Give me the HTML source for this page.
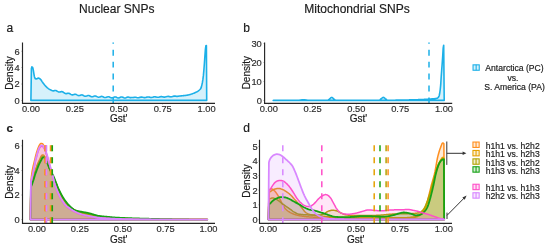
<!DOCTYPE html>
<html><head><meta charset="utf-8"><style>
html,body{margin:0;padding:0;background:#fff;}
svg{display:block;font-family:"Liberation Sans", sans-serif;will-change:transform;}
text{stroke:currentColor;stroke-width:0.18px;paint-order:stroke;}
</style></head><body>
<svg width="550" height="248" viewBox="0 0 550 248">
<rect width="550" height="248" fill="#fff"/>
<text x="116.80" y="13.10" font-size="12.00" text-anchor="middle" font-weight="normal" fill="#1a1a1a" style="color:#1a1a1a" >Nuclear SNPs</text>
<text x="357.00" y="13.10" font-size="12.00" text-anchor="middle" font-weight="normal" fill="#1a1a1a" style="color:#1a1a1a" >Mitochondrial SNPs</text>
<text x="6.40" y="31.80" font-size="12.00" text-anchor="start" font-weight="normal" fill="#1a1a1a" style="color:#1a1a1a" >a</text>
<text x="243.20" y="31.60" font-size="12.00" text-anchor="start" font-weight="normal" fill="#1a1a1a" style="color:#1a1a1a" >b</text>
<text x="6.40" y="131.60" font-size="11.50" text-anchor="start" font-weight="bold" fill="#1a1a1a" style="color:#1a1a1a" >c</text>
<text x="243.20" y="131.60" font-size="12.00" text-anchor="start" font-weight="normal" fill="#1a1a1a" style="color:#1a1a1a" >d</text>
<path d="M30.9,100.4 L30.9,100.40 31.4,68.47 31.9,66.85 32.4,67.11 32.9,68.20 33.4,70.61 33.9,73.87 34.4,76.68 34.9,78.00 35.4,78.81 35.9,78.90 36.4,78.90 36.9,78.83 37.4,78.54 37.9,78.21 38.4,78.10 38.9,78.22 39.4,78.46 39.9,78.77 40.4,79.15 40.9,79.76 41.4,80.51 41.9,81.32 42.4,82.07 42.9,82.73 43.4,83.40 43.9,84.06 44.4,84.70 44.9,85.32 45.4,85.89 45.9,86.40 46.4,86.90 46.9,87.37 47.4,87.82 47.9,88.23 48.4,88.61 48.9,88.94 49.4,89.23 49.9,89.50 50.4,89.74 50.9,89.99 51.4,90.26 51.9,90.50 52.4,90.71 52.9,90.83 53.4,90.84 53.9,90.75 54.4,90.60 54.9,90.50 55.4,90.48 55.9,90.57 56.4,90.76 56.9,91.03 57.4,91.34 57.9,91.63 58.4,91.86 58.9,92.00 59.4,92.03 59.9,91.97 60.4,91.85 60.9,91.73 61.4,91.64 61.9,91.64 62.4,91.75 62.9,91.97 63.4,92.28 63.9,92.64 64.4,93.00 64.9,93.30 65.4,93.50 65.9,93.60 66.4,93.59 66.9,93.50 67.4,93.39 67.9,93.29 68.4,93.27 68.9,93.34 69.4,93.52 69.9,93.78 70.4,94.10 70.9,94.41 71.4,94.67 71.9,94.83 72.4,94.89 72.9,94.84 73.4,94.70 73.9,94.53 74.4,94.37 74.9,94.27 75.4,94.27 75.9,94.38 76.4,94.59 76.9,94.86 77.4,95.14 77.9,95.39 78.4,95.56 78.9,95.62 79.4,95.57 79.9,95.43 80.4,95.24 80.9,95.07 81.4,94.94 81.9,94.91 82.4,94.99 82.9,95.17 83.4,95.43 83.9,95.71 84.4,95.96 84.9,96.15 85.4,96.22 85.9,96.19 86.4,96.06 86.9,95.88 87.4,95.68 87.9,95.54 88.4,95.48 88.9,95.53 89.4,95.69 89.9,95.93 90.4,96.20 90.9,96.46 91.4,96.65 91.9,96.74 92.4,96.72 92.9,96.60 93.4,96.42 93.9,96.22 94.4,96.06 94.9,95.98 95.4,96.00 95.9,96.13 96.4,96.35 96.9,96.62 97.4,96.88 97.9,97.08 98.4,97.19 98.9,97.19 99.4,97.09 99.9,96.91 100.4,96.71 100.9,96.53 101.4,96.42 101.9,96.41 102.4,96.52 102.9,96.71 103.4,96.97 103.9,97.22 104.4,97.43 104.9,97.56 105.4,97.57 105.9,97.48 106.4,97.31 106.9,97.10 107.4,96.90 107.9,96.77 108.4,96.74 108.9,96.82 109.4,97.00 109.9,97.24 110.4,97.49 110.9,97.71 111.4,97.84 111.9,97.86 112.4,97.78 112.9,97.60 113.4,97.38 113.9,97.16 114.4,96.99 114.9,96.92 115.4,96.96 115.9,97.10 116.4,97.31 116.9,97.55 117.4,97.77 117.9,97.91 118.4,97.95 118.9,97.87 119.4,97.71 119.9,97.48 120.4,97.26 120.9,97.08 121.4,96.98 121.9,96.99 122.4,97.12 122.9,97.32 123.4,97.55 123.9,97.78 124.4,97.93 124.9,97.99 125.4,97.94 125.9,97.78 126.4,97.57 126.9,97.33 127.4,97.14 127.9,97.02 128.4,97.06 128.9,97.19 129.4,97.36 129.9,97.51 130.4,97.60 130.9,97.61 131.4,97.57 131.9,97.51 132.4,97.51 132.9,97.51 133.4,97.46 133.9,97.39 134.4,97.31 134.9,97.26 135.4,97.25 135.9,97.32 136.4,97.44 136.9,97.57 137.4,97.68 137.9,97.73 138.4,97.71 138.9,97.64 139.4,97.51 139.9,97.36 140.4,97.22 140.9,97.12 141.4,97.07 141.9,97.10 142.4,97.18 142.9,97.30 143.4,97.43 143.9,97.54 144.4,97.60 144.9,97.60 145.4,97.53 145.9,97.41 146.4,97.26 146.9,97.11 147.4,97.00 147.9,96.94 148.4,96.95 148.9,97.03 149.4,97.14 149.9,97.27 150.4,97.39 150.9,97.46 151.4,97.47 151.9,97.41 152.4,97.30 152.9,97.15 153.4,97.00 153.9,96.88 154.4,96.81 154.9,96.80 155.4,96.86 155.9,96.97 156.4,97.10 156.9,97.22 157.4,97.30 157.9,97.32 158.4,97.27 158.9,97.16 159.4,97.02 159.9,96.86 160.4,96.73 160.9,96.64 161.4,96.62 161.9,96.66 162.4,96.76 162.9,96.88 163.4,97.00 163.9,97.09 164.4,97.11 164.9,97.08 165.4,96.98 165.9,96.83 166.4,96.67 166.9,96.53 167.4,96.43 167.9,96.39 168.4,96.41 168.9,96.50 169.4,96.61 169.9,96.73 170.4,96.82 170.9,96.85 171.4,96.82 171.9,96.73 172.4,96.58 172.9,96.42 173.4,96.26 173.9,96.14 174.4,96.08 174.9,96.08 175.4,96.14 175.9,96.24 176.4,96.34 176.9,96.38 177.4,96.36 177.9,96.30 178.4,96.20 178.9,96.10 179.4,96.02 179.9,95.98 180.4,95.94 180.9,95.90 181.4,95.85 181.9,95.81 182.4,95.76 182.9,95.71 183.4,95.66 183.9,95.60 184.4,95.54 184.9,95.48 185.4,95.42 185.9,95.34 186.4,95.27 186.9,95.19 187.4,95.11 187.9,95.02 188.4,94.92 188.9,94.81 189.4,94.69 189.9,94.55 190.4,94.41 190.9,94.25 191.4,94.10 191.9,93.93 192.4,93.76 192.9,93.58 193.4,93.38 193.9,93.17 194.4,92.96 194.9,92.74 195.4,92.53 195.9,92.31 196.4,92.08 196.9,91.82 197.4,91.54 197.9,91.22 198.4,90.85 198.9,90.44 199.4,90.00 199.9,89.52 200.4,88.96 200.9,88.20 201.4,86.86 201.9,84.87 202.4,82.50 202.9,79.41 203.4,75.40 203.9,69.81 204.4,63.27 204.9,56.00 205.4,49.27 205.9,45.70 206.4,45.50 206.7,100.40 206.7,100.4 Z" fill="#1cb0e8" fill-opacity="0.180" stroke="none"/>
<line x1="113.20" y1="103.30" x2="113.20" y2="42.50" stroke="#1cb0e8" stroke-width="1.50" stroke-dasharray="5.90 6.00"/>
<path d="M30.9,100.4 L30.9,100.40 31.4,68.47 31.9,66.85 32.4,67.11 32.9,68.20 33.4,70.61 33.9,73.87 34.4,76.68 34.9,78.00 35.4,78.81 35.9,78.90 36.4,78.90 36.9,78.83 37.4,78.54 37.9,78.21 38.4,78.10 38.9,78.22 39.4,78.46 39.9,78.77 40.4,79.15 40.9,79.76 41.4,80.51 41.9,81.32 42.4,82.07 42.9,82.73 43.4,83.40 43.9,84.06 44.4,84.70 44.9,85.32 45.4,85.89 45.9,86.40 46.4,86.90 46.9,87.37 47.4,87.82 47.9,88.23 48.4,88.61 48.9,88.94 49.4,89.23 49.9,89.50 50.4,89.74 50.9,89.99 51.4,90.26 51.9,90.50 52.4,90.71 52.9,90.83 53.4,90.84 53.9,90.75 54.4,90.60 54.9,90.50 55.4,90.48 55.9,90.57 56.4,90.76 56.9,91.03 57.4,91.34 57.9,91.63 58.4,91.86 58.9,92.00 59.4,92.03 59.9,91.97 60.4,91.85 60.9,91.73 61.4,91.64 61.9,91.64 62.4,91.75 62.9,91.97 63.4,92.28 63.9,92.64 64.4,93.00 64.9,93.30 65.4,93.50 65.9,93.60 66.4,93.59 66.9,93.50 67.4,93.39 67.9,93.29 68.4,93.27 68.9,93.34 69.4,93.52 69.9,93.78 70.4,94.10 70.9,94.41 71.4,94.67 71.9,94.83 72.4,94.89 72.9,94.84 73.4,94.70 73.9,94.53 74.4,94.37 74.9,94.27 75.4,94.27 75.9,94.38 76.4,94.59 76.9,94.86 77.4,95.14 77.9,95.39 78.4,95.56 78.9,95.62 79.4,95.57 79.9,95.43 80.4,95.24 80.9,95.07 81.4,94.94 81.9,94.91 82.4,94.99 82.9,95.17 83.4,95.43 83.9,95.71 84.4,95.96 84.9,96.15 85.4,96.22 85.9,96.19 86.4,96.06 86.9,95.88 87.4,95.68 87.9,95.54 88.4,95.48 88.9,95.53 89.4,95.69 89.9,95.93 90.4,96.20 90.9,96.46 91.4,96.65 91.9,96.74 92.4,96.72 92.9,96.60 93.4,96.42 93.9,96.22 94.4,96.06 94.9,95.98 95.4,96.00 95.9,96.13 96.4,96.35 96.9,96.62 97.4,96.88 97.9,97.08 98.4,97.19 98.9,97.19 99.4,97.09 99.9,96.91 100.4,96.71 100.9,96.53 101.4,96.42 101.9,96.41 102.4,96.52 102.9,96.71 103.4,96.97 103.9,97.22 104.4,97.43 104.9,97.56 105.4,97.57 105.9,97.48 106.4,97.31 106.9,97.10 107.4,96.90 107.9,96.77 108.4,96.74 108.9,96.82 109.4,97.00 109.9,97.24 110.4,97.49 110.9,97.71 111.4,97.84 111.9,97.86 112.4,97.78 112.9,97.60 113.4,97.38 113.9,97.16 114.4,96.99 114.9,96.92 115.4,96.96 115.9,97.10 116.4,97.31 116.9,97.55 117.4,97.77 117.9,97.91 118.4,97.95 118.9,97.87 119.4,97.71 119.9,97.48 120.4,97.26 120.9,97.08 121.4,96.98 121.9,96.99 122.4,97.12 122.9,97.32 123.4,97.55 123.9,97.78 124.4,97.93 124.9,97.99 125.4,97.94 125.9,97.78 126.4,97.57 126.9,97.33 127.4,97.14 127.9,97.02 128.4,97.06 128.9,97.19 129.4,97.36 129.9,97.51 130.4,97.60 130.9,97.61 131.4,97.57 131.9,97.51 132.4,97.51 132.9,97.51 133.4,97.46 133.9,97.39 134.4,97.31 134.9,97.26 135.4,97.25 135.9,97.32 136.4,97.44 136.9,97.57 137.4,97.68 137.9,97.73 138.4,97.71 138.9,97.64 139.4,97.51 139.9,97.36 140.4,97.22 140.9,97.12 141.4,97.07 141.9,97.10 142.4,97.18 142.9,97.30 143.4,97.43 143.9,97.54 144.4,97.60 144.9,97.60 145.4,97.53 145.9,97.41 146.4,97.26 146.9,97.11 147.4,97.00 147.9,96.94 148.4,96.95 148.9,97.03 149.4,97.14 149.9,97.27 150.4,97.39 150.9,97.46 151.4,97.47 151.9,97.41 152.4,97.30 152.9,97.15 153.4,97.00 153.9,96.88 154.4,96.81 154.9,96.80 155.4,96.86 155.9,96.97 156.4,97.10 156.9,97.22 157.4,97.30 157.9,97.32 158.4,97.27 158.9,97.16 159.4,97.02 159.9,96.86 160.4,96.73 160.9,96.64 161.4,96.62 161.9,96.66 162.4,96.76 162.9,96.88 163.4,97.00 163.9,97.09 164.4,97.11 164.9,97.08 165.4,96.98 165.9,96.83 166.4,96.67 166.9,96.53 167.4,96.43 167.9,96.39 168.4,96.41 168.9,96.50 169.4,96.61 169.9,96.73 170.4,96.82 170.9,96.85 171.4,96.82 171.9,96.73 172.4,96.58 172.9,96.42 173.4,96.26 173.9,96.14 174.4,96.08 174.9,96.08 175.4,96.14 175.9,96.24 176.4,96.34 176.9,96.38 177.4,96.36 177.9,96.30 178.4,96.20 178.9,96.10 179.4,96.02 179.9,95.98 180.4,95.94 180.9,95.90 181.4,95.85 181.9,95.81 182.4,95.76 182.9,95.71 183.4,95.66 183.9,95.60 184.4,95.54 184.9,95.48 185.4,95.42 185.9,95.34 186.4,95.27 186.9,95.19 187.4,95.11 187.9,95.02 188.4,94.92 188.9,94.81 189.4,94.69 189.9,94.55 190.4,94.41 190.9,94.25 191.4,94.10 191.9,93.93 192.4,93.76 192.9,93.58 193.4,93.38 193.9,93.17 194.4,92.96 194.9,92.74 195.4,92.53 195.9,92.31 196.4,92.08 196.9,91.82 197.4,91.54 197.9,91.22 198.4,90.85 198.9,90.44 199.4,90.00 199.9,89.52 200.4,88.96 200.9,88.20 201.4,86.86 201.9,84.87 202.4,82.50 202.9,79.41 203.4,75.40 203.9,69.81 204.4,63.27 204.9,56.00 205.4,49.27 205.9,45.70 206.4,45.50 206.7,100.40 206.7,100.4 Z" fill="none" stroke="#1cb0e8" stroke-width="1.60" stroke-linejoin="round"/>
<path d="M22.50,42.50 V103.30 H215.00" fill="none" stroke="#262626" stroke-width="1.15"/>
<line x1="31.00" y1="103.30" x2="31.00" y2="104.60" stroke="#262626" stroke-width="0.6" opacity="0.5"/>
<text x="31.00" y="112.40" font-size="9.30" text-anchor="middle" font-weight="normal" fill="#2e2e2e" style="color:#2e2e2e" >0.00</text>
<line x1="74.90" y1="103.30" x2="74.90" y2="104.60" stroke="#262626" stroke-width="0.6" opacity="0.5"/>
<text x="74.90" y="112.40" font-size="9.30" text-anchor="middle" font-weight="normal" fill="#2e2e2e" style="color:#2e2e2e" >0.25</text>
<line x1="118.80" y1="103.30" x2="118.80" y2="104.60" stroke="#262626" stroke-width="0.6" opacity="0.5"/>
<text x="118.80" y="112.40" font-size="9.30" text-anchor="middle" font-weight="normal" fill="#2e2e2e" style="color:#2e2e2e" >0.50</text>
<line x1="162.70" y1="103.30" x2="162.70" y2="104.60" stroke="#262626" stroke-width="0.6" opacity="0.5"/>
<text x="162.70" y="112.40" font-size="9.30" text-anchor="middle" font-weight="normal" fill="#2e2e2e" style="color:#2e2e2e" >0.75</text>
<line x1="206.60" y1="103.30" x2="206.60" y2="104.60" stroke="#262626" stroke-width="0.6" opacity="0.5"/>
<text x="206.60" y="112.40" font-size="9.30" text-anchor="middle" font-weight="normal" fill="#2e2e2e" style="color:#2e2e2e" >1.00</text>
<line x1="21.20" y1="100.44" x2="22.50" y2="100.44" stroke="#262626" stroke-width="0.6" opacity="0.5"/>
<text x="19.70" y="103.74" font-size="9.30" text-anchor="end" font-weight="normal" fill="#2e2e2e" style="color:#2e2e2e" >0</text>
<line x1="21.20" y1="84.04" x2="22.50" y2="84.04" stroke="#262626" stroke-width="0.6" opacity="0.5"/>
<text x="19.70" y="87.34" font-size="9.30" text-anchor="end" font-weight="normal" fill="#2e2e2e" style="color:#2e2e2e" >2</text>
<line x1="21.20" y1="67.64" x2="22.50" y2="67.64" stroke="#262626" stroke-width="0.6" opacity="0.5"/>
<text x="19.70" y="70.94" font-size="9.30" text-anchor="end" font-weight="normal" fill="#2e2e2e" style="color:#2e2e2e" >4</text>
<line x1="21.20" y1="51.24" x2="22.50" y2="51.24" stroke="#262626" stroke-width="0.6" opacity="0.5"/>
<text x="19.70" y="54.54" font-size="9.30" text-anchor="end" font-weight="normal" fill="#2e2e2e" style="color:#2e2e2e" >6</text>
<text x="118.80" y="121.90" font-size="10.00" text-anchor="middle" font-weight="normal" fill="#1a1a1a" style="color:#1a1a1a" >Gst'</text>
<text x="0.00" y="0.00" font-size="10.00" text-anchor="middle" font-weight="normal" fill="#1a1a1a" style="color:#1a1a1a" transform="translate(12.5,73) rotate(-90)">Density</text>
<path d="M273.2,100.4 L273.2,100.40 273.7,100.20 274.2,100.20 274.7,100.20 275.2,100.21 275.7,100.21 276.2,100.21 276.7,100.22 277.2,100.22 277.7,100.23 278.2,100.23 278.7,100.23 279.2,100.24 279.7,100.24 280.2,100.24 280.7,100.25 281.2,100.25 281.7,100.25 282.2,100.25 282.7,100.25 283.2,100.25 283.7,100.25 284.2,100.25 284.7,100.25 285.2,100.25 285.7,100.25 286.2,100.25 286.7,100.25 287.2,100.25 287.7,100.25 288.2,100.24 288.7,100.24 289.2,100.24 289.7,100.24 290.2,100.24 290.7,100.24 291.2,100.24 291.7,100.24 292.2,100.23 292.7,100.23 293.2,100.23 293.7,100.23 294.2,100.23 294.7,100.22 295.2,100.22 295.7,100.22 296.2,100.22 296.7,100.21 297.2,100.21 297.7,100.21 298.2,100.21 298.7,100.20 299.2,100.20 299.7,100.17 300.2,100.11 300.7,100.04 301.2,99.96 301.7,99.88 302.2,99.81 302.7,99.75 303.2,99.71 303.7,99.70 304.2,99.72 304.7,99.78 305.2,99.85 305.7,99.93 306.2,100.01 306.7,100.09 307.2,100.15 307.7,100.19 308.2,100.20 308.7,100.20 309.2,100.21 309.7,100.21 310.2,100.21 310.7,100.22 311.2,100.22 311.7,100.22 312.2,100.22 312.7,100.22 313.2,100.23 313.7,100.23 314.2,100.23 314.7,100.23 315.2,100.23 315.7,100.23 316.2,100.24 316.7,100.24 317.2,100.24 317.7,100.24 318.2,100.24 318.7,100.24 319.2,100.24 319.7,100.24 320.2,100.24 320.7,100.25 321.2,100.25 321.7,100.25 322.2,100.25 322.7,100.25 323.2,100.25 323.7,100.25 324.2,100.25 324.7,100.25 325.2,100.25 325.7,100.25 326.2,100.25 326.7,100.25 327.2,100.25 327.7,100.25 328.2,100.14 328.7,99.75 329.2,99.25 329.7,98.78 330.2,98.37 330.7,97.92 331.2,97.55 331.7,97.40 332.2,97.55 332.7,97.92 333.2,98.37 333.7,98.78 334.2,99.25 334.7,99.75 335.2,100.14 335.7,100.25 336.2,100.25 336.7,100.25 337.2,100.25 337.7,100.25 338.2,100.25 338.7,100.25 339.2,100.25 339.7,100.25 340.2,100.25 340.7,100.25 341.2,100.25 341.7,100.25 342.2,100.25 342.7,100.25 343.2,100.25 343.7,100.25 344.2,100.25 344.7,100.25 345.2,100.25 345.7,100.25 346.2,100.25 346.7,100.25 347.2,100.25 347.7,100.25 348.2,100.25 348.7,100.25 349.2,100.25 349.7,100.25 350.2,100.25 350.7,100.25 351.2,100.25 351.7,100.25 352.2,100.25 352.7,100.25 353.2,100.25 353.7,100.25 354.2,100.25 354.7,100.25 355.2,100.25 355.7,100.25 356.2,100.25 356.7,100.25 357.2,100.25 357.7,100.25 358.2,100.25 358.7,100.25 359.2,100.25 359.7,100.25 360.2,100.25 360.7,100.25 361.2,100.25 361.7,100.25 362.2,100.25 362.7,100.25 363.2,100.25 363.7,100.25 364.2,100.25 364.7,100.25 365.2,100.25 365.7,100.25 366.2,100.25 366.7,100.25 367.2,100.25 367.7,100.25 368.2,100.25 368.7,100.25 369.2,100.25 369.7,100.25 370.2,100.25 370.7,100.25 371.2,100.25 371.7,100.25 372.2,100.25 372.7,100.25 373.2,100.25 373.7,100.25 374.2,100.25 374.7,100.25 375.2,100.25 375.7,100.25 376.2,100.25 376.7,100.25 377.2,100.25 377.7,100.25 378.2,100.25 378.7,100.25 379.2,100.22 379.7,99.98 380.2,99.57 380.7,99.10 381.2,98.70 381.7,98.32 382.2,97.92 382.7,97.58 383.2,97.41 383.7,97.48 384.2,97.77 384.7,98.16 385.2,98.56 385.7,98.93 386.2,99.38 386.7,99.83 387.2,100.15 387.7,100.25 388.2,100.25 388.7,100.25 389.2,100.25 389.7,100.24 390.2,100.24 390.7,100.24 391.2,100.23 391.7,100.23 392.2,100.22 392.7,100.21 393.2,100.21 393.7,100.20 394.2,100.19 394.7,100.19 395.2,100.18 395.7,100.17 396.2,100.16 396.7,100.15 397.2,100.15 397.7,100.14 398.2,100.13 398.7,100.12 399.2,100.11 399.7,100.10 400.2,100.10 400.7,100.09 401.2,100.08 401.7,100.07 402.2,100.06 402.7,100.05 403.2,100.05 403.7,100.04 404.2,100.03 404.7,100.02 405.2,100.01 405.7,100.00 406.2,99.99 406.7,99.98 407.2,99.97 407.7,99.95 408.2,99.94 408.7,99.93 409.2,99.92 409.7,99.91 410.2,99.90 410.7,99.88 411.2,99.87 411.7,99.86 412.2,99.84 412.7,99.83 413.2,99.82 413.7,99.80 414.2,99.79 414.7,99.77 415.2,99.76 415.7,99.74 416.2,99.73 416.7,99.71 417.2,99.70 417.7,99.68 418.2,99.66 418.7,99.65 419.2,99.63 419.7,99.61 420.2,99.59 420.7,99.57 421.2,99.55 421.7,99.53 422.2,99.51 422.7,99.49 423.2,99.46 423.7,99.44 424.2,99.41 424.7,99.39 425.2,99.36 425.7,99.33 426.2,99.30 426.7,99.27 427.2,99.24 427.7,99.20 428.2,99.17 428.7,99.14 429.2,99.10 429.7,99.06 430.2,99.02 430.7,98.98 431.2,98.95 431.7,98.91 432.2,98.88 432.7,98.85 433.2,98.81 433.7,98.77 434.2,98.72 434.7,98.67 435.2,98.60 435.7,98.53 436.2,98.44 436.7,98.34 437.2,98.23 437.7,98.01 438.2,97.52 438.7,96.78 439.2,95.74 439.7,93.26 440.2,89.75 440.7,84.93 441.2,76.80 441.7,70.00 442.2,63.46 442.7,56.41 443.2,47.92 443.7,45.20 444.2,100.40 444.2,100.4 Z" fill="#1cb0e8" fill-opacity="0.180" stroke="none"/>
<line x1="429.00" y1="103.30" x2="429.00" y2="42.50" stroke="#1cb0e8" stroke-width="1.50" stroke-dasharray="5.90 6.00"/>
<path d="M273.2,100.4 L273.2,100.40 273.7,100.20 274.2,100.20 274.7,100.20 275.2,100.21 275.7,100.21 276.2,100.21 276.7,100.22 277.2,100.22 277.7,100.23 278.2,100.23 278.7,100.23 279.2,100.24 279.7,100.24 280.2,100.24 280.7,100.25 281.2,100.25 281.7,100.25 282.2,100.25 282.7,100.25 283.2,100.25 283.7,100.25 284.2,100.25 284.7,100.25 285.2,100.25 285.7,100.25 286.2,100.25 286.7,100.25 287.2,100.25 287.7,100.25 288.2,100.24 288.7,100.24 289.2,100.24 289.7,100.24 290.2,100.24 290.7,100.24 291.2,100.24 291.7,100.24 292.2,100.23 292.7,100.23 293.2,100.23 293.7,100.23 294.2,100.23 294.7,100.22 295.2,100.22 295.7,100.22 296.2,100.22 296.7,100.21 297.2,100.21 297.7,100.21 298.2,100.21 298.7,100.20 299.2,100.20 299.7,100.17 300.2,100.11 300.7,100.04 301.2,99.96 301.7,99.88 302.2,99.81 302.7,99.75 303.2,99.71 303.7,99.70 304.2,99.72 304.7,99.78 305.2,99.85 305.7,99.93 306.2,100.01 306.7,100.09 307.2,100.15 307.7,100.19 308.2,100.20 308.7,100.20 309.2,100.21 309.7,100.21 310.2,100.21 310.7,100.22 311.2,100.22 311.7,100.22 312.2,100.22 312.7,100.22 313.2,100.23 313.7,100.23 314.2,100.23 314.7,100.23 315.2,100.23 315.7,100.23 316.2,100.24 316.7,100.24 317.2,100.24 317.7,100.24 318.2,100.24 318.7,100.24 319.2,100.24 319.7,100.24 320.2,100.24 320.7,100.25 321.2,100.25 321.7,100.25 322.2,100.25 322.7,100.25 323.2,100.25 323.7,100.25 324.2,100.25 324.7,100.25 325.2,100.25 325.7,100.25 326.2,100.25 326.7,100.25 327.2,100.25 327.7,100.25 328.2,100.14 328.7,99.75 329.2,99.25 329.7,98.78 330.2,98.37 330.7,97.92 331.2,97.55 331.7,97.40 332.2,97.55 332.7,97.92 333.2,98.37 333.7,98.78 334.2,99.25 334.7,99.75 335.2,100.14 335.7,100.25 336.2,100.25 336.7,100.25 337.2,100.25 337.7,100.25 338.2,100.25 338.7,100.25 339.2,100.25 339.7,100.25 340.2,100.25 340.7,100.25 341.2,100.25 341.7,100.25 342.2,100.25 342.7,100.25 343.2,100.25 343.7,100.25 344.2,100.25 344.7,100.25 345.2,100.25 345.7,100.25 346.2,100.25 346.7,100.25 347.2,100.25 347.7,100.25 348.2,100.25 348.7,100.25 349.2,100.25 349.7,100.25 350.2,100.25 350.7,100.25 351.2,100.25 351.7,100.25 352.2,100.25 352.7,100.25 353.2,100.25 353.7,100.25 354.2,100.25 354.7,100.25 355.2,100.25 355.7,100.25 356.2,100.25 356.7,100.25 357.2,100.25 357.7,100.25 358.2,100.25 358.7,100.25 359.2,100.25 359.7,100.25 360.2,100.25 360.7,100.25 361.2,100.25 361.7,100.25 362.2,100.25 362.7,100.25 363.2,100.25 363.7,100.25 364.2,100.25 364.7,100.25 365.2,100.25 365.7,100.25 366.2,100.25 366.7,100.25 367.2,100.25 367.7,100.25 368.2,100.25 368.7,100.25 369.2,100.25 369.7,100.25 370.2,100.25 370.7,100.25 371.2,100.25 371.7,100.25 372.2,100.25 372.7,100.25 373.2,100.25 373.7,100.25 374.2,100.25 374.7,100.25 375.2,100.25 375.7,100.25 376.2,100.25 376.7,100.25 377.2,100.25 377.7,100.25 378.2,100.25 378.7,100.25 379.2,100.22 379.7,99.98 380.2,99.57 380.7,99.10 381.2,98.70 381.7,98.32 382.2,97.92 382.7,97.58 383.2,97.41 383.7,97.48 384.2,97.77 384.7,98.16 385.2,98.56 385.7,98.93 386.2,99.38 386.7,99.83 387.2,100.15 387.7,100.25 388.2,100.25 388.7,100.25 389.2,100.25 389.7,100.24 390.2,100.24 390.7,100.24 391.2,100.23 391.7,100.23 392.2,100.22 392.7,100.21 393.2,100.21 393.7,100.20 394.2,100.19 394.7,100.19 395.2,100.18 395.7,100.17 396.2,100.16 396.7,100.15 397.2,100.15 397.7,100.14 398.2,100.13 398.7,100.12 399.2,100.11 399.7,100.10 400.2,100.10 400.7,100.09 401.2,100.08 401.7,100.07 402.2,100.06 402.7,100.05 403.2,100.05 403.7,100.04 404.2,100.03 404.7,100.02 405.2,100.01 405.7,100.00 406.2,99.99 406.7,99.98 407.2,99.97 407.7,99.95 408.2,99.94 408.7,99.93 409.2,99.92 409.7,99.91 410.2,99.90 410.7,99.88 411.2,99.87 411.7,99.86 412.2,99.84 412.7,99.83 413.2,99.82 413.7,99.80 414.2,99.79 414.7,99.77 415.2,99.76 415.7,99.74 416.2,99.73 416.7,99.71 417.2,99.70 417.7,99.68 418.2,99.66 418.7,99.65 419.2,99.63 419.7,99.61 420.2,99.59 420.7,99.57 421.2,99.55 421.7,99.53 422.2,99.51 422.7,99.49 423.2,99.46 423.7,99.44 424.2,99.41 424.7,99.39 425.2,99.36 425.7,99.33 426.2,99.30 426.7,99.27 427.2,99.24 427.7,99.20 428.2,99.17 428.7,99.14 429.2,99.10 429.7,99.06 430.2,99.02 430.7,98.98 431.2,98.95 431.7,98.91 432.2,98.88 432.7,98.85 433.2,98.81 433.7,98.77 434.2,98.72 434.7,98.67 435.2,98.60 435.7,98.53 436.2,98.44 436.7,98.34 437.2,98.23 437.7,98.01 438.2,97.52 438.7,96.78 439.2,95.74 439.7,93.26 440.2,89.75 440.7,84.93 441.2,76.80 441.7,70.00 442.2,63.46 442.7,56.41 443.2,47.92 443.7,45.20 444.2,100.40 444.2,100.4 Z" fill="none" stroke="#1cb0e8" stroke-width="1.60" stroke-linejoin="round"/>
<path d="M264.60,42.50 V103.30 H452.20" fill="none" stroke="#262626" stroke-width="1.15"/>
<line x1="268.80" y1="103.30" x2="268.80" y2="104.60" stroke="#262626" stroke-width="0.6" opacity="0.5"/>
<text x="268.80" y="112.40" font-size="9.30" text-anchor="middle" font-weight="normal" fill="#2e2e2e" style="color:#2e2e2e" >0.00</text>
<line x1="312.60" y1="103.30" x2="312.60" y2="104.60" stroke="#262626" stroke-width="0.6" opacity="0.5"/>
<text x="312.60" y="112.40" font-size="9.30" text-anchor="middle" font-weight="normal" fill="#2e2e2e" style="color:#2e2e2e" >0.25</text>
<line x1="356.40" y1="103.30" x2="356.40" y2="104.60" stroke="#262626" stroke-width="0.6" opacity="0.5"/>
<text x="356.40" y="112.40" font-size="9.30" text-anchor="middle" font-weight="normal" fill="#2e2e2e" style="color:#2e2e2e" >0.50</text>
<line x1="400.20" y1="103.30" x2="400.20" y2="104.60" stroke="#262626" stroke-width="0.6" opacity="0.5"/>
<text x="400.20" y="112.40" font-size="9.30" text-anchor="middle" font-weight="normal" fill="#2e2e2e" style="color:#2e2e2e" >0.75</text>
<line x1="444.00" y1="103.30" x2="444.00" y2="104.60" stroke="#262626" stroke-width="0.6" opacity="0.5"/>
<text x="444.00" y="112.40" font-size="9.30" text-anchor="middle" font-weight="normal" fill="#2e2e2e" style="color:#2e2e2e" >1.00</text>
<line x1="263.30" y1="100.44" x2="264.60" y2="100.44" stroke="#262626" stroke-width="0.6" opacity="0.5"/>
<text x="261.80" y="103.74" font-size="9.30" text-anchor="end" font-weight="normal" fill="#2e2e2e" style="color:#2e2e2e" >0</text>
<line x1="263.30" y1="81.49" x2="264.60" y2="81.49" stroke="#262626" stroke-width="0.6" opacity="0.5"/>
<text x="261.80" y="84.79" font-size="9.30" text-anchor="end" font-weight="normal" fill="#2e2e2e" style="color:#2e2e2e" >10</text>
<line x1="263.30" y1="62.54" x2="264.60" y2="62.54" stroke="#262626" stroke-width="0.6" opacity="0.5"/>
<text x="261.80" y="65.84" font-size="9.30" text-anchor="end" font-weight="normal" fill="#2e2e2e" style="color:#2e2e2e" >20</text>
<line x1="263.30" y1="43.59" x2="264.60" y2="43.59" stroke="#262626" stroke-width="0.6" opacity="0.5"/>
<text x="261.80" y="46.89" font-size="9.30" text-anchor="end" font-weight="normal" fill="#2e2e2e" style="color:#2e2e2e" >30</text>
<text x="358.50" y="121.90" font-size="10.00" text-anchor="middle" font-weight="normal" fill="#1a1a1a" style="color:#1a1a1a" >Gst'</text>
<text x="0.00" y="0.00" font-size="10.00" text-anchor="middle" font-weight="normal" fill="#1a1a1a" style="color:#1a1a1a" transform="translate(249.5,72.7) rotate(-90)">Density</text>
<rect x="473.05" y="64.85" width="6.20" height="5.40" fill="#1cb0e8" fill-opacity="0.18" stroke="#1cb0e8" stroke-width="1.1"/><line x1="476.15" y1="64.85" x2="476.15" y2="70.25" stroke="#1cb0e8" stroke-width="1.1"/>
<text x="514.50" y="71.00" font-size="8.60" text-anchor="middle" font-weight="normal" fill="#1a1a1a" style="color:#1a1a1a" >Antarctica (PC)</text>
<text x="513.00" y="80.60" font-size="8.60" text-anchor="middle" font-weight="normal" fill="#1a1a1a" style="color:#1a1a1a" >vs.</text>
<text x="514.50" y="90.00" font-size="8.60" text-anchor="middle" font-weight="normal" fill="#1a1a1a" style="color:#1a1a1a" >S. America (PA)</text>
<path d="M30.4,219.6 L30.4,219.60 30.9,181.85 31.4,176.73 31.9,172.90 32.4,169.98 32.9,167.48 33.4,165.19 33.9,163.17 34.4,161.22 34.9,159.15 35.4,156.95 35.9,154.87 36.4,153.09 36.9,151.46 37.4,150.00 37.9,148.62 38.4,147.30 38.9,146.12 39.4,145.16 39.9,144.37 40.4,143.71 40.9,143.50 41.4,143.52 41.9,143.56 42.4,143.62 42.9,144.05 43.4,144.84 43.9,145.80 44.4,147.00 44.9,148.62 45.4,150.34 45.9,152.13 46.4,154.01 46.9,155.87 47.4,157.71 47.9,159.55 48.4,161.36 48.9,163.16 49.4,164.94 49.9,166.66 50.4,168.32 50.9,169.93 51.4,171.49 51.9,173.00 52.4,174.46 52.9,175.88 53.4,177.26 53.9,178.62 54.4,179.94 54.9,181.24 55.4,182.53 55.9,183.80 56.4,185.05 56.9,186.28 57.4,187.49 57.9,188.65 58.4,189.78 58.9,190.87 59.4,191.94 59.9,192.99 60.4,194.01 60.9,194.99 61.4,195.93 61.9,196.83 62.4,197.68 62.9,198.51 63.4,199.31 63.9,200.08 64.4,200.83 64.9,201.54 65.4,202.22 65.9,202.87 66.4,203.50 66.9,204.10 67.4,204.69 67.9,205.25 68.4,205.79 68.9,206.30 69.4,206.78 69.9,207.22 70.4,207.62 70.9,208.02 71.4,208.39 71.9,208.75 72.4,209.09 72.9,209.41 73.4,209.72 73.9,210.01 74.4,210.29 74.9,210.55 75.4,210.80 75.9,211.03 76.4,211.26 76.9,211.47 77.4,211.68 77.9,211.87 78.4,212.06 78.9,212.24 79.4,212.41 79.9,212.57 80.4,212.72 80.9,212.87 81.4,213.01 81.9,213.15 82.4,213.28 82.9,213.41 83.4,213.53 83.9,213.65 84.4,213.77 84.9,213.88 85.4,214.00 85.9,214.11 86.4,214.22 86.9,214.33 87.4,214.43 87.9,214.54 88.4,214.65 88.9,214.76 89.4,214.87 89.9,214.98 90.4,215.09 90.9,215.20 91.4,215.31 91.9,215.42 92.4,215.53 92.9,215.63 93.4,215.74 93.9,215.84 94.4,215.95 94.9,216.04 95.4,216.14 95.9,216.23 96.4,216.32 96.9,216.40 97.4,216.48 97.9,216.56 98.4,216.63 98.9,216.69 99.4,216.76 99.9,216.82 100.4,216.88 100.9,216.95 101.4,217.00 101.9,217.06 102.4,217.12 102.9,217.17 103.4,217.23 103.9,217.28 104.4,217.33 104.9,217.38 105.4,217.43 105.9,217.47 106.4,217.52 106.9,217.56 107.4,217.60 107.9,217.64 108.4,217.68 108.9,217.72 109.4,217.76 109.9,217.79 110.4,217.83 110.9,217.86 111.4,217.89 111.9,217.93 112.4,217.96 112.9,217.99 113.4,218.02 113.9,218.05 114.4,218.09 114.9,218.12 115.4,218.15 115.9,218.17 116.4,218.20 116.9,218.23 117.4,218.26 117.9,218.29 118.4,218.31 118.9,218.34 119.4,218.36 119.9,218.39 120.4,218.41 120.9,218.44 121.4,218.46 121.9,218.49 122.4,218.51 122.9,218.53 123.4,218.55 123.9,218.58 124.4,218.60 124.9,218.62 125.4,218.64 125.9,218.66 126.4,218.68 126.9,218.69 127.4,218.71 127.9,218.73 128.4,218.75 128.9,218.76 129.4,218.78 129.9,218.80 130.4,218.81 130.9,218.83 131.4,218.84 131.9,218.86 132.4,218.87 132.9,218.89 133.4,218.90 133.9,218.92 134.4,218.93 134.9,218.95 135.4,218.96 135.9,218.98 136.4,218.99 136.9,219.00 137.4,219.02 137.9,219.03 138.4,219.04 138.9,219.06 139.4,219.07 139.9,219.08 140.4,219.10 140.9,219.11 141.4,219.12 141.9,219.13 142.4,219.15 142.9,219.16 143.4,219.17 143.9,219.18 144.4,219.19 144.9,219.20 145.4,219.22 145.9,219.23 146.4,219.24 146.9,219.25 147.4,219.26 147.9,219.27 148.4,219.28 148.9,219.29 149.4,219.30 149.9,219.31 150.4,219.32 150.9,219.33 151.4,219.33 151.9,219.34 152.4,219.35 152.9,219.36 153.4,219.37 153.9,219.38 154.4,219.38 154.9,219.39 155.4,219.40 155.9,219.40 156.4,219.41 156.9,219.42 157.4,219.42 157.9,219.43 158.4,219.43 158.9,219.44 159.4,219.44 159.9,219.45 160.4,219.45 160.9,219.46 161.4,219.46 161.9,219.47 162.4,219.47 162.9,219.48 163.4,219.48 163.9,219.49 164.4,219.49 164.9,219.49 165.4,219.50 165.9,219.50 166.4,219.51 166.9,219.51 167.4,219.52 167.9,219.52 168.4,219.52 168.9,219.53 169.4,219.53 169.9,219.54 170.4,219.54 170.9,219.54 171.4,219.55 171.9,219.55 172.4,219.55 172.9,219.56 173.4,219.56 173.9,219.56 174.4,219.57 174.9,219.57 175.4,219.57 175.9,219.57 176.4,219.58 176.9,219.58 177.4,219.58 177.9,219.58 178.4,219.59 178.9,219.59 179.4,219.59 179.9,219.59 180.4,219.59 180.9,219.59 181.4,219.60 181.9,219.60 182.4,219.60 182.9,219.60 183.4,219.60 183.9,219.60 184.4,219.60 184.9,219.60 185.4,219.60 185.9,219.60 186.4,219.60 186.9,219.60 187.4,219.60 187.9,219.60 188.4,219.60 188.9,219.60 189.4,219.60 189.9,219.60 190.4,219.60 190.9,219.60 191.4,219.60 191.9,219.60 192.4,219.60 192.9,219.60 193.4,219.60 193.9,219.60 194.4,219.60 194.9,219.60 195.4,219.60 195.9,219.60 196.4,219.60 196.9,219.60 197.4,219.60 197.9,219.60 198.4,219.60 198.9,219.60 199.4,219.60 199.9,219.60 200.4,219.60 200.9,219.60 201.4,219.60 201.9,219.60 202.4,219.60 202.9,219.60 203.4,219.60 203.9,219.60 204.4,219.60 204.9,219.60 205.4,219.60 205.9,219.60 206.4,219.60 206.9,219.60 207.3,219.60 207.3,219.6 Z" fill="#ff8f1f" fill-opacity="0.170" stroke="none"/>
<path d="M30.4,219.6 L30.4,219.60 30.9,181.85 31.4,176.73 31.9,172.90 32.4,169.98 32.9,167.48 33.4,165.19 33.9,163.17 34.4,161.22 34.9,159.15 35.4,156.95 35.9,154.87 36.4,153.09 36.9,151.46 37.4,150.00 37.9,148.62 38.4,147.30 38.9,146.12 39.4,145.16 39.9,144.37 40.4,143.71 40.9,143.50 41.4,143.52 41.9,143.56 42.4,143.62 42.9,144.05 43.4,144.84 43.9,145.80 44.4,147.00 44.9,148.62 45.4,150.34 45.9,152.13 46.4,154.01 46.9,155.87 47.4,157.71 47.9,159.55 48.4,161.36 48.9,163.16 49.4,164.94 49.9,166.66 50.4,168.32 50.9,169.93 51.4,171.49 51.9,173.00 52.4,174.46 52.9,175.88 53.4,177.26 53.9,178.62 54.4,179.94 54.9,181.24 55.4,182.53 55.9,183.80 56.4,185.05 56.9,186.28 57.4,187.49 57.9,188.65 58.4,189.78 58.9,190.87 59.4,191.94 59.9,192.99 60.4,194.01 60.9,194.99 61.4,195.93 61.9,196.83 62.4,197.68 62.9,198.51 63.4,199.31 63.9,200.08 64.4,200.83 64.9,201.54 65.4,202.22 65.9,202.87 66.4,203.50 66.9,204.10 67.4,204.69 67.9,205.25 68.4,205.79 68.9,206.30 69.4,206.78 69.9,207.22 70.4,207.62 70.9,208.02 71.4,208.39 71.9,208.75 72.4,209.09 72.9,209.41 73.4,209.72 73.9,210.01 74.4,210.29 74.9,210.55 75.4,210.80 75.9,211.03 76.4,211.26 76.9,211.47 77.4,211.68 77.9,211.87 78.4,212.06 78.9,212.24 79.4,212.41 79.9,212.57 80.4,212.72 80.9,212.87 81.4,213.01 81.9,213.15 82.4,213.28 82.9,213.41 83.4,213.53 83.9,213.65 84.4,213.77 84.9,213.88 85.4,214.00 85.9,214.11 86.4,214.22 86.9,214.33 87.4,214.43 87.9,214.54 88.4,214.65 88.9,214.76 89.4,214.87 89.9,214.98 90.4,215.09 90.9,215.20 91.4,215.31 91.9,215.42 92.4,215.53 92.9,215.63 93.4,215.74 93.9,215.84 94.4,215.95 94.9,216.04 95.4,216.14 95.9,216.23 96.4,216.32 96.9,216.40 97.4,216.48 97.9,216.56 98.4,216.63 98.9,216.69 99.4,216.76 99.9,216.82 100.4,216.88 100.9,216.95 101.4,217.00 101.9,217.06 102.4,217.12 102.9,217.17 103.4,217.23 103.9,217.28 104.4,217.33 104.9,217.38 105.4,217.43 105.9,217.47 106.4,217.52 106.9,217.56 107.4,217.60 107.9,217.64 108.4,217.68 108.9,217.72 109.4,217.76 109.9,217.79 110.4,217.83 110.9,217.86 111.4,217.89 111.9,217.93 112.4,217.96 112.9,217.99 113.4,218.02 113.9,218.05 114.4,218.09 114.9,218.12 115.4,218.15 115.9,218.17 116.4,218.20 116.9,218.23 117.4,218.26 117.9,218.29 118.4,218.31 118.9,218.34 119.4,218.36 119.9,218.39 120.4,218.41 120.9,218.44 121.4,218.46 121.9,218.49 122.4,218.51 122.9,218.53 123.4,218.55 123.9,218.58 124.4,218.60 124.9,218.62 125.4,218.64 125.9,218.66 126.4,218.68 126.9,218.69 127.4,218.71 127.9,218.73 128.4,218.75 128.9,218.76 129.4,218.78 129.9,218.80 130.4,218.81 130.9,218.83 131.4,218.84 131.9,218.86 132.4,218.87 132.9,218.89 133.4,218.90 133.9,218.92 134.4,218.93 134.9,218.95 135.4,218.96 135.9,218.98 136.4,218.99 136.9,219.00 137.4,219.02 137.9,219.03 138.4,219.04 138.9,219.06 139.4,219.07 139.9,219.08 140.4,219.10 140.9,219.11 141.4,219.12 141.9,219.13 142.4,219.15 142.9,219.16 143.4,219.17 143.9,219.18 144.4,219.19 144.9,219.20 145.4,219.22 145.9,219.23 146.4,219.24 146.9,219.25 147.4,219.26 147.9,219.27 148.4,219.28 148.9,219.29 149.4,219.30 149.9,219.31 150.4,219.32 150.9,219.33 151.4,219.33 151.9,219.34 152.4,219.35 152.9,219.36 153.4,219.37 153.9,219.38 154.4,219.38 154.9,219.39 155.4,219.40 155.9,219.40 156.4,219.41 156.9,219.42 157.4,219.42 157.9,219.43 158.4,219.43 158.9,219.44 159.4,219.44 159.9,219.45 160.4,219.45 160.9,219.46 161.4,219.46 161.9,219.47 162.4,219.47 162.9,219.48 163.4,219.48 163.9,219.49 164.4,219.49 164.9,219.49 165.4,219.50 165.9,219.50 166.4,219.51 166.9,219.51 167.4,219.52 167.9,219.52 168.4,219.52 168.9,219.53 169.4,219.53 169.9,219.54 170.4,219.54 170.9,219.54 171.4,219.55 171.9,219.55 172.4,219.55 172.9,219.56 173.4,219.56 173.9,219.56 174.4,219.57 174.9,219.57 175.4,219.57 175.9,219.57 176.4,219.58 176.9,219.58 177.4,219.58 177.9,219.58 178.4,219.59 178.9,219.59 179.4,219.59 179.9,219.59 180.4,219.59 180.9,219.59 181.4,219.60 181.9,219.60 182.4,219.60 182.9,219.60 183.4,219.60 183.9,219.60 184.4,219.60 184.9,219.60 185.4,219.60 185.9,219.60 186.4,219.60 186.9,219.60 187.4,219.60 187.9,219.60 188.4,219.60 188.9,219.60 189.4,219.60 189.9,219.60 190.4,219.60 190.9,219.60 191.4,219.60 191.9,219.60 192.4,219.60 192.9,219.60 193.4,219.60 193.9,219.60 194.4,219.60 194.9,219.60 195.4,219.60 195.9,219.60 196.4,219.60 196.9,219.60 197.4,219.60 197.9,219.60 198.4,219.60 198.9,219.60 199.4,219.60 199.9,219.60 200.4,219.60 200.9,219.60 201.4,219.60 201.9,219.60 202.4,219.60 202.9,219.60 203.4,219.60 203.9,219.60 204.4,219.60 204.9,219.60 205.4,219.60 205.9,219.60 206.4,219.60 206.9,219.60 207.3,219.60 207.3,219.6 Z" fill="none" stroke="#ff8f1f" stroke-width="1.50" stroke-linejoin="round"/>
<path d="M30.4,219.6 L30.4,219.60 30.9,184.80 31.4,183.32 31.9,182.34 32.4,180.51 32.9,178.73 33.4,177.02 33.9,175.34 34.4,173.65 34.9,171.98 35.4,170.36 35.9,168.80 36.4,167.31 36.9,165.86 37.4,164.49 37.9,163.23 38.4,162.15 38.9,161.19 39.4,160.21 39.9,159.05 40.4,157.77 40.9,156.67 41.4,155.83 41.9,155.19 42.4,155.06 42.9,155.01 43.4,155.01 43.9,155.38 44.4,156.05 44.9,157.09 45.4,158.50 45.9,159.77 46.4,161.02 46.9,162.26 47.4,163.45 47.9,164.61 48.4,165.77 48.9,166.95 49.4,168.15 49.9,169.35 50.4,170.53 50.9,171.69 51.4,172.84 51.9,173.97 52.4,175.08 52.9,176.16 53.4,177.19 53.9,178.20 54.4,179.23 54.9,180.30 55.4,181.43 55.9,182.68 56.4,184.01 56.9,185.37 57.4,186.74 57.9,188.05 58.4,189.27 58.9,190.39 59.4,191.48 59.9,192.53 60.4,193.54 60.9,194.51 61.4,195.44 61.9,196.33 62.4,197.18 62.9,198.01 63.4,198.80 63.9,199.57 64.4,200.32 64.9,201.03 65.4,201.72 65.9,202.37 66.4,203.00 66.9,203.62 67.4,204.23 67.9,204.81 68.4,205.36 68.9,205.88 69.4,206.37 69.9,206.82 70.4,207.23 70.9,207.62 71.4,207.99 71.9,208.35 72.4,208.68 72.9,209.01 73.4,209.31 73.9,209.60 74.4,209.88 74.9,210.15 75.4,210.40 75.9,210.65 76.4,210.89 76.9,211.11 77.4,211.33 77.9,211.54 78.4,211.74 78.9,211.93 79.4,212.10 79.9,212.27 80.4,212.42 80.9,212.57 81.4,212.72 81.9,212.85 82.4,212.99 82.9,213.12 83.4,213.24 83.9,213.36 84.4,213.48 84.9,213.59 85.4,213.70 85.9,213.81 86.4,213.92 86.9,214.03 87.4,214.14 87.9,214.24 88.4,214.35 88.9,214.46 89.4,214.57 89.9,214.67 90.4,214.78 90.9,214.89 91.4,215.00 91.9,215.11 92.4,215.22 92.9,215.33 93.4,215.43 93.9,215.54 94.4,215.64 94.9,215.74 95.4,215.83 95.9,215.92 96.4,216.01 96.9,216.10 97.4,216.18 97.9,216.26 98.4,216.33 98.9,216.40 99.4,216.47 99.9,216.54 100.4,216.60 100.9,216.67 101.4,216.73 101.9,216.79 102.4,216.85 102.9,216.91 103.4,216.97 103.9,217.03 104.4,217.08 104.9,217.14 105.4,217.19 105.9,217.24 106.4,217.29 106.9,217.34 107.4,217.38 107.9,217.43 108.4,217.47 108.9,217.51 109.4,217.55 109.9,217.59 110.4,217.63 110.9,217.67 111.4,217.70 111.9,217.74 112.4,217.78 112.9,217.81 113.4,217.84 113.9,217.88 114.4,217.91 114.9,217.94 115.4,217.98 115.9,218.01 116.4,218.04 116.9,218.07 117.4,218.10 117.9,218.13 118.4,218.16 118.9,218.19 119.4,218.22 119.9,218.25 120.4,218.27 120.9,218.30 121.4,218.33 121.9,218.35 122.4,218.38 122.9,218.40 123.4,218.43 123.9,218.45 124.4,218.47 124.9,218.50 125.4,218.52 125.9,218.54 126.4,218.56 126.9,218.58 127.4,218.60 127.9,218.62 128.4,218.64 128.9,218.66 129.4,218.68 129.9,218.70 130.4,218.71 130.9,218.73 131.4,218.75 131.9,218.77 132.4,218.78 132.9,218.80 133.4,218.82 133.9,218.83 134.4,218.85 134.9,218.87 135.4,218.88 135.9,218.90 136.4,218.92 136.9,218.93 137.4,218.95 137.9,218.97 138.4,218.98 138.9,219.00 139.4,219.01 139.9,219.03 140.4,219.04 140.9,219.06 141.4,219.07 141.9,219.09 142.4,219.10 142.9,219.11 143.4,219.13 143.9,219.14 144.4,219.16 144.9,219.17 145.4,219.18 145.9,219.19 146.4,219.21 146.9,219.22 147.4,219.23 147.9,219.24 148.4,219.26 148.9,219.27 149.4,219.28 149.9,219.29 150.4,219.30 150.9,219.31 151.4,219.32 151.9,219.33 152.4,219.34 152.9,219.35 153.4,219.36 153.9,219.37 154.4,219.38 154.9,219.38 155.4,219.39 155.9,219.40 156.4,219.41 156.9,219.41 157.4,219.42 157.9,219.43 158.4,219.43 158.9,219.44 159.4,219.44 159.9,219.45 160.4,219.45 160.9,219.46 161.4,219.46 161.9,219.47 162.4,219.47 162.9,219.48 163.4,219.48 163.9,219.49 164.4,219.49 164.9,219.50 165.4,219.50 165.9,219.50 166.4,219.51 166.9,219.51 167.4,219.52 167.9,219.52 168.4,219.52 168.9,219.53 169.4,219.53 169.9,219.54 170.4,219.54 170.9,219.54 171.4,219.55 171.9,219.55 172.4,219.55 172.9,219.56 173.4,219.56 173.9,219.56 174.4,219.57 174.9,219.57 175.4,219.57 175.9,219.57 176.4,219.58 176.9,219.58 177.4,219.58 177.9,219.58 178.4,219.59 178.9,219.59 179.4,219.59 179.9,219.59 180.4,219.59 180.9,219.59 181.4,219.60 181.9,219.60 182.4,219.60 182.9,219.60 183.4,219.60 183.9,219.60 184.4,219.60 184.9,219.60 185.4,219.60 185.9,219.60 186.4,219.60 186.9,219.60 187.4,219.60 187.9,219.60 188.4,219.60 188.9,219.60 189.4,219.60 189.9,219.60 190.4,219.60 190.9,219.60 191.4,219.60 191.9,219.60 192.4,219.60 192.9,219.60 193.4,219.60 193.9,219.60 194.4,219.60 194.9,219.60 195.4,219.60 195.9,219.60 196.4,219.60 196.9,219.60 197.4,219.60 197.9,219.60 198.4,219.60 198.9,219.60 199.4,219.60 199.9,219.60 200.4,219.60 200.9,219.60 201.4,219.60 201.9,219.60 202.4,219.60 202.9,219.60 203.4,219.60 203.9,219.60 204.4,219.60 204.9,219.60 205.4,219.60 205.9,219.60 206.4,219.60 206.9,219.60 207.3,219.60 207.3,219.6 Z" fill="#e5a100" fill-opacity="0.170" stroke="none"/>
<path d="M30.4,219.6 L30.4,219.60 30.9,184.80 31.4,183.32 31.9,182.34 32.4,180.51 32.9,178.73 33.4,177.02 33.9,175.34 34.4,173.65 34.9,171.98 35.4,170.36 35.9,168.80 36.4,167.31 36.9,165.86 37.4,164.49 37.9,163.23 38.4,162.15 38.9,161.19 39.4,160.21 39.9,159.05 40.4,157.77 40.9,156.67 41.4,155.83 41.9,155.19 42.4,155.06 42.9,155.01 43.4,155.01 43.9,155.38 44.4,156.05 44.9,157.09 45.4,158.50 45.9,159.77 46.4,161.02 46.9,162.26 47.4,163.45 47.9,164.61 48.4,165.77 48.9,166.95 49.4,168.15 49.9,169.35 50.4,170.53 50.9,171.69 51.4,172.84 51.9,173.97 52.4,175.08 52.9,176.16 53.4,177.19 53.9,178.20 54.4,179.23 54.9,180.30 55.4,181.43 55.9,182.68 56.4,184.01 56.9,185.37 57.4,186.74 57.9,188.05 58.4,189.27 58.9,190.39 59.4,191.48 59.9,192.53 60.4,193.54 60.9,194.51 61.4,195.44 61.9,196.33 62.4,197.18 62.9,198.01 63.4,198.80 63.9,199.57 64.4,200.32 64.9,201.03 65.4,201.72 65.9,202.37 66.4,203.00 66.9,203.62 67.4,204.23 67.9,204.81 68.4,205.36 68.9,205.88 69.4,206.37 69.9,206.82 70.4,207.23 70.9,207.62 71.4,207.99 71.9,208.35 72.4,208.68 72.9,209.01 73.4,209.31 73.9,209.60 74.4,209.88 74.9,210.15 75.4,210.40 75.9,210.65 76.4,210.89 76.9,211.11 77.4,211.33 77.9,211.54 78.4,211.74 78.9,211.93 79.4,212.10 79.9,212.27 80.4,212.42 80.9,212.57 81.4,212.72 81.9,212.85 82.4,212.99 82.9,213.12 83.4,213.24 83.9,213.36 84.4,213.48 84.9,213.59 85.4,213.70 85.9,213.81 86.4,213.92 86.9,214.03 87.4,214.14 87.9,214.24 88.4,214.35 88.9,214.46 89.4,214.57 89.9,214.67 90.4,214.78 90.9,214.89 91.4,215.00 91.9,215.11 92.4,215.22 92.9,215.33 93.4,215.43 93.9,215.54 94.4,215.64 94.9,215.74 95.4,215.83 95.9,215.92 96.4,216.01 96.9,216.10 97.4,216.18 97.9,216.26 98.4,216.33 98.9,216.40 99.4,216.47 99.9,216.54 100.4,216.60 100.9,216.67 101.4,216.73 101.9,216.79 102.4,216.85 102.9,216.91 103.4,216.97 103.9,217.03 104.4,217.08 104.9,217.14 105.4,217.19 105.9,217.24 106.4,217.29 106.9,217.34 107.4,217.38 107.9,217.43 108.4,217.47 108.9,217.51 109.4,217.55 109.9,217.59 110.4,217.63 110.9,217.67 111.4,217.70 111.9,217.74 112.4,217.78 112.9,217.81 113.4,217.84 113.9,217.88 114.4,217.91 114.9,217.94 115.4,217.98 115.9,218.01 116.4,218.04 116.9,218.07 117.4,218.10 117.9,218.13 118.4,218.16 118.9,218.19 119.4,218.22 119.9,218.25 120.4,218.27 120.9,218.30 121.4,218.33 121.9,218.35 122.4,218.38 122.9,218.40 123.4,218.43 123.9,218.45 124.4,218.47 124.9,218.50 125.4,218.52 125.9,218.54 126.4,218.56 126.9,218.58 127.4,218.60 127.9,218.62 128.4,218.64 128.9,218.66 129.4,218.68 129.9,218.70 130.4,218.71 130.9,218.73 131.4,218.75 131.9,218.77 132.4,218.78 132.9,218.80 133.4,218.82 133.9,218.83 134.4,218.85 134.9,218.87 135.4,218.88 135.9,218.90 136.4,218.92 136.9,218.93 137.4,218.95 137.9,218.97 138.4,218.98 138.9,219.00 139.4,219.01 139.9,219.03 140.4,219.04 140.9,219.06 141.4,219.07 141.9,219.09 142.4,219.10 142.9,219.11 143.4,219.13 143.9,219.14 144.4,219.16 144.9,219.17 145.4,219.18 145.9,219.19 146.4,219.21 146.9,219.22 147.4,219.23 147.9,219.24 148.4,219.26 148.9,219.27 149.4,219.28 149.9,219.29 150.4,219.30 150.9,219.31 151.4,219.32 151.9,219.33 152.4,219.34 152.9,219.35 153.4,219.36 153.9,219.37 154.4,219.38 154.9,219.38 155.4,219.39 155.9,219.40 156.4,219.41 156.9,219.41 157.4,219.42 157.9,219.43 158.4,219.43 158.9,219.44 159.4,219.44 159.9,219.45 160.4,219.45 160.9,219.46 161.4,219.46 161.9,219.47 162.4,219.47 162.9,219.48 163.4,219.48 163.9,219.49 164.4,219.49 164.9,219.50 165.4,219.50 165.9,219.50 166.4,219.51 166.9,219.51 167.4,219.52 167.9,219.52 168.4,219.52 168.9,219.53 169.4,219.53 169.9,219.54 170.4,219.54 170.9,219.54 171.4,219.55 171.9,219.55 172.4,219.55 172.9,219.56 173.4,219.56 173.9,219.56 174.4,219.57 174.9,219.57 175.4,219.57 175.9,219.57 176.4,219.58 176.9,219.58 177.4,219.58 177.9,219.58 178.4,219.59 178.9,219.59 179.4,219.59 179.9,219.59 180.4,219.59 180.9,219.59 181.4,219.60 181.9,219.60 182.4,219.60 182.9,219.60 183.4,219.60 183.9,219.60 184.4,219.60 184.9,219.60 185.4,219.60 185.9,219.60 186.4,219.60 186.9,219.60 187.4,219.60 187.9,219.60 188.4,219.60 188.9,219.60 189.4,219.60 189.9,219.60 190.4,219.60 190.9,219.60 191.4,219.60 191.9,219.60 192.4,219.60 192.9,219.60 193.4,219.60 193.9,219.60 194.4,219.60 194.9,219.60 195.4,219.60 195.9,219.60 196.4,219.60 196.9,219.60 197.4,219.60 197.9,219.60 198.4,219.60 198.9,219.60 199.4,219.60 199.9,219.60 200.4,219.60 200.9,219.60 201.4,219.60 201.9,219.60 202.4,219.60 202.9,219.60 203.4,219.60 203.9,219.60 204.4,219.60 204.9,219.60 205.4,219.60 205.9,219.60 206.4,219.60 206.9,219.60 207.3,219.60 207.3,219.6 Z" fill="none" stroke="#e5a100" stroke-width="1.50" stroke-linejoin="round"/>
<path d="M30.4,219.6 L30.4,219.60 30.9,185.60 31.4,184.25 31.9,183.33 32.4,181.54 32.9,179.77 33.4,178.04 33.9,176.34 34.4,174.65 34.9,172.98 35.4,171.36 35.9,169.80 36.4,168.31 36.9,166.86 37.4,165.49 37.9,164.23 38.4,163.14 38.9,162.17 39.4,161.20 39.9,160.11 40.4,158.94 40.9,157.95 41.4,157.22 41.9,156.61 42.4,156.30 42.9,156.24 43.4,156.20 43.9,156.30 44.4,156.78 44.9,157.45 45.4,158.52 45.9,159.73 46.4,160.95 46.9,162.21 47.4,163.44 47.9,164.65 48.4,165.85 48.9,167.04 49.4,168.21 49.9,169.38 50.4,170.54 50.9,171.69 51.4,172.83 51.9,173.97 52.4,175.08 52.9,176.16 53.4,177.19 53.9,178.20 54.4,179.23 54.9,180.30 55.4,181.43 55.9,182.68 56.4,184.01 56.9,185.37 57.4,186.74 57.9,188.05 58.4,189.27 58.9,190.39 59.4,191.48 59.9,192.53 60.4,193.54 60.9,194.51 61.4,195.44 61.9,196.33 62.4,197.18 62.9,198.01 63.4,198.80 63.9,199.57 64.4,200.32 64.9,201.03 65.4,201.72 65.9,202.37 66.4,203.00 66.9,203.62 67.4,204.23 67.9,204.81 68.4,205.36 68.9,205.88 69.4,206.37 69.9,206.82 70.4,207.23 70.9,207.62 71.4,207.99 71.9,208.35 72.4,208.68 72.9,209.01 73.4,209.31 73.9,209.60 74.4,209.88 74.9,210.15 75.4,210.40 75.9,210.65 76.4,210.89 76.9,211.11 77.4,211.33 77.9,211.54 78.4,211.74 78.9,211.93 79.4,212.10 79.9,212.27 80.4,212.42 80.9,212.57 81.4,212.72 81.9,212.85 82.4,212.99 82.9,213.12 83.4,213.24 83.9,213.36 84.4,213.48 84.9,213.59 85.4,213.70 85.9,213.81 86.4,213.92 86.9,214.03 87.4,214.14 87.9,214.24 88.4,214.35 88.9,214.46 89.4,214.57 89.9,214.67 90.4,214.78 90.9,214.89 91.4,215.00 91.9,215.11 92.4,215.22 92.9,215.33 93.4,215.43 93.9,215.54 94.4,215.64 94.9,215.74 95.4,215.83 95.9,215.92 96.4,216.01 96.9,216.10 97.4,216.18 97.9,216.26 98.4,216.33 98.9,216.40 99.4,216.47 99.9,216.54 100.4,216.60 100.9,216.67 101.4,216.73 101.9,216.79 102.4,216.85 102.9,216.91 103.4,216.97 103.9,217.03 104.4,217.08 104.9,217.14 105.4,217.19 105.9,217.24 106.4,217.29 106.9,217.34 107.4,217.38 107.9,217.43 108.4,217.47 108.9,217.51 109.4,217.55 109.9,217.59 110.4,217.63 110.9,217.67 111.4,217.70 111.9,217.74 112.4,217.78 112.9,217.81 113.4,217.84 113.9,217.88 114.4,217.91 114.9,217.94 115.4,217.98 115.9,218.01 116.4,218.04 116.9,218.07 117.4,218.10 117.9,218.13 118.4,218.16 118.9,218.19 119.4,218.22 119.9,218.25 120.4,218.27 120.9,218.30 121.4,218.33 121.9,218.35 122.4,218.38 122.9,218.40 123.4,218.43 123.9,218.45 124.4,218.47 124.9,218.50 125.4,218.52 125.9,218.54 126.4,218.56 126.9,218.58 127.4,218.60 127.9,218.62 128.4,218.64 128.9,218.66 129.4,218.68 129.9,218.70 130.4,218.71 130.9,218.73 131.4,218.75 131.9,218.77 132.4,218.78 132.9,218.80 133.4,218.82 133.9,218.83 134.4,218.85 134.9,218.87 135.4,218.88 135.9,218.90 136.4,218.92 136.9,218.93 137.4,218.95 137.9,218.97 138.4,218.98 138.9,219.00 139.4,219.01 139.9,219.03 140.4,219.04 140.9,219.06 141.4,219.07 141.9,219.09 142.4,219.10 142.9,219.11 143.4,219.13 143.9,219.14 144.4,219.16 144.9,219.17 145.4,219.18 145.9,219.19 146.4,219.21 146.9,219.22 147.4,219.23 147.9,219.24 148.4,219.26 148.9,219.27 149.4,219.28 149.9,219.29 150.4,219.30 150.9,219.31 151.4,219.32 151.9,219.33 152.4,219.34 152.9,219.35 153.4,219.36 153.9,219.37 154.4,219.38 154.9,219.38 155.4,219.39 155.9,219.40 156.4,219.41 156.9,219.41 157.4,219.42 157.9,219.43 158.4,219.43 158.9,219.44 159.4,219.44 159.9,219.45 160.4,219.45 160.9,219.46 161.4,219.46 161.9,219.47 162.4,219.47 162.9,219.48 163.4,219.48 163.9,219.49 164.4,219.49 164.9,219.50 165.4,219.50 165.9,219.50 166.4,219.51 166.9,219.51 167.4,219.52 167.9,219.52 168.4,219.52 168.9,219.53 169.4,219.53 169.9,219.54 170.4,219.54 170.9,219.54 171.4,219.55 171.9,219.55 172.4,219.55 172.9,219.56 173.4,219.56 173.9,219.56 174.4,219.57 174.9,219.57 175.4,219.57 175.9,219.57 176.4,219.58 176.9,219.58 177.4,219.58 177.9,219.58 178.4,219.59 178.9,219.59 179.4,219.59 179.9,219.59 180.4,219.59 180.9,219.59 181.4,219.60 181.9,219.60 182.4,219.60 182.9,219.60 183.4,219.60 183.9,219.60 184.4,219.60 184.9,219.60 185.4,219.60 185.9,219.60 186.4,219.60 186.9,219.60 187.4,219.60 187.9,219.60 188.4,219.60 188.9,219.60 189.4,219.60 189.9,219.60 190.4,219.60 190.9,219.60 191.4,219.60 191.9,219.60 192.4,219.60 192.9,219.60 193.4,219.60 193.9,219.60 194.4,219.60 194.9,219.60 195.4,219.60 195.9,219.60 196.4,219.60 196.9,219.60 197.4,219.60 197.9,219.60 198.4,219.60 198.9,219.60 199.4,219.60 199.9,219.60 200.4,219.60 200.9,219.60 201.4,219.60 201.9,219.60 202.4,219.60 202.9,219.60 203.4,219.60 203.9,219.60 204.4,219.60 204.9,219.60 205.4,219.60 205.9,219.60 206.4,219.60 206.9,219.60 207.3,219.60 207.3,219.6 Z" fill="#b1a300" fill-opacity="0.170" stroke="none"/>
<path d="M30.4,219.6 L30.4,219.60 30.9,185.60 31.4,184.25 31.9,183.33 32.4,181.54 32.9,179.77 33.4,178.04 33.9,176.34 34.4,174.65 34.9,172.98 35.4,171.36 35.9,169.80 36.4,168.31 36.9,166.86 37.4,165.49 37.9,164.23 38.4,163.14 38.9,162.17 39.4,161.20 39.9,160.11 40.4,158.94 40.9,157.95 41.4,157.22 41.9,156.61 42.4,156.30 42.9,156.24 43.4,156.20 43.9,156.30 44.4,156.78 44.9,157.45 45.4,158.52 45.9,159.73 46.4,160.95 46.9,162.21 47.4,163.44 47.9,164.65 48.4,165.85 48.9,167.04 49.4,168.21 49.9,169.38 50.4,170.54 50.9,171.69 51.4,172.83 51.9,173.97 52.4,175.08 52.9,176.16 53.4,177.19 53.9,178.20 54.4,179.23 54.9,180.30 55.4,181.43 55.9,182.68 56.4,184.01 56.9,185.37 57.4,186.74 57.9,188.05 58.4,189.27 58.9,190.39 59.4,191.48 59.9,192.53 60.4,193.54 60.9,194.51 61.4,195.44 61.9,196.33 62.4,197.18 62.9,198.01 63.4,198.80 63.9,199.57 64.4,200.32 64.9,201.03 65.4,201.72 65.9,202.37 66.4,203.00 66.9,203.62 67.4,204.23 67.9,204.81 68.4,205.36 68.9,205.88 69.4,206.37 69.9,206.82 70.4,207.23 70.9,207.62 71.4,207.99 71.9,208.35 72.4,208.68 72.9,209.01 73.4,209.31 73.9,209.60 74.4,209.88 74.9,210.15 75.4,210.40 75.9,210.65 76.4,210.89 76.9,211.11 77.4,211.33 77.9,211.54 78.4,211.74 78.9,211.93 79.4,212.10 79.9,212.27 80.4,212.42 80.9,212.57 81.4,212.72 81.9,212.85 82.4,212.99 82.9,213.12 83.4,213.24 83.9,213.36 84.4,213.48 84.9,213.59 85.4,213.70 85.9,213.81 86.4,213.92 86.9,214.03 87.4,214.14 87.9,214.24 88.4,214.35 88.9,214.46 89.4,214.57 89.9,214.67 90.4,214.78 90.9,214.89 91.4,215.00 91.9,215.11 92.4,215.22 92.9,215.33 93.4,215.43 93.9,215.54 94.4,215.64 94.9,215.74 95.4,215.83 95.9,215.92 96.4,216.01 96.9,216.10 97.4,216.18 97.9,216.26 98.4,216.33 98.9,216.40 99.4,216.47 99.9,216.54 100.4,216.60 100.9,216.67 101.4,216.73 101.9,216.79 102.4,216.85 102.9,216.91 103.4,216.97 103.9,217.03 104.4,217.08 104.9,217.14 105.4,217.19 105.9,217.24 106.4,217.29 106.9,217.34 107.4,217.38 107.9,217.43 108.4,217.47 108.9,217.51 109.4,217.55 109.9,217.59 110.4,217.63 110.9,217.67 111.4,217.70 111.9,217.74 112.4,217.78 112.9,217.81 113.4,217.84 113.9,217.88 114.4,217.91 114.9,217.94 115.4,217.98 115.9,218.01 116.4,218.04 116.9,218.07 117.4,218.10 117.9,218.13 118.4,218.16 118.9,218.19 119.4,218.22 119.9,218.25 120.4,218.27 120.9,218.30 121.4,218.33 121.9,218.35 122.4,218.38 122.9,218.40 123.4,218.43 123.9,218.45 124.4,218.47 124.9,218.50 125.4,218.52 125.9,218.54 126.4,218.56 126.9,218.58 127.4,218.60 127.9,218.62 128.4,218.64 128.9,218.66 129.4,218.68 129.9,218.70 130.4,218.71 130.9,218.73 131.4,218.75 131.9,218.77 132.4,218.78 132.9,218.80 133.4,218.82 133.9,218.83 134.4,218.85 134.9,218.87 135.4,218.88 135.9,218.90 136.4,218.92 136.9,218.93 137.4,218.95 137.9,218.97 138.4,218.98 138.9,219.00 139.4,219.01 139.9,219.03 140.4,219.04 140.9,219.06 141.4,219.07 141.9,219.09 142.4,219.10 142.9,219.11 143.4,219.13 143.9,219.14 144.4,219.16 144.9,219.17 145.4,219.18 145.9,219.19 146.4,219.21 146.9,219.22 147.4,219.23 147.9,219.24 148.4,219.26 148.9,219.27 149.4,219.28 149.9,219.29 150.4,219.30 150.9,219.31 151.4,219.32 151.9,219.33 152.4,219.34 152.9,219.35 153.4,219.36 153.9,219.37 154.4,219.38 154.9,219.38 155.4,219.39 155.9,219.40 156.4,219.41 156.9,219.41 157.4,219.42 157.9,219.43 158.4,219.43 158.9,219.44 159.4,219.44 159.9,219.45 160.4,219.45 160.9,219.46 161.4,219.46 161.9,219.47 162.4,219.47 162.9,219.48 163.4,219.48 163.9,219.49 164.4,219.49 164.9,219.50 165.4,219.50 165.9,219.50 166.4,219.51 166.9,219.51 167.4,219.52 167.9,219.52 168.4,219.52 168.9,219.53 169.4,219.53 169.9,219.54 170.4,219.54 170.9,219.54 171.4,219.55 171.9,219.55 172.4,219.55 172.9,219.56 173.4,219.56 173.9,219.56 174.4,219.57 174.9,219.57 175.4,219.57 175.9,219.57 176.4,219.58 176.9,219.58 177.4,219.58 177.9,219.58 178.4,219.59 178.9,219.59 179.4,219.59 179.9,219.59 180.4,219.59 180.9,219.59 181.4,219.60 181.9,219.60 182.4,219.60 182.9,219.60 183.4,219.60 183.9,219.60 184.4,219.60 184.9,219.60 185.4,219.60 185.9,219.60 186.4,219.60 186.9,219.60 187.4,219.60 187.9,219.60 188.4,219.60 188.9,219.60 189.4,219.60 189.9,219.60 190.4,219.60 190.9,219.60 191.4,219.60 191.9,219.60 192.4,219.60 192.9,219.60 193.4,219.60 193.9,219.60 194.4,219.60 194.9,219.60 195.4,219.60 195.9,219.60 196.4,219.60 196.9,219.60 197.4,219.60 197.9,219.60 198.4,219.60 198.9,219.60 199.4,219.60 199.9,219.60 200.4,219.60 200.9,219.60 201.4,219.60 201.9,219.60 202.4,219.60 202.9,219.60 203.4,219.60 203.9,219.60 204.4,219.60 204.9,219.60 205.4,219.60 205.9,219.60 206.4,219.60 206.9,219.60 207.3,219.60 207.3,219.6 Z" fill="none" stroke="#b1a300" stroke-width="1.50" stroke-linejoin="round"/>
<path d="M30.4,219.6 L30.4,219.60 30.9,186.74 31.4,185.77 31.9,184.69 32.4,183.21 32.9,181.79 33.4,180.31 33.9,178.69 34.4,176.96 34.9,175.31 35.4,173.82 35.9,172.42 36.4,171.08 36.9,169.76 37.4,168.45 37.9,167.15 38.4,165.90 38.9,164.72 39.4,163.65 39.9,162.64 40.4,161.69 40.9,160.75 41.4,159.80 41.9,158.73 42.4,157.89 42.9,157.51 43.4,157.31 43.9,157.37 44.4,157.61 44.9,157.99 45.4,158.76 45.9,159.66 46.4,160.65 46.9,161.77 47.4,163.05 47.9,164.46 48.4,165.77 48.9,167.05 49.4,168.29 49.9,169.48 50.4,170.58 50.9,171.59 51.4,172.47 51.9,173.29 52.4,174.12 52.9,175.01 53.4,176.02 53.9,177.17 54.4,178.42 54.9,179.70 55.4,180.99 55.9,182.26 56.4,183.58 56.9,184.90 57.4,186.20 57.9,187.44 58.4,188.58 58.9,189.67 59.4,190.73 59.9,191.74 60.4,192.72 60.9,193.67 61.4,194.58 61.9,195.46 62.4,196.33 62.9,197.17 63.4,197.98 63.9,198.77 64.4,199.52 64.9,200.25 65.4,200.94 65.9,201.60 66.4,202.26 66.9,202.90 67.4,203.51 67.9,204.11 68.4,204.68 68.9,205.23 69.4,205.74 69.9,206.23 70.4,206.68 70.9,207.12 71.4,207.56 71.9,207.99 72.4,208.41 72.9,208.80 73.4,209.18 73.9,209.52 74.4,209.83 74.9,210.11 75.4,210.34 75.9,210.53 76.4,210.69 76.9,210.84 77.4,210.96 77.9,211.08 78.4,211.18 78.9,211.28 79.4,211.38 79.9,211.48 80.4,211.58 80.9,211.67 81.4,211.76 81.9,211.85 82.4,211.94 82.9,212.02 83.4,212.10 83.9,212.19 84.4,212.28 84.9,212.37 85.4,212.47 85.9,212.56 86.4,212.65 86.9,212.74 87.4,212.84 87.9,212.94 88.4,213.04 88.9,213.15 89.4,213.27 89.9,213.40 90.4,213.54 90.9,213.69 91.4,213.84 91.9,213.99 92.4,214.14 92.9,214.29 93.4,214.44 93.9,214.59 94.4,214.74 94.9,214.90 95.4,215.06 95.9,215.22 96.4,215.37 96.9,215.51 97.4,215.64 97.9,215.75 98.4,215.83 98.9,215.91 99.4,215.98 99.9,216.05 100.4,216.12 100.9,216.18 101.4,216.24 101.9,216.29 102.4,216.34 102.9,216.39 103.4,216.44 103.9,216.49 104.4,216.53 104.9,216.58 105.4,216.62 105.9,216.67 106.4,216.71 106.9,216.76 107.4,216.81 107.9,216.86 108.4,216.91 108.9,216.96 109.4,217.01 109.9,217.06 110.4,217.11 110.9,217.15 111.4,217.20 111.9,217.25 112.4,217.29 112.9,217.34 113.4,217.38 113.9,217.42 114.4,217.46 114.9,217.50 115.4,217.54 115.9,217.57 116.4,217.60 116.9,217.63 117.4,217.66 117.9,217.69 118.4,217.71 118.9,217.74 119.4,217.77 119.9,217.79 120.4,217.81 120.9,217.84 121.4,217.86 121.9,217.88 122.4,217.91 122.9,217.93 123.4,217.95 123.9,217.97 124.4,217.99 124.9,218.01 125.4,218.03 125.9,218.05 126.4,218.07 126.9,218.09 127.4,218.11 127.9,218.12 128.4,218.14 128.9,218.16 129.4,218.18 129.9,218.20 130.4,218.21 130.9,218.23 131.4,218.25 131.9,218.27 132.4,218.28 132.9,218.30 133.4,218.32 133.9,218.34 134.4,218.35 134.9,218.37 135.4,218.39 135.9,218.40 136.4,218.42 136.9,218.43 137.4,218.45 137.9,218.47 138.4,218.48 138.9,218.50 139.4,218.51 139.9,218.53 140.4,218.54 140.9,218.56 141.4,218.57 141.9,218.59 142.4,218.60 142.9,218.61 143.4,218.63 143.9,218.64 144.4,218.66 144.9,218.67 145.4,218.68 145.9,218.70 146.4,218.71 146.9,218.72 147.4,218.73 147.9,218.75 148.4,218.76 148.9,218.77 149.4,218.79 149.9,218.80 150.4,218.81 150.9,218.82 151.4,218.83 151.9,218.85 152.4,218.86 152.9,218.87 153.4,218.88 153.9,218.89 154.4,218.91 154.9,218.92 155.4,218.93 155.9,218.94 156.4,218.95 156.9,218.96 157.4,218.98 157.9,218.99 158.4,219.00 158.9,219.01 159.4,219.02 159.9,219.03 160.4,219.04 160.9,219.05 161.4,219.07 161.9,219.08 162.4,219.09 162.9,219.10 163.4,219.11 163.9,219.12 164.4,219.13 164.9,219.14 165.4,219.15 165.9,219.16 166.4,219.17 166.9,219.18 167.4,219.19 167.9,219.20 168.4,219.21 168.9,219.22 169.4,219.23 169.9,219.24 170.4,219.25 170.9,219.26 171.4,219.27 171.9,219.27 172.4,219.28 172.9,219.29 173.4,219.30 173.9,219.31 174.4,219.32 174.9,219.33 175.4,219.33 175.9,219.34 176.4,219.35 176.9,219.36 177.4,219.36 177.9,219.37 178.4,219.38 178.9,219.39 179.4,219.39 179.9,219.40 180.4,219.41 180.9,219.41 181.4,219.42 181.9,219.43 182.4,219.43 182.9,219.44 183.4,219.45 183.9,219.45 184.4,219.46 184.9,219.47 185.4,219.47 185.9,219.48 186.4,219.49 186.9,219.49 187.4,219.50 187.9,219.51 188.4,219.51 188.9,219.52 189.4,219.53 189.9,219.53 190.4,219.54 190.9,219.54 191.4,219.55 191.9,219.55 192.4,219.56 192.9,219.56 193.4,219.57 193.9,219.57 194.4,219.58 194.9,219.58 195.4,219.58 195.9,219.59 196.4,219.59 196.9,219.59 197.4,219.59 197.9,219.60 198.4,219.60 198.9,219.60 199.4,219.60 199.9,219.60 200.4,219.60 200.9,219.60 201.4,219.60 201.9,219.60 202.4,219.60 202.9,219.60 203.4,219.60 203.9,219.60 204.4,219.60 204.9,219.60 205.4,219.60 205.9,219.60 206.4,219.60 206.9,219.60 207.3,219.60 207.3,219.6 Z" fill="#16a216" fill-opacity="0.170" stroke="none"/>
<path d="M30.4,219.6 L30.4,219.60 30.9,182.28 31.4,180.50 31.9,178.41 32.4,176.44 32.9,174.10 33.4,171.57 33.9,169.00 34.4,166.45 34.9,163.86 35.4,161.44 35.9,159.35 36.4,157.45 36.9,155.64 37.4,153.84 37.9,152.15 38.4,150.75 38.9,149.53 39.4,148.46 39.9,147.63 40.4,146.99 40.9,146.46 41.4,146.30 41.9,146.35 42.4,146.47 42.9,146.65 43.4,147.20 43.9,148.07 44.4,148.97 44.9,149.93 45.4,151.02 45.9,152.31 46.4,153.88 46.9,155.50 47.4,157.06 47.9,158.65 48.4,160.36 48.9,162.27 49.4,164.24 49.9,166.10 50.4,167.87 50.9,169.61 51.4,171.36 51.9,173.14 52.4,175.00 52.9,176.96 53.4,178.95 53.9,180.92 54.4,182.78 54.9,184.48 55.4,186.02 55.9,187.49 56.4,188.90 56.9,190.25 57.4,191.53 57.9,192.75 58.4,193.90 58.9,195.00 59.4,196.05 59.9,197.05 60.4,198.01 60.9,198.93 61.4,199.81 61.9,200.65 62.4,201.44 62.9,202.20 63.4,202.93 63.9,203.63 64.4,204.29 64.9,204.92 65.4,205.49 65.9,206.01 66.4,206.46 66.9,206.87 67.4,207.25 67.9,207.60 68.4,207.94 68.9,208.27 69.4,208.60 69.9,208.93 70.4,209.27 70.9,209.59 71.4,209.92 71.9,210.24 72.4,210.55 72.9,210.85 73.4,211.14 73.9,211.42 74.4,211.69 74.9,211.95 75.4,212.20 75.9,212.44 76.4,212.67 76.9,212.90 77.4,213.12 77.9,213.33 78.4,213.53 78.9,213.72 79.4,213.90 79.9,214.07 80.4,214.22 80.9,214.37 81.4,214.52 81.9,214.66 82.4,214.80 82.9,214.93 83.4,215.06 83.9,215.18 84.4,215.30 84.9,215.42 85.4,215.53 85.9,215.64 86.4,215.75 86.9,215.86 87.4,215.96 87.9,216.06 88.4,216.16 88.9,216.26 89.4,216.36 89.9,216.46 90.4,216.55 90.9,216.65 91.4,216.75 91.9,216.84 92.4,216.94 92.9,217.03 93.4,217.12 93.9,217.20 94.4,217.29 94.9,217.37 95.4,217.45 95.9,217.52 96.4,217.59 96.9,217.65 97.4,217.71 97.9,217.77 98.4,217.82 98.9,217.87 99.4,217.91 99.9,217.96 100.4,218.00 100.9,218.04 101.4,218.08 101.9,218.12 102.4,218.16 102.9,218.20 103.4,218.23 103.9,218.26 104.4,218.30 104.9,218.33 105.4,218.36 105.9,218.39 106.4,218.42 106.9,218.45 107.4,218.47 107.9,218.50 108.4,218.52 108.9,218.55 109.4,218.57 109.9,218.60 110.4,218.62 110.9,218.64 111.4,218.66 111.9,218.68 112.4,218.71 112.9,218.73 113.4,218.75 113.9,218.77 114.4,218.79 114.9,218.81 115.4,218.83 115.9,218.85 116.4,218.87 116.9,218.89 117.4,218.91 117.9,218.93 118.4,218.95 118.9,218.96 119.4,218.98 119.9,219.00 120.4,219.01 120.9,219.03 121.4,219.05 121.9,219.06 122.4,219.08 122.9,219.09 123.4,219.11 123.9,219.12 124.4,219.13 124.9,219.15 125.4,219.16 125.9,219.17 126.4,219.18 126.9,219.19 127.4,219.20 127.9,219.21 128.4,219.22 128.9,219.23 129.4,219.24 129.9,219.25 130.4,219.26 130.9,219.26 131.4,219.27 131.9,219.28 132.4,219.28 132.9,219.29 133.4,219.30 133.9,219.31 134.4,219.31 134.9,219.32 135.4,219.33 135.9,219.33 136.4,219.34 136.9,219.35 137.4,219.35 137.9,219.36 138.4,219.37 138.9,219.37 139.4,219.38 139.9,219.39 140.4,219.39 140.9,219.40 141.4,219.40 141.9,219.41 142.4,219.42 142.9,219.42 143.4,219.43 143.9,219.43 144.4,219.44 144.9,219.45 145.4,219.45 145.9,219.46 146.4,219.46 146.9,219.47 147.4,219.47 147.9,219.48 148.4,219.48 148.9,219.49 149.4,219.49 149.9,219.50 150.4,219.50 150.9,219.51 151.4,219.51 151.9,219.52 152.4,219.52 152.9,219.52 153.4,219.53 153.9,219.53 154.4,219.54 154.9,219.54 155.4,219.54 155.9,219.55 156.4,219.55 156.9,219.55 157.4,219.56 157.9,219.56 158.4,219.56 158.9,219.57 159.4,219.57 159.9,219.57 160.4,219.57 160.9,219.58 161.4,219.58 161.9,219.58 162.4,219.58 162.9,219.59 163.4,219.59 163.9,219.59 164.4,219.59 164.9,219.59 165.4,219.59 165.9,219.60 166.4,219.60 166.9,219.60 167.4,219.60 167.9,219.60 168.4,219.60 168.9,219.60 169.4,219.60 169.9,219.60 170.4,219.60 170.9,219.60 171.4,219.60 171.9,219.60 172.4,219.60 172.9,219.60 173.4,219.60 173.9,219.60 174.4,219.60 174.9,219.60 175.4,219.60 175.9,219.60 176.4,219.60 176.9,219.60 177.4,219.60 177.9,219.60 178.4,219.60 178.9,219.60 179.4,219.60 179.9,219.60 180.4,219.60 180.9,219.60 181.4,219.60 181.9,219.60 182.4,219.60 182.9,219.60 183.4,219.60 183.9,219.60 184.4,219.60 184.9,219.60 185.4,219.60 185.9,219.60 186.4,219.60 186.9,219.60 187.4,219.60 187.9,219.60 188.4,219.60 188.9,219.60 189.4,219.60 189.9,219.60 190.4,219.60 190.9,219.60 191.4,219.60 191.9,219.60 192.4,219.60 192.9,219.60 193.4,219.60 193.9,219.60 194.4,219.60 194.9,219.60 195.4,219.60 195.9,219.60 196.4,219.60 196.9,219.60 197.4,219.60 197.9,219.60 198.4,219.60 198.9,219.60 199.4,219.60 199.9,219.60 200.4,219.60 200.9,219.60 201.4,219.60 201.9,219.60 202.4,219.60 202.9,219.60 203.4,219.60 203.9,219.60 204.4,219.60 204.9,219.60 205.4,219.60 205.9,219.60 206.4,219.60 206.9,219.60 207.3,219.60 207.3,219.6 Z" fill="#ff30c0" fill-opacity="0.120" stroke="none"/>
<path d="M30.4,219.6 L30.4,219.60 30.9,181.28 31.4,179.50 31.9,177.41 32.4,175.44 32.9,173.10 33.4,170.57 33.9,168.00 34.4,165.45 34.9,162.86 35.4,160.44 35.9,158.35 36.4,156.45 36.9,154.64 37.4,152.84 37.9,151.15 38.4,149.75 38.9,148.53 39.4,147.46 39.9,146.63 40.4,145.99 40.9,145.46 41.4,145.30 41.9,145.35 42.4,145.47 42.9,145.65 43.4,146.20 43.9,147.07 44.4,147.97 44.9,148.93 45.4,150.02 45.9,151.31 46.4,152.88 46.9,154.50 47.4,156.06 47.9,157.65 48.4,159.36 48.9,161.26 49.4,163.24 49.9,165.11 50.4,166.91 50.9,168.70 51.4,170.51 51.9,172.38 52.4,174.41 52.9,176.53 53.4,178.67 53.9,180.74 54.4,182.65 54.9,184.31 55.4,185.82 55.9,187.24 56.4,188.58 56.9,189.86 57.4,191.07 57.9,192.22 58.4,193.33 58.9,194.40 59.4,195.43 59.9,196.43 60.4,197.39 60.9,198.31 61.4,199.19 61.9,200.03 62.4,200.83 62.9,201.60 63.4,202.34 63.9,203.06 64.4,203.75 64.9,204.39 65.4,204.98 65.9,205.50 66.4,205.96 66.9,206.37 67.4,206.75 67.9,207.10 68.4,207.43 68.9,207.77 69.4,208.10 69.9,208.44 70.4,208.78 70.9,209.11 71.4,209.45 71.9,209.77 72.4,210.09 72.9,210.41 73.4,210.71 73.9,211.00 74.4,211.28 74.9,211.55 75.4,211.80 75.9,212.06 76.4,212.30 76.9,212.54 77.4,212.78 77.9,213.00 78.4,213.21 78.9,213.41 79.4,213.60 79.9,213.77 80.4,213.93 80.9,214.08 81.4,214.22 81.9,214.37 82.4,214.50 82.9,214.63 83.4,214.76 83.9,214.88 84.4,215.00 84.9,215.11 85.4,215.23 85.9,215.34 86.4,215.44 86.9,215.55 87.4,215.65 87.9,215.76 88.4,215.86 88.9,215.96 89.4,216.06 89.9,216.16 90.4,216.27 90.9,216.37 91.4,216.47 91.9,216.57 92.4,216.67 92.9,216.77 93.4,216.86 93.9,216.95 94.4,217.04 94.9,217.13 95.4,217.21 95.9,217.29 96.4,217.37 96.9,217.44 97.4,217.51 97.9,217.57 98.4,217.62 98.9,217.67 99.4,217.73 99.9,217.78 100.4,217.82 100.9,217.87 101.4,217.92 101.9,217.96 102.4,218.00 102.9,218.04 103.4,218.08 103.9,218.12 104.4,218.16 104.9,218.19 105.4,218.23 105.9,218.26 106.4,218.30 106.9,218.33 107.4,218.36 107.9,218.39 108.4,218.42 108.9,218.44 109.4,218.47 109.9,218.50 110.4,218.52 110.9,218.54 111.4,218.57 111.9,218.59 112.4,218.62 112.9,218.64 113.4,218.66 113.9,218.68 114.4,218.71 114.9,218.73 115.4,218.75 115.9,218.77 116.4,218.79 116.9,218.81 117.4,218.83 117.9,218.85 118.4,218.87 118.9,218.89 119.4,218.91 119.9,218.93 120.4,218.95 120.9,218.96 121.4,218.98 121.9,219.00 122.4,219.01 122.9,219.03 123.4,219.04 123.9,219.06 124.4,219.07 124.9,219.09 125.4,219.10 125.9,219.11 126.4,219.13 126.9,219.14 127.4,219.15 127.9,219.16 128.4,219.17 128.9,219.18 129.4,219.19 129.9,219.20 130.4,219.21 130.9,219.21 131.4,219.22 131.9,219.23 132.4,219.24 132.9,219.25 133.4,219.26 133.9,219.26 134.4,219.27 134.9,219.28 135.4,219.29 135.9,219.29 136.4,219.30 136.9,219.31 137.4,219.32 137.9,219.32 138.4,219.33 138.9,219.34 139.4,219.35 139.9,219.35 140.4,219.36 140.9,219.37 141.4,219.38 141.9,219.38 142.4,219.39 142.9,219.40 143.4,219.40 143.9,219.41 144.4,219.42 144.9,219.42 145.4,219.43 145.9,219.44 146.4,219.44 146.9,219.45 147.4,219.45 147.9,219.46 148.4,219.47 148.9,219.47 149.4,219.48 149.9,219.48 150.4,219.49 150.9,219.49 151.4,219.50 151.9,219.50 152.4,219.51 152.9,219.51 153.4,219.52 153.9,219.52 154.4,219.53 154.9,219.53 155.4,219.54 155.9,219.54 156.4,219.54 156.9,219.55 157.4,219.55 157.9,219.55 158.4,219.56 158.9,219.56 159.4,219.56 159.9,219.57 160.4,219.57 160.9,219.57 161.4,219.58 161.9,219.58 162.4,219.58 162.9,219.58 163.4,219.59 163.9,219.59 164.4,219.59 164.9,219.59 165.4,219.59 165.9,219.59 166.4,219.60 166.9,219.60 167.4,219.60 167.9,219.60 168.4,219.60 168.9,219.60 169.4,219.60 169.9,219.60 170.4,219.60 170.9,219.60 171.4,219.60 171.9,219.60 172.4,219.60 172.9,219.60 173.4,219.60 173.9,219.60 174.4,219.60 174.9,219.60 175.4,219.60 175.9,219.60 176.4,219.60 176.9,219.60 177.4,219.60 177.9,219.60 178.4,219.60 178.9,219.60 179.4,219.60 179.9,219.60 180.4,219.60 180.9,219.60 181.4,219.60 181.9,219.60 182.4,219.60 182.9,219.60 183.4,219.60 183.9,219.60 184.4,219.60 184.9,219.60 185.4,219.60 185.9,219.60 186.4,219.60 186.9,219.60 187.4,219.60 187.9,219.60 188.4,219.60 188.9,219.60 189.4,219.60 189.9,219.60 190.4,219.60 190.9,219.60 191.4,219.60 191.9,219.60 192.4,219.60 192.9,219.60 193.4,219.60 193.9,219.60 194.4,219.60 194.9,219.60 195.4,219.60 195.9,219.60 196.4,219.60 196.9,219.60 197.4,219.60 197.9,219.60 198.4,219.60 198.9,219.60 199.4,219.60 199.9,219.60 200.4,219.60 200.9,219.60 201.4,219.60 201.9,219.60 202.4,219.60 202.9,219.60 203.4,219.60 203.9,219.60 204.4,219.60 204.9,219.60 205.4,219.60 205.9,219.60 206.4,219.60 206.9,219.60 207.3,219.60 207.3,219.6 Z" fill="#c860ff" fill-opacity="0.120" stroke="none"/>
<path d="M30.4,219.6 L30.4,219.60 30.9,186.74 31.4,185.77 31.9,184.69 32.4,183.21 32.9,181.79 33.4,180.31 33.9,178.69 34.4,176.96 34.9,175.31 35.4,173.82 35.9,172.42 36.4,171.08 36.9,169.76 37.4,168.45 37.9,167.15 38.4,165.90 38.9,164.72 39.4,163.65 39.9,162.64 40.4,161.69 40.9,160.75 41.4,159.80 41.9,158.73 42.4,157.89 42.9,157.51 43.4,157.31 43.9,157.37 44.4,157.61 44.9,157.99 45.4,158.76 45.9,159.66 46.4,160.65 46.9,161.77 47.4,163.05 47.9,164.46 48.4,165.77 48.9,167.05 49.4,168.29 49.9,169.48 50.4,170.58 50.9,171.59 51.4,172.47 51.9,173.29 52.4,174.12 52.9,175.01 53.4,176.02 53.9,177.17 54.4,178.42 54.9,179.70 55.4,180.99 55.9,182.26 56.4,183.58 56.9,184.90 57.4,186.20 57.9,187.44 58.4,188.58 58.9,189.67 59.4,190.73 59.9,191.74 60.4,192.72 60.9,193.67 61.4,194.58 61.9,195.46 62.4,196.33 62.9,197.17 63.4,197.98 63.9,198.77 64.4,199.52 64.9,200.25 65.4,200.94 65.9,201.60 66.4,202.26 66.9,202.90 67.4,203.51 67.9,204.11 68.4,204.68 68.9,205.23 69.4,205.74 69.9,206.23 70.4,206.68 70.9,207.12 71.4,207.56 71.9,207.99 72.4,208.41 72.9,208.80 73.4,209.18 73.9,209.52 74.4,209.83 74.9,210.11 75.4,210.34 75.9,210.53 76.4,210.69 76.9,210.84 77.4,210.96 77.9,211.08 78.4,211.18 78.9,211.28 79.4,211.38 79.9,211.48 80.4,211.58 80.9,211.67 81.4,211.76 81.9,211.85 82.4,211.94 82.9,212.02 83.4,212.10 83.9,212.19 84.4,212.28 84.9,212.37 85.4,212.47 85.9,212.56 86.4,212.65 86.9,212.74 87.4,212.84 87.9,212.94 88.4,213.04 88.9,213.15 89.4,213.27 89.9,213.40 90.4,213.54 90.9,213.69 91.4,213.84 91.9,213.99 92.4,214.14 92.9,214.29 93.4,214.44 93.9,214.59 94.4,214.74 94.9,214.90 95.4,215.06 95.9,215.22 96.4,215.37 96.9,215.51 97.4,215.64 97.9,215.75 98.4,215.83 98.9,215.91 99.4,215.98 99.9,216.05 100.4,216.12 100.9,216.18 101.4,216.24 101.9,216.29 102.4,216.34 102.9,216.39 103.4,216.44 103.9,216.49 104.4,216.53 104.9,216.58 105.4,216.62 105.9,216.67 106.4,216.71 106.9,216.76 107.4,216.81 107.9,216.86 108.4,216.91 108.9,216.96 109.4,217.01 109.9,217.06 110.4,217.11 110.9,217.15 111.4,217.20 111.9,217.25 112.4,217.29 112.9,217.34 113.4,217.38 113.9,217.42 114.4,217.46 114.9,217.50 115.4,217.54 115.9,217.57 116.4,217.60 116.9,217.63 117.4,217.66 117.9,217.69 118.4,217.71 118.9,217.74 119.4,217.77 119.9,217.79 120.4,217.81 120.9,217.84 121.4,217.86 121.9,217.88 122.4,217.91 122.9,217.93 123.4,217.95 123.9,217.97 124.4,217.99 124.9,218.01 125.4,218.03 125.9,218.05 126.4,218.07 126.9,218.09 127.4,218.11 127.9,218.12 128.4,218.14 128.9,218.16 129.4,218.18 129.9,218.20 130.4,218.21 130.9,218.23 131.4,218.25 131.9,218.27 132.4,218.28 132.9,218.30 133.4,218.32 133.9,218.34 134.4,218.35 134.9,218.37 135.4,218.39 135.9,218.40 136.4,218.42 136.9,218.43 137.4,218.45 137.9,218.47 138.4,218.48 138.9,218.50 139.4,218.51 139.9,218.53 140.4,218.54 140.9,218.56 141.4,218.57 141.9,218.59 142.4,218.60 142.9,218.61 143.4,218.63 143.9,218.64 144.4,218.66 144.9,218.67 145.4,218.68 145.9,218.70 146.4,218.71 146.9,218.72 147.4,218.73 147.9,218.75 148.4,218.76 148.9,218.77 149.4,218.79 149.9,218.80 150.4,218.81 150.9,218.82 151.4,218.83 151.9,218.85 152.4,218.86 152.9,218.87 153.4,218.88 153.9,218.89 154.4,218.91 154.9,218.92 155.4,218.93 155.9,218.94 156.4,218.95 156.9,218.96 157.4,218.98 157.9,218.99 158.4,219.00 158.9,219.01 159.4,219.02 159.9,219.03 160.4,219.04 160.9,219.05 161.4,219.07 161.9,219.08 162.4,219.09 162.9,219.10 163.4,219.11 163.9,219.12 164.4,219.13 164.9,219.14 165.4,219.15 165.9,219.16 166.4,219.17 166.9,219.18 167.4,219.19 167.9,219.20 168.4,219.21 168.9,219.22 169.4,219.23 169.9,219.24 170.4,219.25 170.9,219.26 171.4,219.27 171.9,219.27 172.4,219.28 172.9,219.29 173.4,219.30 173.9,219.31 174.4,219.32 174.9,219.33 175.4,219.33 175.9,219.34 176.4,219.35 176.9,219.36 177.4,219.36 177.9,219.37 178.4,219.38 178.9,219.39 179.4,219.39 179.9,219.40 180.4,219.41 180.9,219.41 181.4,219.42 181.9,219.43 182.4,219.43 182.9,219.44 183.4,219.45 183.9,219.45 184.4,219.46 184.9,219.47 185.4,219.47 185.9,219.48 186.4,219.49 186.9,219.49 187.4,219.50 187.9,219.51 188.4,219.51 188.9,219.52 189.4,219.53 189.9,219.53 190.4,219.54 190.9,219.54 191.4,219.55 191.9,219.55 192.4,219.56 192.9,219.56 193.4,219.57 193.9,219.57 194.4,219.58 194.9,219.58 195.4,219.58 195.9,219.59 196.4,219.59 196.9,219.59 197.4,219.59 197.9,219.60 198.4,219.60 198.9,219.60 199.4,219.60 199.9,219.60 200.4,219.60 200.9,219.60 201.4,219.60 201.9,219.60 202.4,219.60 202.9,219.60 203.4,219.60 203.9,219.60 204.4,219.60 204.9,219.60 205.4,219.60 205.9,219.60 206.4,219.60 206.9,219.60 207.3,219.60 207.3,219.6 Z" fill="none" stroke="#16a216" stroke-width="1.80" stroke-linejoin="round"/>
<path d="M30.4,219.6 L30.4,219.60 30.9,182.28 31.4,180.50 31.9,178.41 32.4,176.44 32.9,174.10 33.4,171.57 33.9,169.00 34.4,166.45 34.9,163.86 35.4,161.44 35.9,159.35 36.4,157.45 36.9,155.64 37.4,153.84 37.9,152.15 38.4,150.75 38.9,149.53 39.4,148.46 39.9,147.63 40.4,146.99 40.9,146.46 41.4,146.30 41.9,146.35 42.4,146.47 42.9,146.65 43.4,147.20 43.9,148.07 44.4,148.97 44.9,149.93 45.4,151.02 45.9,152.31 46.4,153.88 46.9,155.50 47.4,157.06 47.9,158.65 48.4,160.36 48.9,162.27 49.4,164.24 49.9,166.10 50.4,167.87 50.9,169.61 51.4,171.36 51.9,173.14 52.4,175.00 52.9,176.96 53.4,178.95 53.9,180.92 54.4,182.78 54.9,184.48 55.4,186.02 55.9,187.49 56.4,188.90 56.9,190.25 57.4,191.53 57.9,192.75 58.4,193.90 58.9,195.00 59.4,196.05 59.9,197.05 60.4,198.01 60.9,198.93 61.4,199.81 61.9,200.65 62.4,201.44 62.9,202.20 63.4,202.93 63.9,203.63 64.4,204.29 64.9,204.92 65.4,205.49 65.9,206.01 66.4,206.46 66.9,206.87 67.4,207.25 67.9,207.60 68.4,207.94 68.9,208.27 69.4,208.60 69.9,208.93 70.4,209.27 70.9,209.59 71.4,209.92 71.9,210.24 72.4,210.55 72.9,210.85 73.4,211.14 73.9,211.42 74.4,211.69 74.9,211.95 75.4,212.20 75.9,212.44 76.4,212.67 76.9,212.90 77.4,213.12 77.9,213.33 78.4,213.53 78.9,213.72 79.4,213.90 79.9,214.07 80.4,214.22 80.9,214.37 81.4,214.52 81.9,214.66 82.4,214.80 82.9,214.93 83.4,215.06 83.9,215.18 84.4,215.30 84.9,215.42 85.4,215.53 85.9,215.64 86.4,215.75 86.9,215.86 87.4,215.96 87.9,216.06 88.4,216.16 88.9,216.26 89.4,216.36 89.9,216.46 90.4,216.55 90.9,216.65 91.4,216.75 91.9,216.84 92.4,216.94 92.9,217.03 93.4,217.12 93.9,217.20 94.4,217.29 94.9,217.37 95.4,217.45 95.9,217.52 96.4,217.59 96.9,217.65 97.4,217.71 97.9,217.77 98.4,217.82 98.9,217.87 99.4,217.91 99.9,217.96 100.4,218.00 100.9,218.04 101.4,218.08 101.9,218.12 102.4,218.16 102.9,218.20 103.4,218.23 103.9,218.26 104.4,218.30 104.9,218.33 105.4,218.36 105.9,218.39 106.4,218.42 106.9,218.45 107.4,218.47 107.9,218.50 108.4,218.52 108.9,218.55 109.4,218.57 109.9,218.60 110.4,218.62 110.9,218.64 111.4,218.66 111.9,218.68 112.4,218.71 112.9,218.73 113.4,218.75 113.9,218.77 114.4,218.79 114.9,218.81 115.4,218.83 115.9,218.85 116.4,218.87 116.9,218.89 117.4,218.91 117.9,218.93 118.4,218.95 118.9,218.96 119.4,218.98 119.9,219.00 120.4,219.01 120.9,219.03 121.4,219.05 121.9,219.06 122.4,219.08 122.9,219.09 123.4,219.11 123.9,219.12 124.4,219.13 124.9,219.15 125.4,219.16 125.9,219.17 126.4,219.18 126.9,219.19 127.4,219.20 127.9,219.21 128.4,219.22 128.9,219.23 129.4,219.24 129.9,219.25 130.4,219.26 130.9,219.26 131.4,219.27 131.9,219.28 132.4,219.28 132.9,219.29 133.4,219.30 133.9,219.31 134.4,219.31 134.9,219.32 135.4,219.33 135.9,219.33 136.4,219.34 136.9,219.35 137.4,219.35 137.9,219.36 138.4,219.37 138.9,219.37 139.4,219.38 139.9,219.39 140.4,219.39 140.9,219.40 141.4,219.40 141.9,219.41 142.4,219.42 142.9,219.42 143.4,219.43 143.9,219.43 144.4,219.44 144.9,219.45 145.4,219.45 145.9,219.46 146.4,219.46 146.9,219.47 147.4,219.47 147.9,219.48 148.4,219.48 148.9,219.49 149.4,219.49 149.9,219.50 150.4,219.50 150.9,219.51 151.4,219.51 151.9,219.52 152.4,219.52 152.9,219.52 153.4,219.53 153.9,219.53 154.4,219.54 154.9,219.54 155.4,219.54 155.9,219.55 156.4,219.55 156.9,219.55 157.4,219.56 157.9,219.56 158.4,219.56 158.9,219.57 159.4,219.57 159.9,219.57 160.4,219.57 160.9,219.58 161.4,219.58 161.9,219.58 162.4,219.58 162.9,219.59 163.4,219.59 163.9,219.59 164.4,219.59 164.9,219.59 165.4,219.59 165.9,219.60 166.4,219.60 166.9,219.60 167.4,219.60 167.9,219.60 168.4,219.60 168.9,219.60 169.4,219.60 169.9,219.60 170.4,219.60 170.9,219.60 171.4,219.60 171.9,219.60 172.4,219.60 172.9,219.60 173.4,219.60 173.9,219.60 174.4,219.60 174.9,219.60 175.4,219.60 175.9,219.60 176.4,219.60 176.9,219.60 177.4,219.60 177.9,219.60 178.4,219.60 178.9,219.60 179.4,219.60 179.9,219.60 180.4,219.60 180.9,219.60 181.4,219.60 181.9,219.60 182.4,219.60 182.9,219.60 183.4,219.60 183.9,219.60 184.4,219.60 184.9,219.60 185.4,219.60 185.9,219.60 186.4,219.60 186.9,219.60 187.4,219.60 187.9,219.60 188.4,219.60 188.9,219.60 189.4,219.60 189.9,219.60 190.4,219.60 190.9,219.60 191.4,219.60 191.9,219.60 192.4,219.60 192.9,219.60 193.4,219.60 193.9,219.60 194.4,219.60 194.9,219.60 195.4,219.60 195.9,219.60 196.4,219.60 196.9,219.60 197.4,219.60 197.9,219.60 198.4,219.60 198.9,219.60 199.4,219.60 199.9,219.60 200.4,219.60 200.9,219.60 201.4,219.60 201.9,219.60 202.4,219.60 202.9,219.60 203.4,219.60 203.9,219.60 204.4,219.60 204.9,219.60 205.4,219.60 205.9,219.60 206.4,219.60 206.9,219.60 207.3,219.60 207.3,219.6 Z" fill="none" stroke="#ff4fc8" stroke-width="1.50" stroke-linejoin="round"/>
<path d="M30.4,219.6 L30.4,219.60 30.9,181.28 31.4,179.50 31.9,177.41 32.4,175.44 32.9,173.10 33.4,170.57 33.9,168.00 34.4,165.45 34.9,162.86 35.4,160.44 35.9,158.35 36.4,156.45 36.9,154.64 37.4,152.84 37.9,151.15 38.4,149.75 38.9,148.53 39.4,147.46 39.9,146.63 40.4,145.99 40.9,145.46 41.4,145.30 41.9,145.35 42.4,145.47 42.9,145.65 43.4,146.20 43.9,147.07 44.4,147.97 44.9,148.93 45.4,150.02 45.9,151.31 46.4,152.88 46.9,154.50 47.4,156.06 47.9,157.65 48.4,159.36 48.9,161.26 49.4,163.24 49.9,165.11 50.4,166.91 50.9,168.70 51.4,170.51 51.9,172.38 52.4,174.41 52.9,176.53 53.4,178.67 53.9,180.74 54.4,182.65 54.9,184.31 55.4,185.82 55.9,187.24 56.4,188.58 56.9,189.86 57.4,191.07 57.9,192.22 58.4,193.33 58.9,194.40 59.4,195.43 59.9,196.43 60.4,197.39 60.9,198.31 61.4,199.19 61.9,200.03 62.4,200.83 62.9,201.60 63.4,202.34 63.9,203.06 64.4,203.75 64.9,204.39 65.4,204.98 65.9,205.50 66.4,205.96 66.9,206.37 67.4,206.75 67.9,207.10 68.4,207.43 68.9,207.77 69.4,208.10 69.9,208.44 70.4,208.78 70.9,209.11 71.4,209.45 71.9,209.77 72.4,210.09 72.9,210.41 73.4,210.71 73.9,211.00 74.4,211.28 74.9,211.55 75.4,211.80 75.9,212.06 76.4,212.30 76.9,212.54 77.4,212.78 77.9,213.00 78.4,213.21 78.9,213.41 79.4,213.60 79.9,213.77 80.4,213.93 80.9,214.08 81.4,214.22 81.9,214.37 82.4,214.50 82.9,214.63 83.4,214.76 83.9,214.88 84.4,215.00 84.9,215.11 85.4,215.23 85.9,215.34 86.4,215.44 86.9,215.55 87.4,215.65 87.9,215.76 88.4,215.86 88.9,215.96 89.4,216.06 89.9,216.16 90.4,216.27 90.9,216.37 91.4,216.47 91.9,216.57 92.4,216.67 92.9,216.77 93.4,216.86 93.9,216.95 94.4,217.04 94.9,217.13 95.4,217.21 95.9,217.29 96.4,217.37 96.9,217.44 97.4,217.51 97.9,217.57 98.4,217.62 98.9,217.67 99.4,217.73 99.9,217.78 100.4,217.82 100.9,217.87 101.4,217.92 101.9,217.96 102.4,218.00 102.9,218.04 103.4,218.08 103.9,218.12 104.4,218.16 104.9,218.19 105.4,218.23 105.9,218.26 106.4,218.30 106.9,218.33 107.4,218.36 107.9,218.39 108.4,218.42 108.9,218.44 109.4,218.47 109.9,218.50 110.4,218.52 110.9,218.54 111.4,218.57 111.9,218.59 112.4,218.62 112.9,218.64 113.4,218.66 113.9,218.68 114.4,218.71 114.9,218.73 115.4,218.75 115.9,218.77 116.4,218.79 116.9,218.81 117.4,218.83 117.9,218.85 118.4,218.87 118.9,218.89 119.4,218.91 119.9,218.93 120.4,218.95 120.9,218.96 121.4,218.98 121.9,219.00 122.4,219.01 122.9,219.03 123.4,219.04 123.9,219.06 124.4,219.07 124.9,219.09 125.4,219.10 125.9,219.11 126.4,219.13 126.9,219.14 127.4,219.15 127.9,219.16 128.4,219.17 128.9,219.18 129.4,219.19 129.9,219.20 130.4,219.21 130.9,219.21 131.4,219.22 131.9,219.23 132.4,219.24 132.9,219.25 133.4,219.26 133.9,219.26 134.4,219.27 134.9,219.28 135.4,219.29 135.9,219.29 136.4,219.30 136.9,219.31 137.4,219.32 137.9,219.32 138.4,219.33 138.9,219.34 139.4,219.35 139.9,219.35 140.4,219.36 140.9,219.37 141.4,219.38 141.9,219.38 142.4,219.39 142.9,219.40 143.4,219.40 143.9,219.41 144.4,219.42 144.9,219.42 145.4,219.43 145.9,219.44 146.4,219.44 146.9,219.45 147.4,219.45 147.9,219.46 148.4,219.47 148.9,219.47 149.4,219.48 149.9,219.48 150.4,219.49 150.9,219.49 151.4,219.50 151.9,219.50 152.4,219.51 152.9,219.51 153.4,219.52 153.9,219.52 154.4,219.53 154.9,219.53 155.4,219.54 155.9,219.54 156.4,219.54 156.9,219.55 157.4,219.55 157.9,219.55 158.4,219.56 158.9,219.56 159.4,219.56 159.9,219.57 160.4,219.57 160.9,219.57 161.4,219.58 161.9,219.58 162.4,219.58 162.9,219.58 163.4,219.59 163.9,219.59 164.4,219.59 164.9,219.59 165.4,219.59 165.9,219.59 166.4,219.60 166.9,219.60 167.4,219.60 167.9,219.60 168.4,219.60 168.9,219.60 169.4,219.60 169.9,219.60 170.4,219.60 170.9,219.60 171.4,219.60 171.9,219.60 172.4,219.60 172.9,219.60 173.4,219.60 173.9,219.60 174.4,219.60 174.9,219.60 175.4,219.60 175.9,219.60 176.4,219.60 176.9,219.60 177.4,219.60 177.9,219.60 178.4,219.60 178.9,219.60 179.4,219.60 179.9,219.60 180.4,219.60 180.9,219.60 181.4,219.60 181.9,219.60 182.4,219.60 182.9,219.60 183.4,219.60 183.9,219.60 184.4,219.60 184.9,219.60 185.4,219.60 185.9,219.60 186.4,219.60 186.9,219.60 187.4,219.60 187.9,219.60 188.4,219.60 188.9,219.60 189.4,219.60 189.9,219.60 190.4,219.60 190.9,219.60 191.4,219.60 191.9,219.60 192.4,219.60 192.9,219.60 193.4,219.60 193.9,219.60 194.4,219.60 194.9,219.60 195.4,219.60 195.9,219.60 196.4,219.60 196.9,219.60 197.4,219.60 197.9,219.60 198.4,219.60 198.9,219.60 199.4,219.60 199.9,219.60 200.4,219.60 200.9,219.60 201.4,219.60 201.9,219.60 202.4,219.60 202.9,219.60 203.4,219.60 203.9,219.60 204.4,219.60 204.9,219.60 205.4,219.60 205.9,219.60 206.4,219.60 206.9,219.60 207.3,219.60 207.3,219.6 Z" fill="none" stroke="#d887ff" stroke-width="1.75" stroke-linejoin="round"/>
<line x1="45.20" y1="223.30" x2="45.20" y2="140.20" stroke="#e5a100" stroke-width="1.50" stroke-dasharray="6.00 6.00"/>
<line x1="45.20" y1="223.30" x2="45.20" y2="140.20" stroke="#ff8f1f" stroke-width="1.50" stroke-dasharray="6.00 6.00"/>
<line x1="46.30" y1="223.30" x2="46.30" y2="140.20" stroke="#ff4fc8" stroke-width="1.50" stroke-dasharray="6.00 6.00"/>
<line x1="46.50" y1="223.30" x2="46.50" y2="140.20" stroke="#d887ff" stroke-width="1.50" stroke-dasharray="6.00 6.00"/>
<line x1="51.60" y1="223.30" x2="51.60" y2="140.20" stroke="#b1a300" stroke-width="1.50" stroke-dasharray="6.00 6.00"/>
<line x1="50.50" y1="223.30" x2="50.50" y2="140.20" stroke="#ff8f1f" stroke-width="1.50" stroke-dasharray="6.00 6.00"/>
<line x1="52.30" y1="223.30" x2="52.30" y2="140.20" stroke="#16a216" stroke-width="1.50" stroke-dasharray="6.00 6.00"/>
<path d="M22.50,139.80 V223.30 H215.00" fill="none" stroke="#262626" stroke-width="1.15"/>
<line x1="37.00" y1="223.30" x2="37.00" y2="224.60" stroke="#262626" stroke-width="0.6" opacity="0.5"/>
<text x="37.00" y="232.40" font-size="9.30" text-anchor="middle" font-weight="normal" fill="#2e2e2e" style="color:#2e2e2e" >0.00</text>
<line x1="79.90" y1="223.30" x2="79.90" y2="224.60" stroke="#262626" stroke-width="0.6" opacity="0.5"/>
<text x="79.90" y="232.40" font-size="9.30" text-anchor="middle" font-weight="normal" fill="#2e2e2e" style="color:#2e2e2e" >0.25</text>
<line x1="122.80" y1="223.30" x2="122.80" y2="224.60" stroke="#262626" stroke-width="0.6" opacity="0.5"/>
<text x="122.80" y="232.40" font-size="9.30" text-anchor="middle" font-weight="normal" fill="#2e2e2e" style="color:#2e2e2e" >0.50</text>
<line x1="165.60" y1="223.30" x2="165.60" y2="224.60" stroke="#262626" stroke-width="0.6" opacity="0.5"/>
<text x="165.60" y="232.40" font-size="9.30" text-anchor="middle" font-weight="normal" fill="#2e2e2e" style="color:#2e2e2e" >0.75</text>
<line x1="208.50" y1="223.30" x2="208.50" y2="224.60" stroke="#262626" stroke-width="0.6" opacity="0.5"/>
<text x="208.50" y="232.40" font-size="9.30" text-anchor="middle" font-weight="normal" fill="#2e2e2e" style="color:#2e2e2e" >1.00</text>
<line x1="21.20" y1="219.60" x2="22.50" y2="219.60" stroke="#262626" stroke-width="0.6" opacity="0.5"/>
<text x="19.70" y="222.90" font-size="9.30" text-anchor="end" font-weight="normal" fill="#2e2e2e" style="color:#2e2e2e" >0</text>
<line x1="21.20" y1="195.00" x2="22.50" y2="195.00" stroke="#262626" stroke-width="0.6" opacity="0.5"/>
<text x="19.70" y="198.30" font-size="9.30" text-anchor="end" font-weight="normal" fill="#2e2e2e" style="color:#2e2e2e" >2</text>
<line x1="21.20" y1="170.40" x2="22.50" y2="170.40" stroke="#262626" stroke-width="0.6" opacity="0.5"/>
<text x="19.70" y="173.70" font-size="9.30" text-anchor="end" font-weight="normal" fill="#2e2e2e" style="color:#2e2e2e" >4</text>
<line x1="21.20" y1="145.80" x2="22.50" y2="145.80" stroke="#262626" stroke-width="0.6" opacity="0.5"/>
<text x="19.70" y="149.10" font-size="9.30" text-anchor="end" font-weight="normal" fill="#2e2e2e" style="color:#2e2e2e" >6</text>
<text x="118.80" y="242.90" font-size="10.00" text-anchor="middle" font-weight="normal" fill="#1a1a1a" style="color:#1a1a1a" >Gst'</text>
<text x="0.00" y="0.00" font-size="10.00" text-anchor="middle" font-weight="normal" fill="#1a1a1a" style="color:#1a1a1a" transform="translate(12.7,182.2) rotate(-90)">Density</text>
<path d="M268.4,219.6 L268.4,219.60 268.9,190.06 269.4,189.67 269.9,189.29 270.4,188.99 270.9,188.82 271.4,188.83 271.9,188.99 272.4,189.25 272.9,189.54 273.4,189.86 273.9,190.27 274.4,190.74 274.9,191.28 275.4,191.85 275.9,192.44 276.4,193.11 276.9,193.84 277.4,194.63 277.9,195.46 278.4,196.33 278.9,197.22 279.4,198.12 279.9,199.06 280.4,200.10 280.9,201.18 281.4,202.27 281.9,203.30 282.4,204.23 282.9,205.06 283.4,205.87 283.9,206.66 284.4,207.41 284.9,208.11 285.4,208.74 285.9,209.31 286.4,209.80 286.9,210.23 287.4,210.63 287.9,211.01 288.4,211.37 288.9,211.70 289.4,212.02 289.9,212.31 290.4,212.59 290.9,212.85 291.4,213.10 291.9,213.34 292.4,213.56 292.9,213.77 293.4,213.97 293.9,214.17 294.4,214.35 294.9,214.53 295.4,214.69 295.9,214.85 296.4,215.00 296.9,215.14 297.4,215.26 297.9,215.38 298.4,215.48 298.9,215.59 299.4,215.69 299.9,215.78 300.4,215.87 300.9,215.95 301.4,216.04 301.9,216.11 302.4,216.19 302.9,216.26 303.4,216.32 303.9,216.38 304.4,216.44 304.9,216.49 305.4,216.54 305.9,216.59 306.4,216.63 306.9,216.68 307.4,216.72 307.9,216.76 308.4,216.80 308.9,216.84 309.4,216.88 309.9,216.92 310.4,216.95 310.9,216.98 311.4,217.02 311.9,217.05 312.4,217.08 312.9,217.10 313.4,217.13 313.9,217.15 314.4,217.17 314.9,217.20 315.4,217.22 315.9,217.24 316.4,217.25 316.9,217.27 317.4,217.29 317.9,217.31 318.4,217.33 318.9,217.34 319.4,217.36 319.9,217.38 320.4,217.39 320.9,217.41 321.4,217.42 321.9,217.44 322.4,217.45 322.9,217.46 323.4,217.48 323.9,217.49 324.4,217.50 324.9,217.51 325.4,217.52 325.9,217.53 326.4,217.54 326.9,217.55 327.4,217.56 327.9,217.57 328.4,217.58 328.9,217.59 329.4,217.59 329.9,217.60 330.4,217.60 330.9,217.61 331.4,217.62 331.9,217.62 332.4,217.63 332.9,217.63 333.4,217.64 333.9,217.64 334.4,217.65 334.9,217.65 335.4,217.66 335.9,217.66 336.4,217.67 336.9,217.67 337.4,217.68 337.9,217.68 338.4,217.69 338.9,217.69 339.4,217.70 339.9,217.70 340.4,217.71 340.9,217.71 341.4,217.71 341.9,217.72 342.4,217.72 342.9,217.73 343.4,217.73 343.9,217.73 344.4,217.74 344.9,217.74 345.4,217.75 345.9,217.75 346.4,217.75 346.9,217.76 347.4,217.76 347.9,217.76 348.4,217.76 348.9,217.77 349.4,217.77 349.9,217.77 350.4,217.78 350.9,217.78 351.4,217.78 351.9,217.78 352.4,217.78 352.9,217.79 353.4,217.79 353.9,217.79 354.4,217.79 354.9,217.79 355.4,217.79 355.9,217.80 356.4,217.80 356.9,217.80 357.4,217.80 357.9,217.80 358.4,217.80 358.9,217.80 359.4,217.80 359.9,217.80 360.4,217.80 360.9,217.80 361.4,217.80 361.9,217.80 362.4,217.80 362.9,217.80 363.4,217.80 363.9,217.80 364.4,217.80 364.9,217.80 365.4,217.80 365.9,217.80 366.4,217.80 366.9,217.80 367.4,217.80 367.9,217.80 368.4,217.80 368.9,217.80 369.4,217.80 369.9,217.80 370.4,217.80 370.9,217.80 371.4,217.80 371.9,217.80 372.4,217.80 372.9,217.80 373.4,217.80 373.9,217.80 374.4,217.80 374.9,217.80 375.4,217.80 375.9,217.80 376.4,217.80 376.9,217.80 377.4,217.80 377.9,217.80 378.4,217.80 378.9,217.80 379.4,217.80 379.9,217.80 380.4,217.80 380.9,217.80 381.4,217.80 381.9,217.80 382.4,217.80 382.9,217.80 383.4,217.80 383.9,217.80 384.4,217.80 384.9,217.80 385.4,217.80 385.9,217.80 386.4,217.80 386.9,217.80 387.4,217.80 387.9,217.80 388.4,217.80 388.9,217.80 389.4,217.80 389.9,217.80 390.4,217.80 390.9,217.80 391.4,217.80 391.9,217.80 392.4,217.80 392.9,217.80 393.4,217.80 393.9,217.80 394.4,217.80 394.9,217.80 395.4,217.80 395.9,217.80 396.4,217.80 396.9,217.80 397.4,217.80 397.9,217.80 398.4,217.80 398.9,217.80 399.4,217.80 399.9,217.80 400.4,217.80 400.9,217.80 401.4,217.79 401.9,217.79 402.4,217.78 402.9,217.77 403.4,217.76 403.9,217.74 404.4,217.73 404.9,217.71 405.4,217.69 405.9,217.67 406.4,217.65 406.9,217.63 407.4,217.60 407.9,217.58 408.4,217.55 408.9,217.52 409.4,217.49 409.9,217.45 410.4,217.42 410.9,217.38 411.4,217.35 411.9,217.31 412.4,217.26 412.9,217.19 413.4,217.10 413.9,217.00 414.4,216.87 414.9,216.73 415.4,216.58 415.9,216.41 416.4,216.23 416.9,216.04 417.4,215.82 417.9,215.55 418.4,215.23 418.9,214.86 419.4,214.46 419.9,214.04 420.4,213.59 420.9,213.11 421.4,212.55 421.9,211.93 422.4,211.28 422.9,210.63 423.4,210.00 423.9,209.39 424.4,208.73 424.9,207.96 425.4,206.98 425.9,205.72 426.4,204.22 426.9,202.57 427.4,200.84 427.9,199.10 428.4,197.29 428.9,195.33 429.4,193.27 429.9,191.16 430.4,189.05 430.9,186.98 431.4,185.00 431.9,183.15 432.4,181.40 432.9,179.68 433.4,177.95 433.9,176.13 434.4,174.17 434.9,171.98 435.4,169.39 435.9,166.53 436.4,163.59 436.9,160.77 437.4,158.27 437.9,156.19 438.4,154.27 438.9,152.49 439.4,150.84 439.9,149.33 440.4,147.96 440.9,146.62 441.4,145.22 441.9,143.98 442.4,143.14 442.9,142.91 443.4,143.13 443.9,143.71 444.2,219.60 444.2,219.6 Z" fill="#ff8f1f" fill-opacity="0.170" stroke="none"/>
<path d="M268.4,219.6 L268.4,219.60 268.9,190.06 269.4,189.67 269.9,189.29 270.4,188.99 270.9,188.82 271.4,188.83 271.9,188.99 272.4,189.25 272.9,189.54 273.4,189.86 273.9,190.27 274.4,190.74 274.9,191.28 275.4,191.85 275.9,192.44 276.4,193.11 276.9,193.84 277.4,194.63 277.9,195.46 278.4,196.33 278.9,197.22 279.4,198.12 279.9,199.06 280.4,200.10 280.9,201.18 281.4,202.27 281.9,203.30 282.4,204.23 282.9,205.06 283.4,205.87 283.9,206.66 284.4,207.41 284.9,208.11 285.4,208.74 285.9,209.31 286.4,209.80 286.9,210.23 287.4,210.63 287.9,211.01 288.4,211.37 288.9,211.70 289.4,212.02 289.9,212.31 290.4,212.59 290.9,212.85 291.4,213.10 291.9,213.34 292.4,213.56 292.9,213.77 293.4,213.97 293.9,214.17 294.4,214.35 294.9,214.53 295.4,214.69 295.9,214.85 296.4,215.00 296.9,215.14 297.4,215.26 297.9,215.38 298.4,215.48 298.9,215.59 299.4,215.69 299.9,215.78 300.4,215.87 300.9,215.95 301.4,216.04 301.9,216.11 302.4,216.19 302.9,216.26 303.4,216.32 303.9,216.38 304.4,216.44 304.9,216.49 305.4,216.54 305.9,216.59 306.4,216.63 306.9,216.68 307.4,216.72 307.9,216.76 308.4,216.80 308.9,216.84 309.4,216.88 309.9,216.92 310.4,216.95 310.9,216.98 311.4,217.02 311.9,217.05 312.4,217.08 312.9,217.10 313.4,217.13 313.9,217.15 314.4,217.17 314.9,217.20 315.4,217.22 315.9,217.24 316.4,217.25 316.9,217.27 317.4,217.29 317.9,217.31 318.4,217.33 318.9,217.34 319.4,217.36 319.9,217.38 320.4,217.39 320.9,217.41 321.4,217.42 321.9,217.44 322.4,217.45 322.9,217.46 323.4,217.48 323.9,217.49 324.4,217.50 324.9,217.51 325.4,217.52 325.9,217.53 326.4,217.54 326.9,217.55 327.4,217.56 327.9,217.57 328.4,217.58 328.9,217.59 329.4,217.59 329.9,217.60 330.4,217.60 330.9,217.61 331.4,217.62 331.9,217.62 332.4,217.63 332.9,217.63 333.4,217.64 333.9,217.64 334.4,217.65 334.9,217.65 335.4,217.66 335.9,217.66 336.4,217.67 336.9,217.67 337.4,217.68 337.9,217.68 338.4,217.69 338.9,217.69 339.4,217.70 339.9,217.70 340.4,217.71 340.9,217.71 341.4,217.71 341.9,217.72 342.4,217.72 342.9,217.73 343.4,217.73 343.9,217.73 344.4,217.74 344.9,217.74 345.4,217.75 345.9,217.75 346.4,217.75 346.9,217.76 347.4,217.76 347.9,217.76 348.4,217.76 348.9,217.77 349.4,217.77 349.9,217.77 350.4,217.78 350.9,217.78 351.4,217.78 351.9,217.78 352.4,217.78 352.9,217.79 353.4,217.79 353.9,217.79 354.4,217.79 354.9,217.79 355.4,217.79 355.9,217.80 356.4,217.80 356.9,217.80 357.4,217.80 357.9,217.80 358.4,217.80 358.9,217.80 359.4,217.80 359.9,217.80 360.4,217.80 360.9,217.80 361.4,217.80 361.9,217.80 362.4,217.80 362.9,217.80 363.4,217.80 363.9,217.80 364.4,217.80 364.9,217.80 365.4,217.80 365.9,217.80 366.4,217.80 366.9,217.80 367.4,217.80 367.9,217.80 368.4,217.80 368.9,217.80 369.4,217.80 369.9,217.80 370.4,217.80 370.9,217.80 371.4,217.80 371.9,217.80 372.4,217.80 372.9,217.80 373.4,217.80 373.9,217.80 374.4,217.80 374.9,217.80 375.4,217.80 375.9,217.80 376.4,217.80 376.9,217.80 377.4,217.80 377.9,217.80 378.4,217.80 378.9,217.80 379.4,217.80 379.9,217.80 380.4,217.80 380.9,217.80 381.4,217.80 381.9,217.80 382.4,217.80 382.9,217.80 383.4,217.80 383.9,217.80 384.4,217.80 384.9,217.80 385.4,217.80 385.9,217.80 386.4,217.80 386.9,217.80 387.4,217.80 387.9,217.80 388.4,217.80 388.9,217.80 389.4,217.80 389.9,217.80 390.4,217.80 390.9,217.80 391.4,217.80 391.9,217.80 392.4,217.80 392.9,217.80 393.4,217.80 393.9,217.80 394.4,217.80 394.9,217.80 395.4,217.80 395.9,217.80 396.4,217.80 396.9,217.80 397.4,217.80 397.9,217.80 398.4,217.80 398.9,217.80 399.4,217.80 399.9,217.80 400.4,217.80 400.9,217.80 401.4,217.79 401.9,217.79 402.4,217.78 402.9,217.77 403.4,217.76 403.9,217.74 404.4,217.73 404.9,217.71 405.4,217.69 405.9,217.67 406.4,217.65 406.9,217.63 407.4,217.60 407.9,217.58 408.4,217.55 408.9,217.52 409.4,217.49 409.9,217.45 410.4,217.42 410.9,217.38 411.4,217.35 411.9,217.31 412.4,217.26 412.9,217.19 413.4,217.10 413.9,217.00 414.4,216.87 414.9,216.73 415.4,216.58 415.9,216.41 416.4,216.23 416.9,216.04 417.4,215.82 417.9,215.55 418.4,215.23 418.9,214.86 419.4,214.46 419.9,214.04 420.4,213.59 420.9,213.11 421.4,212.55 421.9,211.93 422.4,211.28 422.9,210.63 423.4,210.00 423.9,209.39 424.4,208.73 424.9,207.96 425.4,206.98 425.9,205.72 426.4,204.22 426.9,202.57 427.4,200.84 427.9,199.10 428.4,197.29 428.9,195.33 429.4,193.27 429.9,191.16 430.4,189.05 430.9,186.98 431.4,185.00 431.9,183.15 432.4,181.40 432.9,179.68 433.4,177.95 433.9,176.13 434.4,174.17 434.9,171.98 435.4,169.39 435.9,166.53 436.4,163.59 436.9,160.77 437.4,158.27 437.9,156.19 438.4,154.27 438.9,152.49 439.4,150.84 439.9,149.33 440.4,147.96 440.9,146.62 441.4,145.22 441.9,143.98 442.4,143.14 442.9,142.91 443.4,143.13 443.9,143.71 444.2,219.60 444.2,219.6 Z" fill="none" stroke="#ff8f1f" stroke-width="1.50" stroke-linejoin="round"/>
<path d="M268.4,219.6 L268.4,219.60 268.9,192.67 269.4,192.01 269.9,191.69 270.4,191.51 270.9,191.27 271.4,190.89 271.9,190.51 272.4,190.14 272.9,189.82 273.4,189.54 273.9,189.33 274.4,189.18 274.9,189.03 275.4,188.90 275.9,188.77 276.4,188.66 276.9,188.56 277.4,188.49 277.9,188.43 278.4,188.41 278.9,188.41 279.4,188.46 279.9,188.57 280.4,188.72 280.9,188.89 281.4,189.08 281.9,189.26 282.4,189.45 282.9,189.67 283.4,189.92 283.9,190.19 284.4,190.47 284.9,190.76 285.4,191.06 285.9,191.37 286.4,191.69 286.9,192.03 287.4,192.38 287.9,192.74 288.4,193.12 288.9,193.50 289.4,193.91 289.9,194.33 290.4,194.76 290.9,195.21 291.4,195.69 291.9,196.23 292.4,196.80 292.9,197.40 293.4,198.00 293.9,198.59 294.4,199.15 294.9,199.70 295.4,200.25 295.9,200.80 296.4,201.36 296.9,201.91 297.4,202.48 297.9,203.05 298.4,203.64 298.9,204.24 299.4,204.85 299.9,205.48 300.4,206.11 300.9,206.74 301.4,207.36 301.9,207.99 302.4,208.60 302.9,209.24 303.4,209.91 303.9,210.58 304.4,211.21 304.9,211.77 305.4,212.23 305.9,212.58 306.4,212.90 306.9,213.20 307.4,213.47 307.9,213.72 308.4,213.94 308.9,214.13 309.4,214.31 309.9,214.46 310.4,214.60 310.9,214.73 311.4,214.85 311.9,214.96 312.4,215.06 312.9,215.15 313.4,215.24 313.9,215.33 314.4,215.41 314.9,215.49 315.4,215.56 315.9,215.63 316.4,215.70 316.9,215.77 317.4,215.83 317.9,215.90 318.4,215.96 318.9,216.02 319.4,216.08 319.9,216.13 320.4,216.18 320.9,216.23 321.4,216.28 321.9,216.33 322.4,216.37 322.9,216.42 323.4,216.46 323.9,216.49 324.4,216.53 324.9,216.56 325.4,216.60 325.9,216.63 326.4,216.67 326.9,216.70 327.4,216.73 327.9,216.76 328.4,216.79 328.9,216.82 329.4,216.85 329.9,216.88 330.4,216.91 330.9,216.94 331.4,216.96 331.9,216.99 332.4,217.02 332.9,217.04 333.4,217.06 333.9,217.09 334.4,217.11 334.9,217.13 335.4,217.15 335.9,217.17 336.4,217.19 336.9,217.21 337.4,217.23 337.9,217.24 338.4,217.26 338.9,217.27 339.4,217.28 339.9,217.30 340.4,217.31 340.9,217.32 341.4,217.33 341.9,217.34 342.4,217.36 342.9,217.37 343.4,217.38 343.9,217.39 344.4,217.40 344.9,217.41 345.4,217.42 345.9,217.44 346.4,217.45 346.9,217.46 347.4,217.47 347.9,217.48 348.4,217.49 348.9,217.50 349.4,217.51 349.9,217.52 350.4,217.53 350.9,217.54 351.4,217.55 351.9,217.56 352.4,217.57 352.9,217.58 353.4,217.59 353.9,217.59 354.4,217.60 354.9,217.61 355.4,217.62 355.9,217.63 356.4,217.64 356.9,217.65 357.4,217.65 357.9,217.66 358.4,217.67 358.9,217.68 359.4,217.68 359.9,217.69 360.4,217.70 360.9,217.70 361.4,217.71 361.9,217.72 362.4,217.72 362.9,217.73 363.4,217.73 363.9,217.74 364.4,217.74 364.9,217.75 365.4,217.75 365.9,217.76 366.4,217.76 366.9,217.77 367.4,217.77 367.9,217.77 368.4,217.78 368.9,217.78 369.4,217.78 369.9,217.79 370.4,217.79 370.9,217.79 371.4,217.79 371.9,217.79 372.4,217.80 372.9,217.80 373.4,217.80 373.9,217.80 374.4,217.80 374.9,217.80 375.4,217.80 375.9,217.80 376.4,217.80 376.9,217.80 377.4,217.80 377.9,217.80 378.4,217.80 378.9,217.80 379.4,217.80 379.9,217.80 380.4,217.80 380.9,217.80 381.4,217.80 381.9,217.80 382.4,217.80 382.9,217.80 383.4,217.80 383.9,217.80 384.4,217.80 384.9,217.80 385.4,217.80 385.9,217.80 386.4,217.80 386.9,217.80 387.4,217.80 387.9,217.80 388.4,217.80 388.9,217.80 389.4,217.80 389.9,217.80 390.4,217.80 390.9,217.80 391.4,217.80 391.9,217.80 392.4,217.80 392.9,217.80 393.4,217.80 393.9,217.80 394.4,217.80 394.9,217.80 395.4,217.80 395.9,217.80 396.4,217.80 396.9,217.80 397.4,217.80 397.9,217.80 398.4,217.80 398.9,217.80 399.4,217.80 399.9,217.80 400.4,217.80 400.9,217.80 401.4,217.80 401.9,217.79 402.4,217.79 402.9,217.79 403.4,217.78 403.9,217.77 404.4,217.77 404.9,217.76 405.4,217.75 405.9,217.74 406.4,217.73 406.9,217.72 407.4,217.71 407.9,217.69 408.4,217.68 408.9,217.66 409.4,217.65 409.9,217.63 410.4,217.61 410.9,217.59 411.4,217.57 411.9,217.55 412.4,217.53 412.9,217.50 413.4,217.47 413.9,217.42 414.4,217.34 414.9,217.25 415.4,217.13 415.9,217.00 416.4,216.86 416.9,216.70 417.4,216.52 417.9,216.34 418.4,216.12 418.9,215.81 419.4,215.44 419.9,215.02 420.4,214.56 420.9,214.09 421.4,213.61 421.9,213.07 422.4,212.47 422.9,211.83 423.4,211.14 423.9,210.41 424.4,209.62 424.9,208.76 425.4,207.83 425.9,206.83 426.4,205.73 426.9,204.50 427.4,203.07 427.9,201.48 428.4,199.80 428.9,198.07 429.4,196.34 429.9,194.61 430.4,192.82 430.9,190.97 431.4,189.10 431.9,187.23 432.4,185.37 432.9,183.52 433.4,181.63 433.9,179.74 434.4,177.87 434.9,176.06 435.4,174.33 435.9,172.69 436.4,171.08 436.9,169.52 437.4,168.01 437.9,166.59 438.4,165.25 438.9,163.99 439.4,162.75 439.9,161.59 440.4,160.54 440.9,159.65 441.4,158.87 441.9,158.11 442.4,157.56 442.9,157.41 443.4,157.64 443.9,158.09 444.2,219.60 444.2,219.6 Z" fill="#e5a100" fill-opacity="0.170" stroke="none"/>
<path d="M268.4,219.6 L268.4,219.60 268.9,192.67 269.4,192.01 269.9,191.69 270.4,191.51 270.9,191.27 271.4,190.89 271.9,190.51 272.4,190.14 272.9,189.82 273.4,189.54 273.9,189.33 274.4,189.18 274.9,189.03 275.4,188.90 275.9,188.77 276.4,188.66 276.9,188.56 277.4,188.49 277.9,188.43 278.4,188.41 278.9,188.41 279.4,188.46 279.9,188.57 280.4,188.72 280.9,188.89 281.4,189.08 281.9,189.26 282.4,189.45 282.9,189.67 283.4,189.92 283.9,190.19 284.4,190.47 284.9,190.76 285.4,191.06 285.9,191.37 286.4,191.69 286.9,192.03 287.4,192.38 287.9,192.74 288.4,193.12 288.9,193.50 289.4,193.91 289.9,194.33 290.4,194.76 290.9,195.21 291.4,195.69 291.9,196.23 292.4,196.80 292.9,197.40 293.4,198.00 293.9,198.59 294.4,199.15 294.9,199.70 295.4,200.25 295.9,200.80 296.4,201.36 296.9,201.91 297.4,202.48 297.9,203.05 298.4,203.64 298.9,204.24 299.4,204.85 299.9,205.48 300.4,206.11 300.9,206.74 301.4,207.36 301.9,207.99 302.4,208.60 302.9,209.24 303.4,209.91 303.9,210.58 304.4,211.21 304.9,211.77 305.4,212.23 305.9,212.58 306.4,212.90 306.9,213.20 307.4,213.47 307.9,213.72 308.4,213.94 308.9,214.13 309.4,214.31 309.9,214.46 310.4,214.60 310.9,214.73 311.4,214.85 311.9,214.96 312.4,215.06 312.9,215.15 313.4,215.24 313.9,215.33 314.4,215.41 314.9,215.49 315.4,215.56 315.9,215.63 316.4,215.70 316.9,215.77 317.4,215.83 317.9,215.90 318.4,215.96 318.9,216.02 319.4,216.08 319.9,216.13 320.4,216.18 320.9,216.23 321.4,216.28 321.9,216.33 322.4,216.37 322.9,216.42 323.4,216.46 323.9,216.49 324.4,216.53 324.9,216.56 325.4,216.60 325.9,216.63 326.4,216.67 326.9,216.70 327.4,216.73 327.9,216.76 328.4,216.79 328.9,216.82 329.4,216.85 329.9,216.88 330.4,216.91 330.9,216.94 331.4,216.96 331.9,216.99 332.4,217.02 332.9,217.04 333.4,217.06 333.9,217.09 334.4,217.11 334.9,217.13 335.4,217.15 335.9,217.17 336.4,217.19 336.9,217.21 337.4,217.23 337.9,217.24 338.4,217.26 338.9,217.27 339.4,217.28 339.9,217.30 340.4,217.31 340.9,217.32 341.4,217.33 341.9,217.34 342.4,217.36 342.9,217.37 343.4,217.38 343.9,217.39 344.4,217.40 344.9,217.41 345.4,217.42 345.9,217.44 346.4,217.45 346.9,217.46 347.4,217.47 347.9,217.48 348.4,217.49 348.9,217.50 349.4,217.51 349.9,217.52 350.4,217.53 350.9,217.54 351.4,217.55 351.9,217.56 352.4,217.57 352.9,217.58 353.4,217.59 353.9,217.59 354.4,217.60 354.9,217.61 355.4,217.62 355.9,217.63 356.4,217.64 356.9,217.65 357.4,217.65 357.9,217.66 358.4,217.67 358.9,217.68 359.4,217.68 359.9,217.69 360.4,217.70 360.9,217.70 361.4,217.71 361.9,217.72 362.4,217.72 362.9,217.73 363.4,217.73 363.9,217.74 364.4,217.74 364.9,217.75 365.4,217.75 365.9,217.76 366.4,217.76 366.9,217.77 367.4,217.77 367.9,217.77 368.4,217.78 368.9,217.78 369.4,217.78 369.9,217.79 370.4,217.79 370.9,217.79 371.4,217.79 371.9,217.79 372.4,217.80 372.9,217.80 373.4,217.80 373.9,217.80 374.4,217.80 374.9,217.80 375.4,217.80 375.9,217.80 376.4,217.80 376.9,217.80 377.4,217.80 377.9,217.80 378.4,217.80 378.9,217.80 379.4,217.80 379.9,217.80 380.4,217.80 380.9,217.80 381.4,217.80 381.9,217.80 382.4,217.80 382.9,217.80 383.4,217.80 383.9,217.80 384.4,217.80 384.9,217.80 385.4,217.80 385.9,217.80 386.4,217.80 386.9,217.80 387.4,217.80 387.9,217.80 388.4,217.80 388.9,217.80 389.4,217.80 389.9,217.80 390.4,217.80 390.9,217.80 391.4,217.80 391.9,217.80 392.4,217.80 392.9,217.80 393.4,217.80 393.9,217.80 394.4,217.80 394.9,217.80 395.4,217.80 395.9,217.80 396.4,217.80 396.9,217.80 397.4,217.80 397.9,217.80 398.4,217.80 398.9,217.80 399.4,217.80 399.9,217.80 400.4,217.80 400.9,217.80 401.4,217.80 401.9,217.79 402.4,217.79 402.9,217.79 403.4,217.78 403.9,217.77 404.4,217.77 404.9,217.76 405.4,217.75 405.9,217.74 406.4,217.73 406.9,217.72 407.4,217.71 407.9,217.69 408.4,217.68 408.9,217.66 409.4,217.65 409.9,217.63 410.4,217.61 410.9,217.59 411.4,217.57 411.9,217.55 412.4,217.53 412.9,217.50 413.4,217.47 413.9,217.42 414.4,217.34 414.9,217.25 415.4,217.13 415.9,217.00 416.4,216.86 416.9,216.70 417.4,216.52 417.9,216.34 418.4,216.12 418.9,215.81 419.4,215.44 419.9,215.02 420.4,214.56 420.9,214.09 421.4,213.61 421.9,213.07 422.4,212.47 422.9,211.83 423.4,211.14 423.9,210.41 424.4,209.62 424.9,208.76 425.4,207.83 425.9,206.83 426.4,205.73 426.9,204.50 427.4,203.07 427.9,201.48 428.4,199.80 428.9,198.07 429.4,196.34 429.9,194.61 430.4,192.82 430.9,190.97 431.4,189.10 431.9,187.23 432.4,185.37 432.9,183.52 433.4,181.63 433.9,179.74 434.4,177.87 434.9,176.06 435.4,174.33 435.9,172.69 436.4,171.08 436.9,169.52 437.4,168.01 437.9,166.59 438.4,165.25 438.9,163.99 439.4,162.75 439.9,161.59 440.4,160.54 440.9,159.65 441.4,158.87 441.9,158.11 442.4,157.56 442.9,157.41 443.4,157.64 443.9,158.09 444.2,219.60 444.2,219.6 Z" fill="none" stroke="#e5a100" stroke-width="1.50" stroke-linejoin="round"/>
<path d="M268.4,219.6 L268.4,219.60 268.9,199.16 269.4,198.80 269.9,198.64 270.4,198.53 270.9,198.36 271.4,198.20 271.9,198.08 272.4,198.01 272.9,198.01 273.4,198.09 273.9,198.23 274.4,198.39 274.9,198.57 275.4,198.76 275.9,199.01 276.4,199.30 276.9,199.61 277.4,199.93 277.9,200.25 278.4,200.60 278.9,200.97 279.4,201.35 279.9,201.74 280.4,202.14 280.9,202.54 281.4,202.94 281.9,203.33 282.4,203.72 282.9,204.10 283.4,204.47 283.9,204.83 284.4,205.19 284.9,205.54 285.4,205.89 285.9,206.24 286.4,206.59 286.9,206.94 287.4,207.28 287.9,207.63 288.4,207.97 288.9,208.32 289.4,208.67 289.9,209.02 290.4,209.37 290.9,209.73 291.4,210.10 291.9,210.49 292.4,210.89 292.9,211.27 293.4,211.63 293.9,211.94 294.4,212.22 294.9,212.50 295.4,212.77 295.9,213.03 296.4,213.28 296.9,213.51 297.4,213.72 297.9,213.90 298.4,214.05 298.9,214.15 299.4,214.22 299.9,214.29 300.4,214.34 300.9,214.40 301.4,214.45 301.9,214.50 302.4,214.55 302.9,214.59 303.4,214.64 303.9,214.68 304.4,214.71 304.9,214.74 305.4,214.77 305.9,214.80 306.4,214.83 306.9,214.85 307.4,214.86 307.9,214.88 308.4,214.89 308.9,214.90 309.4,214.90 309.9,214.90 310.4,214.90 310.9,214.90 311.4,214.90 311.9,214.90 312.4,214.90 312.9,214.90 313.4,214.90 313.9,214.90 314.4,214.90 314.9,214.90 315.4,214.90 315.9,214.90 316.4,214.90 316.9,214.90 317.4,214.90 317.9,214.90 318.4,214.90 318.9,214.90 319.4,214.90 319.9,214.90 320.4,214.90 320.9,214.85 321.4,214.76 321.9,214.64 322.4,214.48 322.9,214.31 323.4,214.13 323.9,213.94 324.4,213.72 324.9,213.42 325.4,213.06 325.9,212.67 326.4,212.27 326.9,211.90 327.4,211.58 327.9,211.34 328.4,211.16 328.9,210.99 329.4,210.82 329.9,210.67 330.4,210.53 330.9,210.41 331.4,210.32 331.9,210.25 332.4,210.21 332.9,210.20 333.4,210.23 333.9,210.29 334.4,210.37 334.9,210.46 335.4,210.58 335.9,210.70 336.4,210.84 336.9,210.97 337.4,211.13 337.9,211.34 338.4,211.58 338.9,211.86 339.4,212.14 339.9,212.43 340.4,212.71 340.9,212.95 341.4,213.18 341.9,213.42 342.4,213.65 342.9,213.88 343.4,214.10 343.9,214.29 344.4,214.45 344.9,214.58 345.4,214.68 345.9,214.77 346.4,214.86 346.9,214.94 347.4,215.03 347.9,215.10 348.4,215.18 348.9,215.24 349.4,215.30 349.9,215.35 350.4,215.40 350.9,215.44 351.4,215.47 351.9,215.49 352.4,215.50 352.9,215.50 353.4,215.50 353.9,215.50 354.4,215.50 354.9,215.50 355.4,215.50 355.9,215.50 356.4,215.50 356.9,215.50 357.4,215.50 357.9,215.49 358.4,215.49 358.9,215.49 359.4,215.49 359.9,215.49 360.4,215.49 360.9,215.49 361.4,215.48 361.9,215.48 362.4,215.48 362.9,215.48 363.4,215.48 363.9,215.47 364.4,215.47 364.9,215.47 365.4,215.47 365.9,215.46 366.4,215.46 366.9,215.46 367.4,215.46 367.9,215.45 368.4,215.45 368.9,215.45 369.4,215.44 369.9,215.44 370.4,215.44 370.9,215.43 371.4,215.43 371.9,215.43 372.4,215.42 372.9,215.42 373.4,215.41 373.9,215.41 374.4,215.41 374.9,215.40 375.4,215.40 375.9,215.39 376.4,215.37 376.9,215.36 377.4,215.33 377.9,215.31 378.4,215.28 378.9,215.25 379.4,215.22 379.9,215.19 380.4,215.15 380.9,215.11 381.4,215.07 381.9,215.03 382.4,214.98 382.9,214.94 383.4,214.89 383.9,214.84 384.4,214.80 384.9,214.75 385.4,214.70 385.9,214.65 386.4,214.60 386.9,214.55 387.4,214.50 387.9,214.46 388.4,214.41 388.9,214.36 389.4,214.32 389.9,214.28 390.4,214.24 390.9,214.20 391.4,214.16 391.9,214.13 392.4,214.10 392.9,214.07 393.4,214.04 393.9,214.02 394.4,214.00 394.9,213.98 395.4,213.96 395.9,213.95 396.4,213.93 396.9,213.92 397.4,213.90 397.9,213.89 398.4,213.88 398.9,213.87 399.4,213.86 399.9,213.85 400.4,213.84 400.9,213.83 401.4,213.82 401.9,213.81 402.4,213.80 402.9,213.79 403.4,213.79 403.9,213.78 404.4,213.77 404.9,213.76 405.4,213.75 405.9,213.74 406.4,213.73 406.9,213.72 407.4,213.71 407.9,213.70 408.4,213.69 408.9,213.68 409.4,213.66 409.9,213.65 410.4,213.63 410.9,213.62 411.4,213.60 411.9,213.58 412.4,213.56 412.9,213.54 413.4,213.51 413.9,213.49 414.4,213.46 414.9,213.42 415.4,213.37 415.9,213.32 416.4,213.26 416.9,213.19 417.4,213.11 417.9,213.02 418.4,212.91 418.9,212.76 419.4,212.58 419.9,212.35 420.4,212.10 420.9,211.81 421.4,211.50 421.9,211.11 422.4,210.62 422.9,210.03 423.4,209.37 423.9,208.65 424.4,207.85 424.9,206.91 425.4,205.86 425.9,204.71 426.4,203.50 426.9,202.25 427.4,200.96 427.9,199.57 428.4,198.10 428.9,196.56 429.4,194.96 429.9,193.33 430.4,191.64 430.9,189.86 431.4,188.01 431.9,186.13 432.4,184.24 432.9,182.37 433.4,180.51 433.9,178.59 434.4,176.66 434.9,174.78 435.4,172.98 435.9,171.31 436.4,169.76 436.9,168.23 437.4,166.77 437.9,165.40 438.4,164.19 438.9,163.18 439.4,162.34 439.9,161.59 440.4,160.92 440.9,160.35 441.4,159.88 441.9,159.48 442.4,159.10 442.9,158.85 443.4,158.81 443.9,159.09 444.2,219.60 444.2,219.6 Z" fill="#b1a300" fill-opacity="0.170" stroke="none"/>
<path d="M268.4,219.6 L268.4,219.60 268.9,199.16 269.4,198.80 269.9,198.64 270.4,198.53 270.9,198.36 271.4,198.20 271.9,198.08 272.4,198.01 272.9,198.01 273.4,198.09 273.9,198.23 274.4,198.39 274.9,198.57 275.4,198.76 275.9,199.01 276.4,199.30 276.9,199.61 277.4,199.93 277.9,200.25 278.4,200.60 278.9,200.97 279.4,201.35 279.9,201.74 280.4,202.14 280.9,202.54 281.4,202.94 281.9,203.33 282.4,203.72 282.9,204.10 283.4,204.47 283.9,204.83 284.4,205.19 284.9,205.54 285.4,205.89 285.9,206.24 286.4,206.59 286.9,206.94 287.4,207.28 287.9,207.63 288.4,207.97 288.9,208.32 289.4,208.67 289.9,209.02 290.4,209.37 290.9,209.73 291.4,210.10 291.9,210.49 292.4,210.89 292.9,211.27 293.4,211.63 293.9,211.94 294.4,212.22 294.9,212.50 295.4,212.77 295.9,213.03 296.4,213.28 296.9,213.51 297.4,213.72 297.9,213.90 298.4,214.05 298.9,214.15 299.4,214.22 299.9,214.29 300.4,214.34 300.9,214.40 301.4,214.45 301.9,214.50 302.4,214.55 302.9,214.59 303.4,214.64 303.9,214.68 304.4,214.71 304.9,214.74 305.4,214.77 305.9,214.80 306.4,214.83 306.9,214.85 307.4,214.86 307.9,214.88 308.4,214.89 308.9,214.90 309.4,214.90 309.9,214.90 310.4,214.90 310.9,214.90 311.4,214.90 311.9,214.90 312.4,214.90 312.9,214.90 313.4,214.90 313.9,214.90 314.4,214.90 314.9,214.90 315.4,214.90 315.9,214.90 316.4,214.90 316.9,214.90 317.4,214.90 317.9,214.90 318.4,214.90 318.9,214.90 319.4,214.90 319.9,214.90 320.4,214.90 320.9,214.85 321.4,214.76 321.9,214.64 322.4,214.48 322.9,214.31 323.4,214.13 323.9,213.94 324.4,213.72 324.9,213.42 325.4,213.06 325.9,212.67 326.4,212.27 326.9,211.90 327.4,211.58 327.9,211.34 328.4,211.16 328.9,210.99 329.4,210.82 329.9,210.67 330.4,210.53 330.9,210.41 331.4,210.32 331.9,210.25 332.4,210.21 332.9,210.20 333.4,210.23 333.9,210.29 334.4,210.37 334.9,210.46 335.4,210.58 335.9,210.70 336.4,210.84 336.9,210.97 337.4,211.13 337.9,211.34 338.4,211.58 338.9,211.86 339.4,212.14 339.9,212.43 340.4,212.71 340.9,212.95 341.4,213.18 341.9,213.42 342.4,213.65 342.9,213.88 343.4,214.10 343.9,214.29 344.4,214.45 344.9,214.58 345.4,214.68 345.9,214.77 346.4,214.86 346.9,214.94 347.4,215.03 347.9,215.10 348.4,215.18 348.9,215.24 349.4,215.30 349.9,215.35 350.4,215.40 350.9,215.44 351.4,215.47 351.9,215.49 352.4,215.50 352.9,215.50 353.4,215.50 353.9,215.50 354.4,215.50 354.9,215.50 355.4,215.50 355.9,215.50 356.4,215.50 356.9,215.50 357.4,215.50 357.9,215.49 358.4,215.49 358.9,215.49 359.4,215.49 359.9,215.49 360.4,215.49 360.9,215.49 361.4,215.48 361.9,215.48 362.4,215.48 362.9,215.48 363.4,215.48 363.9,215.47 364.4,215.47 364.9,215.47 365.4,215.47 365.9,215.46 366.4,215.46 366.9,215.46 367.4,215.46 367.9,215.45 368.4,215.45 368.9,215.45 369.4,215.44 369.9,215.44 370.4,215.44 370.9,215.43 371.4,215.43 371.9,215.43 372.4,215.42 372.9,215.42 373.4,215.41 373.9,215.41 374.4,215.41 374.9,215.40 375.4,215.40 375.9,215.39 376.4,215.37 376.9,215.36 377.4,215.33 377.9,215.31 378.4,215.28 378.9,215.25 379.4,215.22 379.9,215.19 380.4,215.15 380.9,215.11 381.4,215.07 381.9,215.03 382.4,214.98 382.9,214.94 383.4,214.89 383.9,214.84 384.4,214.80 384.9,214.75 385.4,214.70 385.9,214.65 386.4,214.60 386.9,214.55 387.4,214.50 387.9,214.46 388.4,214.41 388.9,214.36 389.4,214.32 389.9,214.28 390.4,214.24 390.9,214.20 391.4,214.16 391.9,214.13 392.4,214.10 392.9,214.07 393.4,214.04 393.9,214.02 394.4,214.00 394.9,213.98 395.4,213.96 395.9,213.95 396.4,213.93 396.9,213.92 397.4,213.90 397.9,213.89 398.4,213.88 398.9,213.87 399.4,213.86 399.9,213.85 400.4,213.84 400.9,213.83 401.4,213.82 401.9,213.81 402.4,213.80 402.9,213.79 403.4,213.79 403.9,213.78 404.4,213.77 404.9,213.76 405.4,213.75 405.9,213.74 406.4,213.73 406.9,213.72 407.4,213.71 407.9,213.70 408.4,213.69 408.9,213.68 409.4,213.66 409.9,213.65 410.4,213.63 410.9,213.62 411.4,213.60 411.9,213.58 412.4,213.56 412.9,213.54 413.4,213.51 413.9,213.49 414.4,213.46 414.9,213.42 415.4,213.37 415.9,213.32 416.4,213.26 416.9,213.19 417.4,213.11 417.9,213.02 418.4,212.91 418.9,212.76 419.4,212.58 419.9,212.35 420.4,212.10 420.9,211.81 421.4,211.50 421.9,211.11 422.4,210.62 422.9,210.03 423.4,209.37 423.9,208.65 424.4,207.85 424.9,206.91 425.4,205.86 425.9,204.71 426.4,203.50 426.9,202.25 427.4,200.96 427.9,199.57 428.4,198.10 428.9,196.56 429.4,194.96 429.9,193.33 430.4,191.64 430.9,189.86 431.4,188.01 431.9,186.13 432.4,184.24 432.9,182.37 433.4,180.51 433.9,178.59 434.4,176.66 434.9,174.78 435.4,172.98 435.9,171.31 436.4,169.76 436.9,168.23 437.4,166.77 437.9,165.40 438.4,164.19 438.9,163.18 439.4,162.34 439.9,161.59 440.4,160.92 440.9,160.35 441.4,159.88 441.9,159.48 442.4,159.10 442.9,158.85 443.4,158.81 443.9,159.09 444.2,219.60 444.2,219.6 Z" fill="none" stroke="#b1a300" stroke-width="1.50" stroke-linejoin="round"/>
<path d="M268.4,219.6 L268.4,219.60 268.9,204.66 269.4,203.94 269.9,203.63 270.4,203.30 270.9,202.75 271.4,202.21 271.9,201.69 272.4,201.20 272.9,200.74 273.4,200.32 273.9,199.94 274.4,199.60 274.9,199.28 275.4,198.98 275.9,198.71 276.4,198.45 276.9,198.23 277.4,198.04 277.9,197.86 278.4,197.68 278.9,197.51 279.4,197.35 279.9,197.23 280.4,197.14 280.9,197.10 281.4,197.10 281.9,197.12 282.4,197.14 282.9,197.17 283.4,197.20 283.9,197.24 284.4,197.29 284.9,197.35 285.4,197.45 285.9,197.59 286.4,197.75 286.9,197.93 287.4,198.11 287.9,198.30 288.4,198.50 288.9,198.72 289.4,198.97 289.9,199.23 290.4,199.50 290.9,199.79 291.4,200.09 291.9,200.38 292.4,200.68 292.9,200.98 293.4,201.27 293.9,201.55 294.4,201.81 294.9,202.08 295.4,202.35 295.9,202.61 296.4,202.87 296.9,203.14 297.4,203.41 297.9,203.68 298.4,203.95 298.9,204.23 299.4,204.52 299.9,204.81 300.4,205.12 300.9,205.44 301.4,205.77 301.9,206.09 302.4,206.41 302.9,206.72 303.4,207.01 303.9,207.29 304.4,207.55 304.9,207.79 305.4,208.03 305.9,208.27 306.4,208.49 306.9,208.71 307.4,208.92 307.9,209.12 308.4,209.30 308.9,209.47 309.4,209.62 309.9,209.75 310.4,209.86 310.9,209.97 311.4,210.06 311.9,210.14 312.4,210.22 312.9,210.30 313.4,210.39 313.9,210.47 314.4,210.57 314.9,210.68 315.4,210.80 315.9,210.93 316.4,211.08 316.9,211.23 317.4,211.39 317.9,211.56 318.4,211.72 318.9,211.89 319.4,212.05 319.9,212.21 320.4,212.36 320.9,212.50 321.4,212.64 321.9,212.78 322.4,212.92 322.9,213.07 323.4,213.21 323.9,213.37 324.4,213.53 324.9,213.71 325.4,213.89 325.9,214.08 326.4,214.27 326.9,214.46 327.4,214.65 327.9,214.83 328.4,215.01 328.9,215.17 329.4,215.33 329.9,215.49 330.4,215.65 330.9,215.82 331.4,215.98 331.9,216.14 332.4,216.28 332.9,216.42 333.4,216.54 333.9,216.65 334.4,216.73 334.9,216.79 335.4,216.83 335.9,216.88 336.4,216.92 336.9,216.95 337.4,216.99 337.9,217.02 338.4,217.05 338.9,217.08 339.4,217.11 339.9,217.13 340.4,217.15 340.9,217.17 341.4,217.18 341.9,217.19 342.4,217.20 342.9,217.20 343.4,217.20 343.9,217.20 344.4,217.19 344.9,217.18 345.4,217.17 345.9,217.16 346.4,217.15 346.9,217.14 347.4,217.12 347.9,217.10 348.4,217.09 348.9,217.07 349.4,217.05 349.9,217.03 350.4,217.00 350.9,216.98 351.4,216.96 351.9,216.94 352.4,216.91 352.9,216.89 353.4,216.86 353.9,216.82 354.4,216.77 354.9,216.72 355.4,216.66 355.9,216.60 356.4,216.54 356.9,216.48 357.4,216.42 357.9,216.36 358.4,216.30 358.9,216.25 359.4,216.20 359.9,216.16 360.4,216.13 360.9,216.11 361.4,216.10 361.9,216.10 362.4,216.10 362.9,216.10 363.4,216.10 363.9,216.10 364.4,216.10 364.9,216.10 365.4,216.10 365.9,216.10 366.4,216.10 366.9,216.10 367.4,216.10 367.9,216.10 368.4,216.10 368.9,216.11 369.4,216.12 369.9,216.14 370.4,216.17 370.9,216.19 371.4,216.22 371.9,216.25 372.4,216.28 372.9,216.31 373.4,216.33 373.9,216.36 374.4,216.38 374.9,216.40 375.4,216.41 375.9,216.43 376.4,216.44 376.9,216.45 377.4,216.47 377.9,216.48 378.4,216.50 378.9,216.51 379.4,216.52 379.9,216.54 380.4,216.55 380.9,216.56 381.4,216.57 381.9,216.58 382.4,216.58 382.9,216.59 383.4,216.59 383.9,216.60 384.4,216.60 384.9,216.60 385.4,216.59 385.9,216.56 386.4,216.52 386.9,216.46 387.4,216.40 387.9,216.33 388.4,216.24 388.9,216.15 389.4,216.05 389.9,215.95 390.4,215.84 390.9,215.72 391.4,215.60 391.9,215.48 392.4,215.36 392.9,215.24 393.4,215.12 393.9,215.00 394.4,214.88 394.9,214.74 395.4,214.59 395.9,214.42 396.4,214.24 396.9,214.06 397.4,213.88 397.9,213.71 398.4,213.56 398.9,213.42 399.4,213.31 399.9,213.18 400.4,213.06 400.9,212.94 401.4,212.83 401.9,212.72 402.4,212.64 402.9,212.57 403.4,212.52 403.9,212.50 404.4,212.51 404.9,212.54 405.4,212.59 405.9,212.65 406.4,212.73 406.9,212.81 407.4,212.90 407.9,212.98 408.4,213.07 408.9,213.18 409.4,213.31 409.9,213.45 410.4,213.59 410.9,213.74 411.4,213.88 411.9,214.03 412.4,214.20 412.9,214.39 413.4,214.60 413.9,214.80 414.4,214.98 414.9,215.14 415.4,215.25 415.9,215.30 416.4,215.29 416.9,215.27 417.4,215.24 417.9,215.19 418.4,215.14 418.9,215.07 419.4,215.00 419.9,214.89 420.4,214.71 420.9,214.49 421.4,214.22 421.9,213.92 422.4,213.60 422.9,213.22 423.4,212.74 423.9,212.20 424.4,211.62 424.9,211.03 425.4,210.41 425.9,209.74 426.4,209.00 426.9,208.16 427.4,207.18 427.9,205.95 428.4,204.50 428.9,202.89 429.4,201.18 429.9,199.45 430.4,197.69 430.9,195.83 431.4,193.89 431.9,191.87 432.4,189.78 432.9,187.64 433.4,185.44 433.9,183.11 434.4,180.56 434.9,178.00 435.4,175.64 435.9,173.61 436.4,171.67 436.9,169.83 437.4,168.13 437.9,166.62 438.4,165.33 438.9,164.23 439.4,163.20 439.9,162.25 440.4,161.44 440.9,160.78 441.4,160.30 441.9,159.93 442.4,159.61 442.9,159.39 443.4,159.30 443.9,159.43 444.2,219.60 444.2,219.6 Z" fill="#16a216" fill-opacity="0.170" stroke="none"/>
<path d="M268.4,219.6 L268.4,219.60 268.9,191.49 269.4,190.68 269.9,190.18 270.4,189.23 270.9,188.31 271.4,187.44 271.9,186.62 272.4,185.85 272.9,185.11 273.4,184.39 273.9,183.71 274.4,183.10 274.9,182.59 275.4,182.17 275.9,181.77 276.4,181.43 276.9,181.14 277.4,180.93 277.9,180.78 278.4,180.65 278.9,180.53 279.4,180.45 279.9,180.40 280.4,180.41 280.9,180.46 281.4,180.55 281.9,180.67 282.4,180.81 282.9,180.97 283.4,181.15 283.9,181.41 284.4,181.74 284.9,182.12 285.4,182.53 285.9,182.98 286.4,183.44 286.9,183.91 287.4,184.39 287.9,184.92 288.4,185.49 288.9,186.10 289.4,186.72 289.9,187.37 290.4,188.04 290.9,188.74 291.4,189.48 291.9,190.23 292.4,191.00 292.9,191.76 293.4,192.57 293.9,193.40 294.4,194.24 294.9,195.08 295.4,195.92 295.9,196.73 296.4,197.50 296.9,198.23 297.4,198.90 297.9,199.56 298.4,200.19 298.9,200.80 299.4,201.38 299.9,201.91 300.4,202.41 300.9,202.87 301.4,203.31 301.9,203.75 302.4,204.16 302.9,204.54 303.4,204.88 303.9,205.19 304.4,205.45 304.9,205.68 305.4,205.90 305.9,206.10 306.4,206.28 306.9,206.41 307.4,206.49 307.9,206.53 308.4,206.56 308.9,206.58 309.4,206.60 309.9,206.59 310.4,206.44 310.9,206.18 311.4,205.83 311.9,205.45 312.4,205.07 312.9,204.71 313.4,204.30 313.9,203.87 314.4,203.40 314.9,202.91 315.4,202.40 315.9,201.86 316.4,201.25 316.9,200.61 317.4,199.98 317.9,199.41 318.4,198.90 318.9,198.42 319.4,197.96 319.9,197.52 320.4,197.10 320.9,196.71 321.4,196.36 321.9,196.04 322.4,195.74 322.9,195.47 323.4,195.23 323.9,195.03 324.4,194.86 324.9,194.71 325.4,194.61 325.9,194.62 326.4,194.71 326.9,194.86 327.4,195.04 327.9,195.30 328.4,195.65 328.9,196.10 329.4,196.60 329.9,197.14 330.4,197.72 330.9,198.40 331.4,199.22 331.9,200.12 332.4,201.06 332.9,202.02 333.4,202.95 333.9,203.83 334.4,204.75 334.9,205.70 335.4,206.63 335.9,207.53 336.4,208.35 336.9,209.07 337.4,209.70 337.9,210.31 338.4,210.89 338.9,211.42 339.4,211.89 339.9,212.29 340.4,212.60 340.9,212.86 341.4,213.10 341.9,213.32 342.4,213.51 342.9,213.67 343.4,213.80 343.9,213.89 344.4,213.95 344.9,214.00 345.4,214.05 345.9,214.09 346.4,214.13 346.9,214.16 347.4,214.18 347.9,214.20 348.4,214.20 348.9,214.19 349.4,214.17 349.9,214.13 350.4,214.09 350.9,214.03 351.4,213.97 351.9,213.90 352.4,213.83 352.9,213.75 353.4,213.67 353.9,213.58 354.4,213.50 354.9,213.42 355.4,213.33 355.9,213.23 356.4,213.11 356.9,212.98 357.4,212.85 357.9,212.71 358.4,212.56 358.9,212.41 359.4,212.25 359.9,212.10 360.4,211.95 360.9,211.80 361.4,211.66 361.9,211.53 362.4,211.39 362.9,211.25 363.4,211.10 363.9,210.94 364.4,210.78 364.9,210.62 365.4,210.47 365.9,210.33 366.4,210.20 366.9,210.09 367.4,210.01 367.9,209.94 368.4,209.91 368.9,209.90 369.4,209.92 369.9,209.95 370.4,209.99 370.9,210.04 371.4,210.10 371.9,210.16 372.4,210.22 372.9,210.29 373.4,210.35 373.9,210.41 374.4,210.45 374.9,210.49 375.4,210.52 375.9,210.56 376.4,210.59 376.9,210.62 377.4,210.65 377.9,210.67 378.4,210.70 378.9,210.73 379.4,210.75 379.9,210.77 380.4,210.78 380.9,210.79 381.4,210.80 381.9,210.80 382.4,210.79 382.9,210.77 383.4,210.74 383.9,210.70 384.4,210.65 384.9,210.59 385.4,210.53 385.9,210.47 386.4,210.41 386.9,210.35 387.4,210.29 387.9,210.23 388.4,210.18 388.9,210.14 389.4,210.11 389.9,210.08 390.4,210.05 390.9,210.03 391.4,210.00 391.9,209.98 392.4,209.95 392.9,209.93 393.4,209.91 393.9,209.89 394.4,209.86 394.9,209.84 395.4,209.83 395.9,209.81 396.4,209.79 396.9,209.78 397.4,209.76 397.9,209.75 398.4,209.73 398.9,209.72 399.4,209.71 399.9,209.70 400.4,209.69 400.9,209.68 401.4,209.68 401.9,209.67 402.4,209.66 402.9,209.65 403.4,209.64 403.9,209.64 404.4,209.63 404.9,209.62 405.4,209.62 405.9,209.61 406.4,209.61 406.9,209.61 407.4,209.60 407.9,209.60 408.4,209.60 408.9,209.60 409.4,209.62 409.9,209.67 410.4,209.74 410.9,209.82 411.4,209.92 411.9,210.03 412.4,210.15 412.9,210.26 413.4,210.38 413.9,210.48 414.4,210.58 414.9,210.68 415.4,210.78 415.9,210.88 416.4,210.99 416.9,211.10 417.4,211.22 417.9,211.34 418.4,211.47 418.9,211.62 419.4,211.78 419.9,211.95 420.4,212.13 420.9,212.30 421.4,212.47 421.9,212.62 422.4,212.77 422.9,212.91 423.4,213.04 423.9,213.18 424.4,213.31 424.9,213.44 425.4,213.58 425.9,213.72 426.4,213.87 426.9,214.02 427.4,214.18 427.9,214.33 428.4,214.49 428.9,214.66 429.4,214.82 429.9,214.99 430.4,215.16 430.9,215.32 431.4,215.49 431.9,215.67 432.4,215.84 432.9,216.01 433.4,216.18 433.9,216.36 434.4,216.53 434.9,216.70 435.4,216.88 435.9,217.06 436.4,217.26 436.9,217.45 437.4,217.64 437.9,217.83 438.4,218.01 438.9,218.18 439.4,218.34 439.9,218.48 440.4,218.58 440.9,218.65 441.4,218.69 441.9,218.73 442.4,218.78 442.9,218.86 443.4,218.98 443.9,219.16 444.2,219.60 444.2,219.6 Z" fill="#ff30c0" fill-opacity="0.120" stroke="none"/>
<path d="M268.4,219.6 L268.4,219.60 268.9,162.50 269.4,160.53 269.9,159.39 270.4,158.48 270.9,157.74 271.4,157.12 271.9,156.60 272.4,156.11 272.9,155.69 273.4,155.32 273.9,155.04 274.4,154.83 274.9,154.63 275.4,154.45 275.9,154.31 276.4,154.22 276.9,154.20 277.4,154.23 277.9,154.28 278.4,154.36 278.9,154.46 279.4,154.58 279.9,154.73 280.4,154.96 280.9,155.26 281.4,155.60 281.9,155.97 282.4,156.33 282.9,156.69 283.4,157.09 283.9,157.52 284.4,157.96 284.9,158.42 285.4,158.88 285.9,159.33 286.4,159.78 286.9,160.21 287.4,160.65 287.9,161.08 288.4,161.53 288.9,162.00 289.4,162.50 289.9,163.01 290.4,163.53 290.9,164.08 291.4,164.66 291.9,165.29 292.4,166.00 292.9,166.81 293.4,167.79 293.9,168.90 294.4,170.06 294.9,171.23 295.4,172.43 295.9,173.67 296.4,174.94 296.9,176.25 297.4,177.56 297.9,178.88 298.4,180.19 298.9,181.54 299.4,182.90 299.9,184.27 300.4,185.63 300.9,186.96 301.4,188.26 301.9,189.54 302.4,190.82 302.9,192.08 303.4,193.30 303.9,194.48 304.4,195.59 304.9,196.63 305.4,197.62 305.9,198.56 306.4,199.48 306.9,200.38 307.4,201.26 307.9,202.14 308.4,203.04 308.9,203.94 309.4,204.85 309.9,205.74 310.4,206.61 310.9,207.45 311.4,208.25 311.9,209.00 312.4,209.71 312.9,210.42 313.4,211.11 313.9,211.76 314.4,212.38 314.9,212.94 315.4,213.45 315.9,213.88 316.4,214.28 316.9,214.65 317.4,214.99 317.9,215.31 318.4,215.61 318.9,215.89 319.4,216.14 319.9,216.37 320.4,216.58 320.9,216.78 321.4,216.97 321.9,217.14 322.4,217.31 322.9,217.46 323.4,217.61 323.9,217.74 324.4,217.87 324.9,217.98 325.4,218.08 325.9,218.19 326.4,218.29 326.9,218.39 327.4,218.48 327.9,218.57 328.4,218.64 328.9,218.71 329.4,218.76 329.9,218.79 330.4,218.82 330.9,218.84 331.4,218.87 331.9,218.89 332.4,218.91 332.9,218.93 333.4,218.95 333.9,218.97 334.4,218.99 334.9,219.01 335.4,219.03 335.9,219.05 336.4,219.06 336.9,219.08 337.4,219.10 337.9,219.11 338.4,219.12 338.9,219.14 339.4,219.15 339.9,219.16 340.4,219.17 340.9,219.18 341.4,219.20 341.9,219.21 342.4,219.21 342.9,219.22 343.4,219.23 343.9,219.24 344.4,219.25 344.9,219.25 345.4,219.26 345.9,219.27 346.4,219.27 346.9,219.28 347.4,219.28 347.9,219.29 348.4,219.29 348.9,219.29 349.4,219.30 349.9,219.30 350.4,219.30 350.9,219.30 351.4,219.31 351.9,219.31 352.4,219.31 352.9,219.31 353.4,219.32 353.9,219.32 354.4,219.32 354.9,219.32 355.4,219.32 355.9,219.32 356.4,219.33 356.9,219.33 357.4,219.33 357.9,219.33 358.4,219.33 358.9,219.34 359.4,219.34 359.9,219.34 360.4,219.34 360.9,219.34 361.4,219.34 361.9,219.34 362.4,219.35 362.9,219.35 363.4,219.35 363.9,219.35 364.4,219.35 364.9,219.35 365.4,219.35 365.9,219.35 366.4,219.35 366.9,219.36 367.4,219.36 367.9,219.36 368.4,219.36 368.9,219.36 369.4,219.36 369.9,219.36 370.4,219.36 370.9,219.36 371.4,219.36 371.9,219.36 372.4,219.37 372.9,219.37 373.4,219.37 373.9,219.37 374.4,219.37 374.9,219.37 375.4,219.37 375.9,219.37 376.4,219.37 376.9,219.37 377.4,219.37 377.9,219.37 378.4,219.37 378.9,219.37 379.4,219.37 379.9,219.37 380.4,219.37 380.9,219.37 381.4,219.37 381.9,219.37 382.4,219.38 382.9,219.38 383.4,219.38 383.9,219.38 384.4,219.38 384.9,219.38 385.4,219.38 385.9,219.38 386.4,219.38 386.9,219.38 387.4,219.38 387.9,219.38 388.4,219.38 388.9,219.38 389.4,219.38 389.9,219.38 390.4,219.38 390.9,219.38 391.4,219.38 391.9,219.38 392.4,219.38 392.9,219.38 393.4,219.38 393.9,219.38 394.4,219.38 394.9,219.38 395.4,219.38 395.9,219.38 396.4,219.38 396.9,219.38 397.4,219.38 397.9,219.38 398.4,219.38 398.9,219.38 399.4,219.38 399.9,219.38 400.4,219.38 400.9,219.38 401.4,219.38 401.9,219.38 402.4,219.38 402.9,219.38 403.4,219.38 403.9,219.38 404.4,219.39 404.9,219.39 405.4,219.39 405.9,219.39 406.4,219.39 406.9,219.39 407.4,219.39 407.9,219.39 408.4,219.39 408.9,219.39 409.4,219.39 409.9,219.39 410.4,219.39 410.9,219.39 411.4,219.39 411.9,219.39 412.4,219.39 412.9,219.39 413.4,219.39 413.9,219.39 414.4,219.40 414.9,219.40 415.4,219.40 415.9,219.40 416.4,219.40 416.9,219.40 417.4,219.40 417.9,219.40 418.4,219.40 418.9,219.40 419.4,219.40 419.9,219.40 420.4,219.41 420.9,219.41 421.4,219.41 421.9,219.41 422.4,219.41 422.9,219.41 423.4,219.41 423.9,219.41 424.4,219.41 424.9,219.42 425.4,219.42 425.9,219.42 426.4,219.42 426.9,219.42 427.4,219.42 427.9,219.42 428.4,219.43 428.9,219.43 429.4,219.43 429.9,219.43 430.4,219.43 430.9,219.43 431.4,219.44 431.9,219.44 432.4,219.44 432.9,219.44 433.4,219.44 433.9,219.45 434.4,219.45 434.9,219.45 435.4,219.45 435.9,219.45 436.4,219.46 436.9,219.46 437.4,219.46 437.9,219.46 438.4,219.47 438.9,219.47 439.4,219.47 439.9,219.47 440.4,219.48 440.9,219.48 441.4,219.48 441.9,219.49 442.4,219.49 442.9,219.49 443.4,219.49 443.9,219.50 444.2,219.60 444.2,219.6 Z" fill="#c860ff" fill-opacity="0.120" stroke="none"/>
<path d="M268.4,219.6 L268.4,219.60 268.9,204.66 269.4,203.94 269.9,203.63 270.4,203.30 270.9,202.75 271.4,202.21 271.9,201.69 272.4,201.20 272.9,200.74 273.4,200.32 273.9,199.94 274.4,199.60 274.9,199.28 275.4,198.98 275.9,198.71 276.4,198.45 276.9,198.23 277.4,198.04 277.9,197.86 278.4,197.68 278.9,197.51 279.4,197.35 279.9,197.23 280.4,197.14 280.9,197.10 281.4,197.10 281.9,197.12 282.4,197.14 282.9,197.17 283.4,197.20 283.9,197.24 284.4,197.29 284.9,197.35 285.4,197.45 285.9,197.59 286.4,197.75 286.9,197.93 287.4,198.11 287.9,198.30 288.4,198.50 288.9,198.72 289.4,198.97 289.9,199.23 290.4,199.50 290.9,199.79 291.4,200.09 291.9,200.38 292.4,200.68 292.9,200.98 293.4,201.27 293.9,201.55 294.4,201.81 294.9,202.08 295.4,202.35 295.9,202.61 296.4,202.87 296.9,203.14 297.4,203.41 297.9,203.68 298.4,203.95 298.9,204.23 299.4,204.52 299.9,204.81 300.4,205.12 300.9,205.44 301.4,205.77 301.9,206.09 302.4,206.41 302.9,206.72 303.4,207.01 303.9,207.29 304.4,207.55 304.9,207.79 305.4,208.03 305.9,208.27 306.4,208.49 306.9,208.71 307.4,208.92 307.9,209.12 308.4,209.30 308.9,209.47 309.4,209.62 309.9,209.75 310.4,209.86 310.9,209.97 311.4,210.06 311.9,210.14 312.4,210.22 312.9,210.30 313.4,210.39 313.9,210.47 314.4,210.57 314.9,210.68 315.4,210.80 315.9,210.93 316.4,211.08 316.9,211.23 317.4,211.39 317.9,211.56 318.4,211.72 318.9,211.89 319.4,212.05 319.9,212.21 320.4,212.36 320.9,212.50 321.4,212.64 321.9,212.78 322.4,212.92 322.9,213.07 323.4,213.21 323.9,213.37 324.4,213.53 324.9,213.71 325.4,213.89 325.9,214.08 326.4,214.27 326.9,214.46 327.4,214.65 327.9,214.83 328.4,215.01 328.9,215.17 329.4,215.33 329.9,215.49 330.4,215.65 330.9,215.82 331.4,215.98 331.9,216.14 332.4,216.28 332.9,216.42 333.4,216.54 333.9,216.65 334.4,216.73 334.9,216.79 335.4,216.83 335.9,216.88 336.4,216.92 336.9,216.95 337.4,216.99 337.9,217.02 338.4,217.05 338.9,217.08 339.4,217.11 339.9,217.13 340.4,217.15 340.9,217.17 341.4,217.18 341.9,217.19 342.4,217.20 342.9,217.20 343.4,217.20 343.9,217.20 344.4,217.19 344.9,217.18 345.4,217.17 345.9,217.16 346.4,217.15 346.9,217.14 347.4,217.12 347.9,217.10 348.4,217.09 348.9,217.07 349.4,217.05 349.9,217.03 350.4,217.00 350.9,216.98 351.4,216.96 351.9,216.94 352.4,216.91 352.9,216.89 353.4,216.86 353.9,216.82 354.4,216.77 354.9,216.72 355.4,216.66 355.9,216.60 356.4,216.54 356.9,216.48 357.4,216.42 357.9,216.36 358.4,216.30 358.9,216.25 359.4,216.20 359.9,216.16 360.4,216.13 360.9,216.11 361.4,216.10 361.9,216.10 362.4,216.10 362.9,216.10 363.4,216.10 363.9,216.10 364.4,216.10 364.9,216.10 365.4,216.10 365.9,216.10 366.4,216.10 366.9,216.10 367.4,216.10 367.9,216.10 368.4,216.10 368.9,216.11 369.4,216.12 369.9,216.14 370.4,216.17 370.9,216.19 371.4,216.22 371.9,216.25 372.4,216.28 372.9,216.31 373.4,216.33 373.9,216.36 374.4,216.38 374.9,216.40 375.4,216.41 375.9,216.43 376.4,216.44 376.9,216.45 377.4,216.47 377.9,216.48 378.4,216.50 378.9,216.51 379.4,216.52 379.9,216.54 380.4,216.55 380.9,216.56 381.4,216.57 381.9,216.58 382.4,216.58 382.9,216.59 383.4,216.59 383.9,216.60 384.4,216.60 384.9,216.60 385.4,216.59 385.9,216.56 386.4,216.52 386.9,216.46 387.4,216.40 387.9,216.33 388.4,216.24 388.9,216.15 389.4,216.05 389.9,215.95 390.4,215.84 390.9,215.72 391.4,215.60 391.9,215.48 392.4,215.36 392.9,215.24 393.4,215.12 393.9,215.00 394.4,214.88 394.9,214.74 395.4,214.59 395.9,214.42 396.4,214.24 396.9,214.06 397.4,213.88 397.9,213.71 398.4,213.56 398.9,213.42 399.4,213.31 399.9,213.18 400.4,213.06 400.9,212.94 401.4,212.83 401.9,212.72 402.4,212.64 402.9,212.57 403.4,212.52 403.9,212.50 404.4,212.51 404.9,212.54 405.4,212.59 405.9,212.65 406.4,212.73 406.9,212.81 407.4,212.90 407.9,212.98 408.4,213.07 408.9,213.18 409.4,213.31 409.9,213.45 410.4,213.59 410.9,213.74 411.4,213.88 411.9,214.03 412.4,214.20 412.9,214.39 413.4,214.60 413.9,214.80 414.4,214.98 414.9,215.14 415.4,215.25 415.9,215.30 416.4,215.29 416.9,215.27 417.4,215.24 417.9,215.19 418.4,215.14 418.9,215.07 419.4,215.00 419.9,214.89 420.4,214.71 420.9,214.49 421.4,214.22 421.9,213.92 422.4,213.60 422.9,213.22 423.4,212.74 423.9,212.20 424.4,211.62 424.9,211.03 425.4,210.41 425.9,209.74 426.4,209.00 426.9,208.16 427.4,207.18 427.9,205.95 428.4,204.50 428.9,202.89 429.4,201.18 429.9,199.45 430.4,197.69 430.9,195.83 431.4,193.89 431.9,191.87 432.4,189.78 432.9,187.64 433.4,185.44 433.9,183.11 434.4,180.56 434.9,178.00 435.4,175.64 435.9,173.61 436.4,171.67 436.9,169.83 437.4,168.13 437.9,166.62 438.4,165.33 438.9,164.23 439.4,163.20 439.9,162.25 440.4,161.44 440.9,160.78 441.4,160.30 441.9,159.93 442.4,159.61 442.9,159.39 443.4,159.30 443.9,159.43 444.2,219.60 444.2,219.6 Z" fill="none" stroke="#16a216" stroke-width="1.80" stroke-linejoin="round"/>
<path d="M268.4,219.6 L268.4,219.60 268.9,191.49 269.4,190.68 269.9,190.18 270.4,189.23 270.9,188.31 271.4,187.44 271.9,186.62 272.4,185.85 272.9,185.11 273.4,184.39 273.9,183.71 274.4,183.10 274.9,182.59 275.4,182.17 275.9,181.77 276.4,181.43 276.9,181.14 277.4,180.93 277.9,180.78 278.4,180.65 278.9,180.53 279.4,180.45 279.9,180.40 280.4,180.41 280.9,180.46 281.4,180.55 281.9,180.67 282.4,180.81 282.9,180.97 283.4,181.15 283.9,181.41 284.4,181.74 284.9,182.12 285.4,182.53 285.9,182.98 286.4,183.44 286.9,183.91 287.4,184.39 287.9,184.92 288.4,185.49 288.9,186.10 289.4,186.72 289.9,187.37 290.4,188.04 290.9,188.74 291.4,189.48 291.9,190.23 292.4,191.00 292.9,191.76 293.4,192.57 293.9,193.40 294.4,194.24 294.9,195.08 295.4,195.92 295.9,196.73 296.4,197.50 296.9,198.23 297.4,198.90 297.9,199.56 298.4,200.19 298.9,200.80 299.4,201.38 299.9,201.91 300.4,202.41 300.9,202.87 301.4,203.31 301.9,203.75 302.4,204.16 302.9,204.54 303.4,204.88 303.9,205.19 304.4,205.45 304.9,205.68 305.4,205.90 305.9,206.10 306.4,206.28 306.9,206.41 307.4,206.49 307.9,206.53 308.4,206.56 308.9,206.58 309.4,206.60 309.9,206.59 310.4,206.44 310.9,206.18 311.4,205.83 311.9,205.45 312.4,205.07 312.9,204.71 313.4,204.30 313.9,203.87 314.4,203.40 314.9,202.91 315.4,202.40 315.9,201.86 316.4,201.25 316.9,200.61 317.4,199.98 317.9,199.41 318.4,198.90 318.9,198.42 319.4,197.96 319.9,197.52 320.4,197.10 320.9,196.71 321.4,196.36 321.9,196.04 322.4,195.74 322.9,195.47 323.4,195.23 323.9,195.03 324.4,194.86 324.9,194.71 325.4,194.61 325.9,194.62 326.4,194.71 326.9,194.86 327.4,195.04 327.9,195.30 328.4,195.65 328.9,196.10 329.4,196.60 329.9,197.14 330.4,197.72 330.9,198.40 331.4,199.22 331.9,200.12 332.4,201.06 332.9,202.02 333.4,202.95 333.9,203.83 334.4,204.75 334.9,205.70 335.4,206.63 335.9,207.53 336.4,208.35 336.9,209.07 337.4,209.70 337.9,210.31 338.4,210.89 338.9,211.42 339.4,211.89 339.9,212.29 340.4,212.60 340.9,212.86 341.4,213.10 341.9,213.32 342.4,213.51 342.9,213.67 343.4,213.80 343.9,213.89 344.4,213.95 344.9,214.00 345.4,214.05 345.9,214.09 346.4,214.13 346.9,214.16 347.4,214.18 347.9,214.20 348.4,214.20 348.9,214.19 349.4,214.17 349.9,214.13 350.4,214.09 350.9,214.03 351.4,213.97 351.9,213.90 352.4,213.83 352.9,213.75 353.4,213.67 353.9,213.58 354.4,213.50 354.9,213.42 355.4,213.33 355.9,213.23 356.4,213.11 356.9,212.98 357.4,212.85 357.9,212.71 358.4,212.56 358.9,212.41 359.4,212.25 359.9,212.10 360.4,211.95 360.9,211.80 361.4,211.66 361.9,211.53 362.4,211.39 362.9,211.25 363.4,211.10 363.9,210.94 364.4,210.78 364.9,210.62 365.4,210.47 365.9,210.33 366.4,210.20 366.9,210.09 367.4,210.01 367.9,209.94 368.4,209.91 368.9,209.90 369.4,209.92 369.9,209.95 370.4,209.99 370.9,210.04 371.4,210.10 371.9,210.16 372.4,210.22 372.9,210.29 373.4,210.35 373.9,210.41 374.4,210.45 374.9,210.49 375.4,210.52 375.9,210.56 376.4,210.59 376.9,210.62 377.4,210.65 377.9,210.67 378.4,210.70 378.9,210.73 379.4,210.75 379.9,210.77 380.4,210.78 380.9,210.79 381.4,210.80 381.9,210.80 382.4,210.79 382.9,210.77 383.4,210.74 383.9,210.70 384.4,210.65 384.9,210.59 385.4,210.53 385.9,210.47 386.4,210.41 386.9,210.35 387.4,210.29 387.9,210.23 388.4,210.18 388.9,210.14 389.4,210.11 389.9,210.08 390.4,210.05 390.9,210.03 391.4,210.00 391.9,209.98 392.4,209.95 392.9,209.93 393.4,209.91 393.9,209.89 394.4,209.86 394.9,209.84 395.4,209.83 395.9,209.81 396.4,209.79 396.9,209.78 397.4,209.76 397.9,209.75 398.4,209.73 398.9,209.72 399.4,209.71 399.9,209.70 400.4,209.69 400.9,209.68 401.4,209.68 401.9,209.67 402.4,209.66 402.9,209.65 403.4,209.64 403.9,209.64 404.4,209.63 404.9,209.62 405.4,209.62 405.9,209.61 406.4,209.61 406.9,209.61 407.4,209.60 407.9,209.60 408.4,209.60 408.9,209.60 409.4,209.62 409.9,209.67 410.4,209.74 410.9,209.82 411.4,209.92 411.9,210.03 412.4,210.15 412.9,210.26 413.4,210.38 413.9,210.48 414.4,210.58 414.9,210.68 415.4,210.78 415.9,210.88 416.4,210.99 416.9,211.10 417.4,211.22 417.9,211.34 418.4,211.47 418.9,211.62 419.4,211.78 419.9,211.95 420.4,212.13 420.9,212.30 421.4,212.47 421.9,212.62 422.4,212.77 422.9,212.91 423.4,213.04 423.9,213.18 424.4,213.31 424.9,213.44 425.4,213.58 425.9,213.72 426.4,213.87 426.9,214.02 427.4,214.18 427.9,214.33 428.4,214.49 428.9,214.66 429.4,214.82 429.9,214.99 430.4,215.16 430.9,215.32 431.4,215.49 431.9,215.67 432.4,215.84 432.9,216.01 433.4,216.18 433.9,216.36 434.4,216.53 434.9,216.70 435.4,216.88 435.9,217.06 436.4,217.26 436.9,217.45 437.4,217.64 437.9,217.83 438.4,218.01 438.9,218.18 439.4,218.34 439.9,218.48 440.4,218.58 440.9,218.65 441.4,218.69 441.9,218.73 442.4,218.78 442.9,218.86 443.4,218.98 443.9,219.16 444.2,219.60 444.2,219.6 Z" fill="none" stroke="#ff4fc8" stroke-width="1.50" stroke-linejoin="round"/>
<path d="M268.4,219.6 L268.4,219.60 268.9,162.50 269.4,160.53 269.9,159.39 270.4,158.48 270.9,157.74 271.4,157.12 271.9,156.60 272.4,156.11 272.9,155.69 273.4,155.32 273.9,155.04 274.4,154.83 274.9,154.63 275.4,154.45 275.9,154.31 276.4,154.22 276.9,154.20 277.4,154.23 277.9,154.28 278.4,154.36 278.9,154.46 279.4,154.58 279.9,154.73 280.4,154.96 280.9,155.26 281.4,155.60 281.9,155.97 282.4,156.33 282.9,156.69 283.4,157.09 283.9,157.52 284.4,157.96 284.9,158.42 285.4,158.88 285.9,159.33 286.4,159.78 286.9,160.21 287.4,160.65 287.9,161.08 288.4,161.53 288.9,162.00 289.4,162.50 289.9,163.01 290.4,163.53 290.9,164.08 291.4,164.66 291.9,165.29 292.4,166.00 292.9,166.81 293.4,167.79 293.9,168.90 294.4,170.06 294.9,171.23 295.4,172.43 295.9,173.67 296.4,174.94 296.9,176.25 297.4,177.56 297.9,178.88 298.4,180.19 298.9,181.54 299.4,182.90 299.9,184.27 300.4,185.63 300.9,186.96 301.4,188.26 301.9,189.54 302.4,190.82 302.9,192.08 303.4,193.30 303.9,194.48 304.4,195.59 304.9,196.63 305.4,197.62 305.9,198.56 306.4,199.48 306.9,200.38 307.4,201.26 307.9,202.14 308.4,203.04 308.9,203.94 309.4,204.85 309.9,205.74 310.4,206.61 310.9,207.45 311.4,208.25 311.9,209.00 312.4,209.71 312.9,210.42 313.4,211.11 313.9,211.76 314.4,212.38 314.9,212.94 315.4,213.45 315.9,213.88 316.4,214.28 316.9,214.65 317.4,214.99 317.9,215.31 318.4,215.61 318.9,215.89 319.4,216.14 319.9,216.37 320.4,216.58 320.9,216.78 321.4,216.97 321.9,217.14 322.4,217.31 322.9,217.46 323.4,217.61 323.9,217.74 324.4,217.87 324.9,217.98 325.4,218.08 325.9,218.19 326.4,218.29 326.9,218.39 327.4,218.48 327.9,218.57 328.4,218.64 328.9,218.71 329.4,218.76 329.9,218.79 330.4,218.82 330.9,218.84 331.4,218.87 331.9,218.89 332.4,218.91 332.9,218.93 333.4,218.95 333.9,218.97 334.4,218.99 334.9,219.01 335.4,219.03 335.9,219.05 336.4,219.06 336.9,219.08 337.4,219.10 337.9,219.11 338.4,219.12 338.9,219.14 339.4,219.15 339.9,219.16 340.4,219.17 340.9,219.18 341.4,219.20 341.9,219.21 342.4,219.21 342.9,219.22 343.4,219.23 343.9,219.24 344.4,219.25 344.9,219.25 345.4,219.26 345.9,219.27 346.4,219.27 346.9,219.28 347.4,219.28 347.9,219.29 348.4,219.29 348.9,219.29 349.4,219.30 349.9,219.30 350.4,219.30 350.9,219.30 351.4,219.31 351.9,219.31 352.4,219.31 352.9,219.31 353.4,219.32 353.9,219.32 354.4,219.32 354.9,219.32 355.4,219.32 355.9,219.32 356.4,219.33 356.9,219.33 357.4,219.33 357.9,219.33 358.4,219.33 358.9,219.34 359.4,219.34 359.9,219.34 360.4,219.34 360.9,219.34 361.4,219.34 361.9,219.34 362.4,219.35 362.9,219.35 363.4,219.35 363.9,219.35 364.4,219.35 364.9,219.35 365.4,219.35 365.9,219.35 366.4,219.35 366.9,219.36 367.4,219.36 367.9,219.36 368.4,219.36 368.9,219.36 369.4,219.36 369.9,219.36 370.4,219.36 370.9,219.36 371.4,219.36 371.9,219.36 372.4,219.37 372.9,219.37 373.4,219.37 373.9,219.37 374.4,219.37 374.9,219.37 375.4,219.37 375.9,219.37 376.4,219.37 376.9,219.37 377.4,219.37 377.9,219.37 378.4,219.37 378.9,219.37 379.4,219.37 379.9,219.37 380.4,219.37 380.9,219.37 381.4,219.37 381.9,219.37 382.4,219.38 382.9,219.38 383.4,219.38 383.9,219.38 384.4,219.38 384.9,219.38 385.4,219.38 385.9,219.38 386.4,219.38 386.9,219.38 387.4,219.38 387.9,219.38 388.4,219.38 388.9,219.38 389.4,219.38 389.9,219.38 390.4,219.38 390.9,219.38 391.4,219.38 391.9,219.38 392.4,219.38 392.9,219.38 393.4,219.38 393.9,219.38 394.4,219.38 394.9,219.38 395.4,219.38 395.9,219.38 396.4,219.38 396.9,219.38 397.4,219.38 397.9,219.38 398.4,219.38 398.9,219.38 399.4,219.38 399.9,219.38 400.4,219.38 400.9,219.38 401.4,219.38 401.9,219.38 402.4,219.38 402.9,219.38 403.4,219.38 403.9,219.38 404.4,219.39 404.9,219.39 405.4,219.39 405.9,219.39 406.4,219.39 406.9,219.39 407.4,219.39 407.9,219.39 408.4,219.39 408.9,219.39 409.4,219.39 409.9,219.39 410.4,219.39 410.9,219.39 411.4,219.39 411.9,219.39 412.4,219.39 412.9,219.39 413.4,219.39 413.9,219.39 414.4,219.40 414.9,219.40 415.4,219.40 415.9,219.40 416.4,219.40 416.9,219.40 417.4,219.40 417.9,219.40 418.4,219.40 418.9,219.40 419.4,219.40 419.9,219.40 420.4,219.41 420.9,219.41 421.4,219.41 421.9,219.41 422.4,219.41 422.9,219.41 423.4,219.41 423.9,219.41 424.4,219.41 424.9,219.42 425.4,219.42 425.9,219.42 426.4,219.42 426.9,219.42 427.4,219.42 427.9,219.42 428.4,219.43 428.9,219.43 429.4,219.43 429.9,219.43 430.4,219.43 430.9,219.43 431.4,219.44 431.9,219.44 432.4,219.44 432.9,219.44 433.4,219.44 433.9,219.45 434.4,219.45 434.9,219.45 435.4,219.45 435.9,219.45 436.4,219.46 436.9,219.46 437.4,219.46 437.9,219.46 438.4,219.47 438.9,219.47 439.4,219.47 439.9,219.47 440.4,219.48 440.9,219.48 441.4,219.48 441.9,219.49 442.4,219.49 442.9,219.49 443.4,219.49 443.9,219.50 444.2,219.60 444.2,219.6 Z" fill="none" stroke="#d887ff" stroke-width="1.75" stroke-linejoin="round"/>
<line x1="282.80" y1="223.30" x2="282.80" y2="140.20" stroke="#d887ff" stroke-width="1.50" stroke-dasharray="6.00 6.00"/>
<line x1="321.80" y1="223.30" x2="321.80" y2="140.20" stroke="#ff4fc8" stroke-width="1.50" stroke-dasharray="6.00 6.00"/>
<line x1="374.20" y1="223.30" x2="374.20" y2="140.20" stroke="#e5a100" stroke-width="1.50" stroke-dasharray="6.00 6.00"/>
<line x1="380.00" y1="223.30" x2="380.00" y2="140.20" stroke="#16a216" stroke-width="1.50" stroke-dasharray="6.00 6.00"/>
<line x1="386.10" y1="223.30" x2="386.10" y2="140.20" stroke="#b1a300" stroke-width="1.50" stroke-dasharray="6.00 6.00"/>
<line x1="388.10" y1="223.30" x2="388.10" y2="140.20" stroke="#ff8f1f" stroke-width="1.50" stroke-dasharray="6.00 6.00"/>
<path d="M259.50,139.80 V223.30 H452.00" fill="none" stroke="#262626" stroke-width="1.15"/>
<line x1="268.25" y1="223.30" x2="268.25" y2="224.60" stroke="#262626" stroke-width="0.6" opacity="0.5"/>
<text x="268.25" y="232.40" font-size="9.30" text-anchor="middle" font-weight="normal" fill="#2e2e2e" style="color:#2e2e2e" >0.00</text>
<line x1="312.20" y1="223.30" x2="312.20" y2="224.60" stroke="#262626" stroke-width="0.6" opacity="0.5"/>
<text x="312.20" y="232.40" font-size="9.30" text-anchor="middle" font-weight="normal" fill="#2e2e2e" style="color:#2e2e2e" >0.25</text>
<line x1="356.10" y1="223.30" x2="356.10" y2="224.60" stroke="#262626" stroke-width="0.6" opacity="0.5"/>
<text x="356.10" y="232.40" font-size="9.30" text-anchor="middle" font-weight="normal" fill="#2e2e2e" style="color:#2e2e2e" >0.50</text>
<line x1="400.00" y1="223.30" x2="400.00" y2="224.60" stroke="#262626" stroke-width="0.6" opacity="0.5"/>
<text x="400.00" y="232.40" font-size="9.30" text-anchor="middle" font-weight="normal" fill="#2e2e2e" style="color:#2e2e2e" >0.75</text>
<line x1="443.90" y1="223.30" x2="443.90" y2="224.60" stroke="#262626" stroke-width="0.6" opacity="0.5"/>
<text x="443.90" y="232.40" font-size="9.30" text-anchor="middle" font-weight="normal" fill="#2e2e2e" style="color:#2e2e2e" >1.00</text>
<line x1="258.20" y1="219.40" x2="259.50" y2="219.40" stroke="#262626" stroke-width="0.6" opacity="0.5"/>
<text x="257.60" y="222.70" font-size="9.30" text-anchor="end" font-weight="normal" fill="#2e2e2e" style="color:#2e2e2e" >0</text>
<line x1="258.20" y1="204.80" x2="259.50" y2="204.80" stroke="#262626" stroke-width="0.6" opacity="0.5"/>
<text x="257.60" y="208.10" font-size="9.30" text-anchor="end" font-weight="normal" fill="#2e2e2e" style="color:#2e2e2e" >1</text>
<line x1="258.20" y1="190.20" x2="259.50" y2="190.20" stroke="#262626" stroke-width="0.6" opacity="0.5"/>
<text x="257.60" y="193.50" font-size="9.30" text-anchor="end" font-weight="normal" fill="#2e2e2e" style="color:#2e2e2e" >2</text>
<line x1="258.20" y1="175.60" x2="259.50" y2="175.60" stroke="#262626" stroke-width="0.6" opacity="0.5"/>
<text x="257.60" y="178.90" font-size="9.30" text-anchor="end" font-weight="normal" fill="#2e2e2e" style="color:#2e2e2e" >3</text>
<line x1="258.20" y1="161.00" x2="259.50" y2="161.00" stroke="#262626" stroke-width="0.6" opacity="0.5"/>
<text x="257.60" y="164.30" font-size="9.30" text-anchor="end" font-weight="normal" fill="#2e2e2e" style="color:#2e2e2e" >4</text>
<line x1="258.20" y1="146.40" x2="259.50" y2="146.40" stroke="#262626" stroke-width="0.6" opacity="0.5"/>
<text x="257.60" y="149.70" font-size="9.30" text-anchor="end" font-weight="normal" fill="#2e2e2e" style="color:#2e2e2e" >5</text>
<text x="355.80" y="242.90" font-size="10.00" text-anchor="middle" font-weight="normal" fill="#1a1a1a" style="color:#1a1a1a" >Gst'</text>
<text x="0.00" y="0.00" font-size="10.00" text-anchor="middle" font-weight="normal" fill="#1a1a1a" style="color:#1a1a1a" transform="translate(250.3,181.0) rotate(-90)">Density</text>
<path d="M446.8,141.5 V164.9 M446.8,153.3 H463.2" fill="none" stroke="#333" stroke-width="1.0"/>
<path d="M466.4,153.3 L462.6,151.6 L462.6,155.0 Z" fill="#333"/>
<path d="M447.0,212.6 V219.0 M447.0,215.4 L464.3,197.9" fill="none" stroke="#333" stroke-width="1.0"/>
<path d="M466.6,195.6 L462.4,197.4 L464.7,199.8 Z" fill="#333"/>
<rect x="472.95" y="142.05" width="6.20" height="5.40" fill="#ff8f1f" fill-opacity="0.18" stroke="#ff8f1f" stroke-width="1.1"/><line x1="476.05" y1="142.05" x2="476.05" y2="147.45" stroke="#ff8f1f" stroke-width="1.1"/>
<text x="485.70" y="148.80" font-size="8.60" text-anchor="start" font-weight="normal" fill="#1a1a1a" style="color:#1a1a1a" >h1h1 vs. h2h2</text>
<rect x="472.95" y="150.45" width="6.20" height="5.40" fill="#e5a100" fill-opacity="0.18" stroke="#e5a100" stroke-width="1.1"/><line x1="476.05" y1="150.45" x2="476.05" y2="155.85" stroke="#e5a100" stroke-width="1.1"/>
<text x="485.70" y="157.20" font-size="8.60" text-anchor="start" font-weight="normal" fill="#1a1a1a" style="color:#1a1a1a" >h1h1 vs. h2h3</text>
<rect x="472.95" y="158.85" width="6.20" height="5.40" fill="#b1a300" fill-opacity="0.18" stroke="#b1a300" stroke-width="1.1"/><line x1="476.05" y1="158.85" x2="476.05" y2="164.25" stroke="#b1a300" stroke-width="1.1"/>
<text x="485.70" y="165.50" font-size="8.60" text-anchor="start" font-weight="normal" fill="#1a1a1a" style="color:#1a1a1a" >h1h3 vs. h2h2</text>
<rect x="472.95" y="166.75" width="6.20" height="5.40" fill="#16a216" fill-opacity="0.18" stroke="#16a216" stroke-width="1.1"/><line x1="476.05" y1="166.75" x2="476.05" y2="172.15" stroke="#16a216" stroke-width="1.1"/>
<text x="485.70" y="173.80" font-size="8.60" text-anchor="start" font-weight="normal" fill="#1a1a1a" style="color:#1a1a1a" >h1h3 vs. h2h3</text>
<rect x="472.95" y="184.25" width="6.20" height="5.40" fill="#ff4fc8" fill-opacity="0.18" stroke="#ff4fc8" stroke-width="1.1"/><line x1="476.05" y1="184.25" x2="476.05" y2="189.65" stroke="#ff4fc8" stroke-width="1.1"/>
<text x="485.70" y="191.00" font-size="8.60" text-anchor="start" font-weight="normal" fill="#1a1a1a" style="color:#1a1a1a" >h1h1 vs. h1h3</text>
<rect x="472.95" y="192.75" width="6.20" height="5.40" fill="#d887ff" fill-opacity="0.18" stroke="#d887ff" stroke-width="1.1"/><line x1="476.05" y1="192.75" x2="476.05" y2="198.15" stroke="#d887ff" stroke-width="1.1"/>
<text x="485.70" y="199.20" font-size="8.60" text-anchor="start" font-weight="normal" fill="#1a1a1a" style="color:#1a1a1a" >h2h2 vs. h2h3</text>
</svg>
</body></html>
